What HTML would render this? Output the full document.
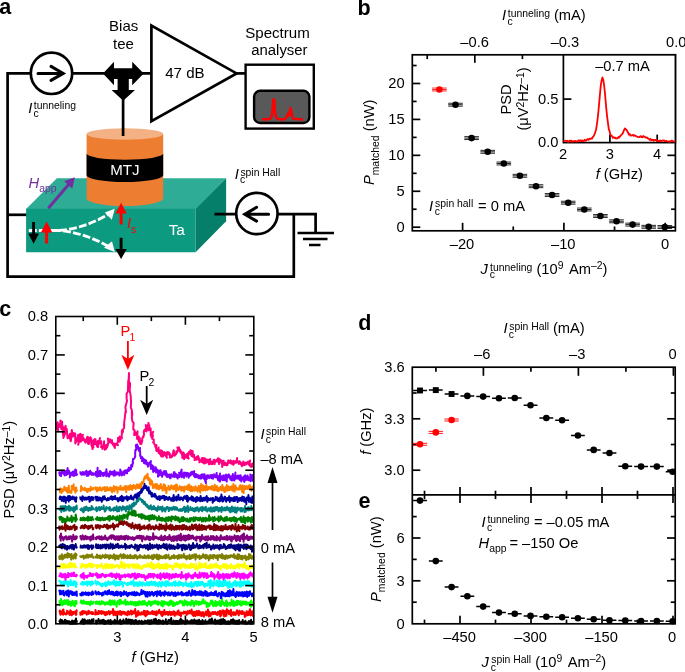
<!DOCTYPE html>
<html lang="en"><head><meta charset="utf-8"><title>Figure</title>
<style>html,body{margin:0;padding:0;background:#fff;width:685px;height:672px;overflow:hidden}svg{display:block}</style></head>
<body>
<svg width="685" height="672" viewBox="0 0 685 672" font-family='"Liberation Sans", sans-serif' font-size="14.7">
<rect width="685" height="672" fill="#fff"/>
<g id="panel-a">
<text x="-0.7" y="14" font-size="21.5" text-anchor="start" fill="#000" font-weight="bold" font-style="normal" >a</text>
<path d="M30 73.4 H7.6 V276.7 H293.8 V214.2" fill="none" stroke="#000" stroke-width="2.7" stroke-linejoin="miter"/>
<path d="M7.6 214.8 H27" fill="none" stroke="#000" stroke-width="2.7"/>
<path d="M73 73.4 H152" fill="none" stroke="#000" stroke-width="2.7"/>
<circle cx="51.5" cy="73.3" r="20.7" fill="#fff" stroke="#000" stroke-width="2.7"/>
<path d="M38 73.4 H62 M51 66.4 L63.2 73.4 L51 80.4" fill="none" stroke="#000" stroke-width="3" stroke-linejoin="miter" stroke-linecap="round"/>
<path d="M103 73.5 L114 61.8 V68.2 H132.2 V61.8 L143.7 73.5 L132.2 85.2 V78.9 H128.8 V90 H135 L123.2 100.7 L111.6 90 H117.6 V78.9 H114 V85.2 Z" fill="#000"/>
<path d="M123.1 98 V136" stroke="#000" stroke-width="2.7"/>
<text x="123.7" y="30.9" font-size="15.0" text-anchor="middle" fill="#000" font-weight="normal" font-style="normal" >Bias</text>
<text x="123.4" y="48.5" font-size="15.0" text-anchor="middle" fill="#000" font-weight="normal" font-style="normal" >tee</text>
<path d="M151.4 25.6 V121.2 L236.6 73.4 Z" fill="#fff" stroke="#000" stroke-width="2.7" stroke-linejoin="miter"/>
<text x="184.9" y="78" font-size="15.1" text-anchor="middle" fill="#000" font-weight="normal" font-style="normal" >47 dB</text>
<path d="M237 73.4 H246" stroke="#000" stroke-width="2.7"/>
<rect x="245.6" y="64.7" width="68.2" height="63.9" fill="#fff" stroke="#000" stroke-width="2.4"/>
<rect x="254.1" y="90.8" width="55.3" height="32.2" rx="6" fill="#595959" stroke="#000" stroke-width="2.4"/>
<path d="M262 119.2 H268.5 C271.8 119.2 272.6 116 273.2 99.6 H274.2 C274.8 116 275.8 119.2 279 119.2 H284.5 C286.5 119.2 287 114.5 288.2 113.5 L289.4 115.5 C289.8 111 290 108.2 290.5 108 C291.2 108.2 291.6 118 293.5 118.8 L303 119.6" fill="none" stroke="#f00" stroke-width="2.5" stroke-linejoin="round"/>
<text x="277.5" y="37.7" font-size="15.1" text-anchor="middle" fill="#000" font-weight="normal" font-style="normal" >Spectrum</text>
<text x="279.4" y="55.3" font-size="14.9" text-anchor="middle" fill="#000" font-weight="normal" font-style="normal" >analyser</text>
<polygon points="26.1,208.9 56.9,178.3 226.1,178.3 195.6,208.9" fill="#2eac95"/>
<polygon points="26.1,208.8 195.6,208.8 195.6,252.2 26.1,252.2" fill="#0c9a80"/>
<polygon points="195.6,208.8 226.1,178.3 226.1,221.2 195.6,252.2" fill="#067f6a"/>
<text x="176.8" y="234.9" font-size="15.4" text-anchor="middle" fill="#fff" font-weight="normal" font-style="normal" >Ta</text>
<path d="M214.5 214.2 H236 M278 214.2 H315.6 V233" fill="none" stroke="#000" stroke-width="2.7"/>
<circle cx="256.9" cy="213.5" r="20.7" fill="#fff" stroke="#000" stroke-width="2.7"/>
<path d="M268.6 214.2 H246 M256.6 207.3 L244.8 214.2 L256.6 221.1" fill="none" stroke="#000" stroke-width="3" stroke-linejoin="miter" stroke-linecap="round"/>
<path d="M297.5 233 H334 M303 239 H327.5 M309 245 H320.5" stroke="#000" stroke-width="2.7"/>
<path d="M86.60000000000001 134 V198.5 A38.3 7.5 0 0 0 163.2 198.5 V134 Z" fill="#ed7d31"/>
<path d="M86.60000000000001 153.5 A38.3 6.2 0 0 0 163.2 153.5 V175.2 A38.3 6.9 0 0 1 86.60000000000001 175.2 Z" fill="#000"/>
<ellipse cx="124.9" cy="134" rx="38.3" ry="5.7" fill="#f4b183"/>
<path d="M123.1 128 V136" stroke="#000" stroke-width="2.7"/>
<text x="124.9" y="174.6" font-size="15.1" text-anchor="middle" fill="#fff" font-weight="normal" font-style="normal" >MTJ</text>
<path d="M48.3 208.3 L68.4 184.8" stroke="#7030a0" stroke-width="3"/>
<polygon points="74.8,177.3 64.2,181.2 72.3,188.8" fill="#7030a0"/>
<text x="28.6" y="187.9" font-size="14.7" fill="#7030a0"><tspan font-style="italic">H</tspan><tspan font-size="10.4" dy="4.4">app</tspan></text>
<path d="M28.8 230.5 H56 C72 230.5 92 224 108 214.6" fill="none" stroke="#fff" stroke-width="2.8" stroke-dasharray="7.9 2.2"/>
<path d="M56 230.5 C72 230.5 92 237 108 246.2" fill="none" stroke="#fff" stroke-width="2.8" stroke-dasharray="7.9 2.2" stroke-dashoffset="3"/>
<polygon points="114.8,208.8 104.8,212.6 111.8,219.8" fill="#fff"/>
<polygon points="114.8,252 104,247.8 112,241.2" fill="#fff"/>
<path d="M33.6 222 V235.64" stroke="#000" stroke-width="2.9"/>
<polygon points="33.6,243.8 28.2,233.6 39,233.6" fill="#000"/>
<path d="M46.6 243.5 V230.24" stroke="#f00" stroke-width="3.0"/>
<polygon points="46.6,221.6 40.9,232.4 52.3,232.4" fill="#f00"/>
<path d="M121.1 224.5 V211.28" stroke="#f00" stroke-width="3.0"/>
<polygon points="121.1,202.8 115.4,213.4 126.8,213.4" fill="#f00"/>
<path d="M121.1 237.8 V251" stroke="#000" stroke-width="2.9"/>
<polygon points="121.1,259 115.4,249 126.8,249" fill="#000"/>
<text x="126.9" y="228.4" font-size="14.7" fill="#f00"><tspan font-style="italic">I</tspan><tspan font-size="10.4" dy="4.4">s</tspan></text>
<text x="28.2" y="112.8" font-size="14.7" font-style="italic" fill="#000">I</text>
<text x="33.8" y="109.1" font-size="10.4" fill="#000">tunneling</text>
<text x="33.4" y="116.9" font-size="10.4" fill="#000">c</text>
<text x="234.8" y="179.3" font-size="14.7" font-style="italic" fill="#000">I</text>
<text x="240.4" y="175.6" font-size="10.4" fill="#000">spin Hall</text>
<text x="240" y="183.4" font-size="10.4" fill="#000">c</text>
</g>
<g id="panel-b">
<text x="357.6" y="15.2" font-size="21.5" text-anchor="start" fill="#000" font-weight="bold" font-style="normal" >b</text>
<rect x="412.3" y="54.8" width="263.09999999999997" height="176.0" fill="none" stroke="#000" stroke-width="1.7"/>
<line x1="412.3" y1="227.2" x2="420.3" y2="227.2" stroke="#000" stroke-width="1.7" />
<line x1="675.4" y1="227.2" x2="667.4" y2="227.2" stroke="#000" stroke-width="1.7" />
<text x="404.7" y="232.15" font-size="14.7" text-anchor="end" fill="#000" font-weight="normal" font-style="normal" >0</text>
<line x1="412.3" y1="191.27" x2="420.3" y2="191.27" stroke="#000" stroke-width="1.7" />
<line x1="675.4" y1="191.27" x2="667.4" y2="191.27" stroke="#000" stroke-width="1.7" />
<text x="404.7" y="196.22" font-size="14.7" text-anchor="end" fill="#000" font-weight="normal" font-style="normal" >5</text>
<line x1="412.3" y1="155.34" x2="420.3" y2="155.34" stroke="#000" stroke-width="1.7" />
<line x1="675.4" y1="155.34" x2="667.4" y2="155.34" stroke="#000" stroke-width="1.7" />
<text x="404.7" y="160.29" font-size="14.7" text-anchor="end" fill="#000" font-weight="normal" font-style="normal" >10</text>
<line x1="412.3" y1="119.41" x2="420.3" y2="119.41" stroke="#000" stroke-width="1.7" />
<line x1="675.4" y1="119.41" x2="667.4" y2="119.41" stroke="#000" stroke-width="1.7" />
<text x="404.7" y="124.36" font-size="14.7" text-anchor="end" fill="#000" font-weight="normal" font-style="normal" >15</text>
<line x1="412.3" y1="83.48" x2="420.3" y2="83.48" stroke="#000" stroke-width="1.7" />
<line x1="675.4" y1="83.48" x2="667.4" y2="83.48" stroke="#000" stroke-width="1.7" />
<text x="404.7" y="88.43" font-size="14.7" text-anchor="end" fill="#000" font-weight="normal" font-style="normal" >20</text>
<line x1="412.3" y1="209.23" x2="416.6" y2="209.23" stroke="#000" stroke-width="1.7" />
<line x1="675.4" y1="209.23" x2="671.1" y2="209.23" stroke="#000" stroke-width="1.7" />
<line x1="412.3" y1="173.31" x2="416.6" y2="173.31" stroke="#000" stroke-width="1.7" />
<line x1="675.4" y1="173.31" x2="671.1" y2="173.31" stroke="#000" stroke-width="1.7" />
<line x1="412.3" y1="137.38" x2="416.6" y2="137.38" stroke="#000" stroke-width="1.7" />
<line x1="675.4" y1="137.38" x2="671.1" y2="137.38" stroke="#000" stroke-width="1.7" />
<line x1="412.3" y1="101.44" x2="416.6" y2="101.44" stroke="#000" stroke-width="1.7" />
<line x1="675.4" y1="101.44" x2="671.1" y2="101.44" stroke="#000" stroke-width="1.7" />
<line x1="412.3" y1="65.51" x2="416.6" y2="65.51" stroke="#000" stroke-width="1.7" />
<line x1="675.4" y1="65.51" x2="671.1" y2="65.51" stroke="#000" stroke-width="1.7" />
<line x1="462.6" y1="230.8" x2="462.6" y2="222.8" stroke="#000" stroke-width="1.7" />
<text x="462" y="249.4" font-size="14.7" text-anchor="middle" fill="#000" font-weight="normal" font-style="normal" >–20</text>
<line x1="563.9" y1="230.8" x2="563.9" y2="222.8" stroke="#000" stroke-width="1.7" />
<text x="563.3" y="249.4" font-size="14.7" text-anchor="middle" fill="#000" font-weight="normal" font-style="normal" >–10</text>
<line x1="665.2" y1="230.8" x2="665.2" y2="222.8" stroke="#000" stroke-width="1.7" />
<text x="665.2" y="249.4" font-size="14.7" text-anchor="middle" fill="#000" font-weight="normal" font-style="normal" >0</text>
<line x1="513.25" y1="230.8" x2="513.25" y2="226.5" stroke="#000" stroke-width="1.7" />
<line x1="614.55" y1="230.8" x2="614.55" y2="226.5" stroke="#000" stroke-width="1.7" />
<line x1="427.23" y1="54.8" x2="427.23" y2="59.1" stroke="#000" stroke-width="1.7" />
<line x1="474.82" y1="54.8" x2="474.82" y2="62.8" stroke="#000" stroke-width="1.7" />
<line x1="522.42" y1="54.8" x2="522.42" y2="59.1" stroke="#000" stroke-width="1.7" />
<line x1="570.01" y1="54.8" x2="570.01" y2="62.8" stroke="#000" stroke-width="1.7" />
<line x1="617.61" y1="54.8" x2="617.61" y2="59.1" stroke="#000" stroke-width="1.7" />
<line x1="665.2" y1="54.8" x2="665.2" y2="62.8" stroke="#000" stroke-width="1.7" />
<text x="474.6" y="47.2" font-size="14.7" text-anchor="middle" fill="#000" font-weight="normal" font-style="normal" >–0.6</text>
<text x="565" y="47.2" font-size="14.7" text-anchor="middle" fill="#000" font-weight="normal" font-style="normal" >–0.3</text>
<text x="666" y="47.2" font-size="14.7" text-anchor="start" fill="#000" font-weight="normal" font-style="normal" >0.0</text>
<line x1="657.5" y1="225.55" x2="672.1" y2="225.55" stroke="#000" stroke-width="0.85"/>
<line x1="657.5" y1="227" x2="672.1" y2="227" stroke="#000" stroke-width="0.85"/>
<line x1="657.5" y1="228.45" x2="672.1" y2="228.45" stroke="#000" stroke-width="0.85"/>
<circle cx="664.8" cy="227" r="3.3" fill="#000"/>
<line x1="641.4" y1="225.35" x2="656" y2="225.35" stroke="#000" stroke-width="0.85"/>
<line x1="641.4" y1="226.8" x2="656" y2="226.8" stroke="#000" stroke-width="0.85"/>
<line x1="641.4" y1="228.25" x2="656" y2="228.25" stroke="#000" stroke-width="0.85"/>
<circle cx="648.7" cy="226.8" r="3.3" fill="#000"/>
<line x1="625.3" y1="223.15" x2="639.9" y2="223.15" stroke="#000" stroke-width="0.85"/>
<line x1="625.3" y1="224.6" x2="639.9" y2="224.6" stroke="#000" stroke-width="0.85"/>
<line x1="625.3" y1="226.05" x2="639.9" y2="226.05" stroke="#000" stroke-width="0.85"/>
<circle cx="632.6" cy="224.6" r="3.3" fill="#000"/>
<line x1="609.2" y1="219.85" x2="623.8" y2="219.85" stroke="#000" stroke-width="0.85"/>
<line x1="609.2" y1="221.3" x2="623.8" y2="221.3" stroke="#000" stroke-width="0.85"/>
<line x1="609.2" y1="222.75" x2="623.8" y2="222.75" stroke="#000" stroke-width="0.85"/>
<circle cx="616.5" cy="221.3" r="3.3" fill="#000"/>
<line x1="593.1" y1="214.55" x2="607.7" y2="214.55" stroke="#000" stroke-width="0.85"/>
<line x1="593.1" y1="216" x2="607.7" y2="216" stroke="#000" stroke-width="0.85"/>
<line x1="593.1" y1="217.45" x2="607.7" y2="217.45" stroke="#000" stroke-width="0.85"/>
<circle cx="600.4" cy="216" r="3.3" fill="#000"/>
<line x1="577" y1="208.05" x2="591.6" y2="208.05" stroke="#000" stroke-width="0.85"/>
<line x1="577" y1="209.5" x2="591.6" y2="209.5" stroke="#000" stroke-width="0.85"/>
<line x1="577" y1="210.95" x2="591.6" y2="210.95" stroke="#000" stroke-width="0.85"/>
<circle cx="584.3" cy="209.5" r="3.3" fill="#000"/>
<line x1="560.9" y1="201.25" x2="575.5" y2="201.25" stroke="#000" stroke-width="0.85"/>
<line x1="560.9" y1="202.7" x2="575.5" y2="202.7" stroke="#000" stroke-width="0.85"/>
<line x1="560.9" y1="204.15" x2="575.5" y2="204.15" stroke="#000" stroke-width="0.85"/>
<circle cx="568.2" cy="202.7" r="3.3" fill="#000"/>
<line x1="544.8" y1="193.55" x2="559.4" y2="193.55" stroke="#000" stroke-width="0.85"/>
<line x1="544.8" y1="195" x2="559.4" y2="195" stroke="#000" stroke-width="0.85"/>
<line x1="544.8" y1="196.45" x2="559.4" y2="196.45" stroke="#000" stroke-width="0.85"/>
<circle cx="552.1" cy="195" r="3.3" fill="#000"/>
<line x1="528.7" y1="184.75" x2="543.3" y2="184.75" stroke="#000" stroke-width="0.85"/>
<line x1="528.7" y1="186.2" x2="543.3" y2="186.2" stroke="#000" stroke-width="0.85"/>
<line x1="528.7" y1="187.65" x2="543.3" y2="187.65" stroke="#000" stroke-width="0.85"/>
<circle cx="536" cy="186.2" r="3.3" fill="#000"/>
<line x1="512.6" y1="174.35" x2="527.2" y2="174.35" stroke="#000" stroke-width="0.85"/>
<line x1="512.6" y1="175.8" x2="527.2" y2="175.8" stroke="#000" stroke-width="0.85"/>
<line x1="512.6" y1="177.25" x2="527.2" y2="177.25" stroke="#000" stroke-width="0.85"/>
<circle cx="519.9" cy="175.8" r="3.3" fill="#000"/>
<line x1="496.5" y1="162.05" x2="511.1" y2="162.05" stroke="#000" stroke-width="0.85"/>
<line x1="496.5" y1="163.5" x2="511.1" y2="163.5" stroke="#000" stroke-width="0.85"/>
<line x1="496.5" y1="164.95" x2="511.1" y2="164.95" stroke="#000" stroke-width="0.85"/>
<circle cx="503.8" cy="163.5" r="3.3" fill="#000"/>
<line x1="480.4" y1="150.35" x2="495" y2="150.35" stroke="#000" stroke-width="0.85"/>
<line x1="480.4" y1="151.8" x2="495" y2="151.8" stroke="#000" stroke-width="0.85"/>
<line x1="480.4" y1="153.25" x2="495" y2="153.25" stroke="#000" stroke-width="0.85"/>
<circle cx="487.7" cy="151.8" r="3.3" fill="#000"/>
<line x1="464.3" y1="136.65" x2="478.9" y2="136.65" stroke="#000" stroke-width="0.85"/>
<line x1="464.3" y1="138.1" x2="478.9" y2="138.1" stroke="#000" stroke-width="0.85"/>
<line x1="464.3" y1="139.55" x2="478.9" y2="139.55" stroke="#000" stroke-width="0.85"/>
<circle cx="471.6" cy="138.1" r="3.3" fill="#000"/>
<line x1="448.2" y1="103.25" x2="462.8" y2="103.25" stroke="#000" stroke-width="0.85"/>
<line x1="448.2" y1="104.7" x2="462.8" y2="104.7" stroke="#000" stroke-width="0.85"/>
<line x1="448.2" y1="106.15" x2="462.8" y2="106.15" stroke="#000" stroke-width="0.85"/>
<circle cx="455.5" cy="104.7" r="3.3" fill="#000"/>
<line x1="432.1" y1="88.05" x2="446.7" y2="88.05" stroke="#f00" stroke-width="0.85"/>
<line x1="432.1" y1="89.5" x2="446.7" y2="89.5" stroke="#f00" stroke-width="0.85"/>
<line x1="432.1" y1="90.95" x2="446.7" y2="90.95" stroke="#f00" stroke-width="0.85"/>
<circle cx="439.4" cy="89.5" r="3.3" fill="#f00"/>
<text x="502" y="20.4" font-size="14.7" font-style="italic" fill="#000">I</text>
<text x="507.8" y="16.7" font-size="10.4" fill="#000">tunneling</text>
<text x="507.4" y="24.5" font-size="10.4" fill="#000">c</text>
<text x="553.9" y="20.4" font-size="14.7" fill="#000">(mA)</text>
<text x="480.5" y="274.2" font-size="14.7" font-style="italic" fill="#000">J</text>
<text x="490.1" y="270.5" font-size="10.4" fill="#000">tunneling</text>
<text x="489.7" y="278.3" font-size="10.4" fill="#000">c</text>
<text x="536.4" y="274.2" font-size="14.7" fill="#000">(10<tspan font-size="10.4" dy="-5.5">9</tspan><tspan dy="5.5" dx="2.2"> Am</tspan><tspan font-size="10.4" dy="-5.5">–2</tspan><tspan dy="5.5">)</tspan></text>
<text x="429.1" y="210.7" font-size="14.7" font-style="italic" fill="#000">I</text>
<text x="435.1" y="207" font-size="10.4" fill="#000">spin hall</text>
<text x="434.7" y="214.8" font-size="10.4" fill="#000">c</text>
<text x="478" y="210.7" font-size="14.7" fill="#000">= 0 mA</text>
<text transform="translate(374.3 142.3) rotate(-90)" font-size="14.7" text-anchor="middle" ><tspan font-style="italic">P</tspan><tspan font-size="10.4" dy="4.4">matched</tspan><tspan dy="-4.4"> (nW)</tspan></text>
<rect x="563.4" y="54.8" width="112.0" height="87.8" fill="#fff" stroke="#000" stroke-width="1.7"/>
<line x1="563.4" y1="99.1" x2="571.4" y2="99.1" stroke="#000" stroke-width="1.7" />
<text x="558.5" y="103.8" font-size="14.7" text-anchor="end" fill="#000" font-weight="normal" font-style="normal" >0.5</text>
<text x="558.5" y="147.4" font-size="14.7" text-anchor="end" fill="#000" font-weight="normal" font-style="normal" >0.0</text>
<line x1="609.9" y1="142.6" x2="609.9" y2="134.6" stroke="#000" stroke-width="1.7" />
<line x1="657.2" y1="142.6" x2="657.2" y2="134.6" stroke="#000" stroke-width="1.7" />
<text x="563.2" y="158.8" font-size="14.7" text-anchor="middle" fill="#000" font-weight="normal" font-style="normal" >2</text>
<text x="609.9" y="158.8" font-size="14.7" text-anchor="middle" fill="#000" font-weight="normal" font-style="normal" >3</text>
<text x="657.2" y="158.8" font-size="14.7" text-anchor="middle" fill="#000" font-weight="normal" font-style="normal" >4</text>
<text x="619.3" y="178.6" font-size="14.7" text-anchor="middle" fill="#000" font-weight="normal" font-style="normal" ><tspan font-style="italic">f</tspan> (GHz)</text>
<text x="622.5" y="70.8" font-size="14.7" text-anchor="middle" fill="#000" font-weight="normal" font-style="normal" >–0.7 mA</text>
<text transform="translate(510.8 99.5) rotate(-90)" font-size="14.7" text-anchor="middle" >PSD</text>
<text transform="translate(528.3 98.9) rotate(-90)" font-size="14.7" text-anchor="middle" >(μV<tspan font-size="10.4" dy="-4.4">2</tspan><tspan dy="4.4">Hz</tspan><tspan font-size="10.4" dy="-4.4">–1</tspan><tspan dy="4.4">)</tspan></text>
<polyline points="563.2,141.22 564,141.04 564.8,140.95 565.6,140.73 566.4,141 567.2,140.73 568,141.95 568.81,141.32 569.61,140.64 570.41,141.03 571.21,140.65 572.01,141.72 572.81,141.2 573.61,141.48 574.41,141.04 575.21,140.96 576.01,141.7 576.81,141.38 577.61,141.25 578.41,140.32 579.21,140.47 580.02,141.26 580.82,140.31 581.62,141.16 582.42,140.42 583.22,141.01 584.02,141.09 584.82,139.78 585.62,140.58 586.42,140.44 587.22,139.22 588.02,139.2 588.82,139.81 589.62,138.64 590.42,138.94 591.23,138.39 592.03,138.58 592.83,136.89 593.63,136.27 594.43,134.4 595.23,132.25 596.03,129.74 596.83,124.94 597.63,118.94 598.43,111.23 599.23,102.57 600.03,93.34 600.83,85.08 601.63,80.46 602.44,77.47 603.24,79.72 604.04,84.98 604.84,91.94 605.64,101.23 606.44,110.2 607.24,117.73 608.04,123.71 608.84,129.35 609.64,131.4 610.44,134.95 611.24,135.36 612.04,136.13 612.84,137.84 613.65,137.12 614.45,137.92 615.25,137.74 616.05,138.57 616.85,138.48 617.65,138.18 618.45,136.89 619.25,137.62 620.05,136.37 620.85,135.44 621.65,134.45 622.45,133.94 623.25,132.19 624.05,130.05 624.86,128.36 625.66,129.31 626.46,129.68 627.26,131.22 628.06,132.5 628.86,134.62 629.66,133.99 630.46,135.59 631.26,135.49 632.06,135.27 632.86,134.96 633.66,135.88 634.46,135.18 635.26,135.84 636.07,136.32 636.87,136.48 637.67,136.85 638.47,137.14 639.27,137.17 640.07,136.5 640.87,136.09 641.67,137.22 642.47,137.31 643.27,135.95 644.07,136.61 644.87,136.96 645.67,137.53 646.48,137.46 647.28,137.6 648.08,138.55 648.88,138.98 649.68,139.82 650.48,138.9 651.28,140.36 652.08,139.91 652.88,139.6 653.68,140.73 654.48,140.01 655.28,139.82 656.08,140.36 656.88,140.22 657.69,141.25 658.49,140.86 659.29,141.31 660.09,140.4 660.89,141.21 661.69,141.04 662.49,140.32 663.29,140.56 664.09,140.43 664.89,141.18 665.69,141.17 666.49,140.86 667.29,141.23 668.09,141.52 668.9,141.38 669.7,141.76 670.5,141.46 671.3,140.63 672.1,140.69 672.9,141.17 673.7,141.36 674.5,141.6 675.3,141.96" fill="none" stroke="#f00" stroke-width="1.8" stroke-linejoin="round"/>
</g>
<g id="panel-c">
<text x="-0.8" y="316" font-size="21.5" text-anchor="start" fill="#000" font-weight="bold" font-style="normal" >c</text>
<clipPath id="cc"><rect x="55.8" y="316.5" width="198.0" height="308.29999999999995"/></clipPath>
<g clip-path="url(#cc)" fill="none" stroke-width="2" stroke-linejoin="round" stroke-linecap="butt">
<polyline points="59.2,622.1 59.5,620.9 59.8,621.4 60.1,623.2 60.4,619.6 60.7,622.2 61.0,623.1 61.3,621.3 61.6,621.5 61.9,620.1 62.2,622.0 62.5,621.7 62.8,622.8 63.1,622.2 63.4,622.7 63.7,621.3 64.0,621.5 64.3,621.7 64.6,621.6 64.9,619.8 65.2,622.7 65.5,622.3 65.8,620.3 66.1,620.6 66.4,621.2 66.7,622.0 67.0,621.1 67.3,621.9 67.6,623.1 67.9,621.0 68.2,622.8 68.5,621.7 68.8,623.0 69.1,622.5 69.4,621.3 69.7,621.5 70.0,624.3 70.3,623.7 70.6,623.2 70.9,623.3 71.2,621.7 71.5,625.0 71.8,623.5 72.1,620.5 72.4,624.9 72.7,623.4 73.0,620.9 73.3,622.7 73.6,623.3 73.9,624.2 74.2,623.3 74.5,621.7 74.8,620.6 75.1,622.7 75.4,620.6 75.7,623.0 76.0,618.5 76.3,625.5 76.6,620.7 76.9,622.4" stroke="#000000"/>
<polyline points="80.2,622.0 80.5,622.9 80.8,621.6 81.1,623.6 81.4,621.7 81.7,620.5 82.0,622.1 82.3,622.3 82.6,619.2 82.9,622.2 83.2,622.1 83.5,625.6 83.8,622.5 84.1,619.4 84.4,620.1 84.7,619.5 85.0,623.2 85.3,620.6 85.6,622.8 85.9,620.8 86.2,621.0 86.5,621.0 86.8,622.6 87.1,621.9 87.4,620.8 87.7,620.4 88.0,622.6 88.3,622.8 88.6,622.3 88.9,622.0 89.2,620.6 89.5,620.1 89.8,621.9 90.1,623.4 90.4,622.4 90.7,620.9 91.0,622.6 91.3,623.2 91.6,622.9 91.9,619.4 92.2,621.1 92.5,621.3 92.8,622.9 93.1,620.0 93.4,619.2 93.7,622.6" stroke="#000000"/>
<polyline points="95.2,621.7 95.5,622.0 95.8,621.6 96.1,620.4 96.4,623.7 96.7,621.9 97.0,621.9 97.3,621.1 97.6,622.2 97.9,620.9 98.2,620.6 98.5,619.1 98.8,621.1 99.1,621.9 99.4,622.0 99.7,621.2 100.0,622.9 100.3,620.5 100.6,620.5 100.9,623.0 101.2,621.5 101.5,621.1 101.8,622.8 102.1,620.0 102.4,622.8 102.7,620.4 103.0,621.5 103.3,621.3 103.6,619.8 103.9,620.4 104.2,624.3 104.5,621.7 104.8,621.4 105.1,624.2 105.4,621.0 105.7,622.6 106.0,621.2 106.3,621.9 106.6,621.5 106.9,621.2 107.2,623.6 107.5,622.4 107.9,621.6 108.2,620.3 108.5,621.5 108.8,621.8 109.1,623.4 109.4,623.8 109.7,620.8 110.0,620.7 110.3,623.0 110.6,619.9 110.9,624.2 111.2,621.8 111.5,621.7 111.8,621.6 112.1,621.8 112.4,621.7 112.7,623.2 113.0,621.3 113.3,621.4 113.6,621.5 113.9,621.2 114.2,623.3 114.5,622.9 114.8,619.7 115.1,622.1 115.4,623.6 115.7,621.8 116.0,621.8 116.3,622.9 116.6,621.0 116.9,623.3 117.2,623.2 117.5,623.1 117.8,622.9 118.1,621.8 118.4,622.8 118.7,621.8 119.0,623.6 119.3,620.8 119.6,620.6 119.9,621.3 120.2,619.8 120.5,621.4 120.8,624.5 121.1,626.3 121.4,621.6 121.7,624.0 122.0,622.6 122.3,621.0 122.6,621.5 122.9,623.0 123.2,622.1 123.5,619.5 123.8,621.9 124.1,621.8 124.4,621.7 124.7,622.2 125.0,622.1 125.3,621.3 125.6,621.5 125.9,622.6 126.2,618.8 126.5,621.7 126.8,623.3 127.1,622.5 127.4,623.2 127.7,621.8 128.0,621.8 128.3,619.6 128.6,623.1 128.9,620.7 129.2,622.6 129.5,621.9 129.8,620.7 130.1,619.6 130.4,621.0 130.7,621.0 131.0,621.8 131.3,624.7 131.6,619.9 131.9,620.9 132.2,620.6 132.5,620.1 132.8,620.8 133.1,621.6 133.4,623.2 133.7,622.2 134.0,620.7 134.3,625.0 134.6,621.0 134.9,620.6 135.2,621.6 135.5,622.0 135.8,620.0 136.1,622.0 136.4,620.6 136.7,623.2 137.0,622.2 137.3,622.4 137.6,624.7 137.9,621.4 138.2,621.7 138.5,622.0 138.8,621.6 139.1,620.8 139.4,623.0 139.7,623.4 140.0,623.5 140.3,621.9 140.6,621.8 140.9,621.8 141.2,622.8 141.5,620.7 141.8,624.0 142.1,622.2 142.4,622.4 142.7,623.8 143.0,623.7 143.3,621.6 143.6,621.9 143.9,623.5 144.2,622.8 144.5,622.1 144.8,621.6 145.1,620.6 145.4,621.8 145.7,621.7 146.0,621.1 146.3,622.5 146.6,621.9 146.9,622.6 147.2,622.2 147.5,621.2 147.8,620.3 148.1,622.0 148.4,621.1 148.7,623.9 149.0,620.4 149.3,622.9 149.6,620.6 149.9,621.0 150.2,621.2 150.5,625.6 150.8,620.8 151.1,622.3 151.4,623.5 151.7,621.7 152.0,621.9 152.3,623.2 152.6,621.5 152.9,623.1 153.2,623.2 153.5,619.6 153.8,622.4 154.1,620.4 154.4,621.2 154.7,622.5 155.0,620.9 155.3,618.7 155.6,623.4 155.9,619.0 156.2,622.4 156.5,623.5 156.8,622.3 157.1,621.4 157.4,621.0 157.7,621.5 158.0,623.9 158.3,622.6 158.6,620.1 158.9,622.8 159.2,623.6 159.5,622.4 159.8,620.3 160.1,620.6 160.4,621.4 160.7,621.1 161.0,623.4 161.3,621.2 161.6,623.5 161.9,623.1 162.2,622.9 162.5,623.8 162.8,620.6 163.1,620.8 163.4,624.2 163.7,621.6 164.0,622.6 164.3,621.8 164.6,621.9 164.9,621.9 165.2,621.5 165.5,622.5 165.8,619.3 166.1,623.2 166.4,624.0 166.7,621.4 167.0,624.5 167.3,621.8 167.6,622.8 167.9,621.8 168.2,622.1 168.5,620.0 168.8,621.4 169.1,620.4 169.4,620.3 169.7,619.9 170.0,621.9 170.3,621.9 170.6,620.9 170.9,622.6 171.2,618.1 171.5,622.7 171.8,623.5 172.1,625.5 172.4,622.6 172.7,623.5 173.0,621.4 173.3,622.9 173.6,620.6 173.9,622.3 174.2,623.0 174.5,624.3 174.8,621.6 175.1,623.2 175.4,624.2 175.7,623.7 176.0,620.8 176.3,625.0 176.6,621.6 176.9,621.0 177.2,622.1 177.5,623.2 177.8,620.9 178.1,621.8 178.4,626.1 178.7,621.2 179.0,622.2 179.3,623.8 179.6,620.2 179.9,622.7 180.2,623.0 180.5,620.9 180.8,618.7 181.1,623.6 181.4,623.9 181.7,622.2 182.0,620.2 182.3,622.8 182.6,621.7 182.9,622.4 183.2,621.8 183.5,621.4 183.8,620.9 184.1,622.0 184.4,621.5 184.7,621.7 185.0,624.4 185.3,623.3 185.6,622.8 185.9,622.6 186.2,623.7 186.5,623.0 186.8,622.8 187.1,620.2 187.4,622.2 187.7,621.1 188.0,621.4 188.3,622.5 188.6,621.4 188.9,621.4 189.2,623.3 189.5,623.3 189.8,623.3 190.1,622.9 190.4,620.8 190.7,621.5 191.0,620.9 191.3,621.6 191.6,622.6 191.9,620.1 192.2,623.4 192.5,620.6 192.8,622.8 193.1,622.8 193.4,622.5 193.7,621.6 194.0,622.0 194.3,619.6 194.6,622.9 194.9,622.2 195.2,623.3 195.5,621.9 195.8,620.5 196.1,622.3 196.4,623.8 196.7,623.0 197.0,621.9 197.3,620.4 197.6,624.2 197.9,621.2 198.2,623.5 198.5,624.0 198.8,622.2 199.1,619.7 199.4,625.5 199.7,621.6 200.0,622.8 200.3,621.2 200.6,624.9 200.9,623.2 201.2,624.9 201.5,624.6 201.8,621.7 202.1,621.7 202.4,620.0 202.7,620.6 203.0,624.3 203.3,625.3 203.6,624.2 203.9,621.6 204.2,622.1 204.5,622.5 204.8,622.2 205.2,621.4 205.5,620.3 205.8,623.5 206.1,622.0 206.4,623.8 206.7,623.4 207.0,621.9 207.3,622.0 207.6,621.6 207.9,621.8 208.2,621.4 208.5,621.7 208.8,622.4 209.1,620.5 209.4,619.6 209.7,622.2 210.0,619.5 210.3,622.7 210.6,620.5 210.9,621.4 211.2,622.8 211.5,622.0 211.8,618.6 212.1,619.7 212.4,620.5 212.7,621.4 213.0,622.9 213.3,621.8 213.6,622.7 213.9,621.7 214.2,623.3 214.5,622.5 214.8,620.1 215.1,619.5 215.4,623.2 215.7,624.3 216.0,620.5 216.3,623.5 216.6,623.3 216.9,622.1 217.2,623.3 217.5,622.5 217.8,620.6 218.1,623.0 218.4,621.9 218.7,622.9 219.0,623.8 219.3,620.8 219.6,622.5 219.9,625.5 220.2,621.7 220.5,621.2 220.8,622.4 221.1,619.2 221.4,624.4 221.7,625.3 222.0,622.7 222.3,621.2 222.6,620.8 222.9,621.7 223.2,619.1 223.5,622.5 223.8,623.6 224.1,621.4 224.4,623.3 224.7,620.0 225.0,623.7 225.3,620.9 225.6,623.5 225.9,621.4 226.2,624.4 226.5,624.7 226.8,623.0 227.1,622.2 227.4,621.5 227.7,624.9 228.0,622.9 228.3,621.2 228.6,624.1 228.9,625.2 229.2,622.3 229.5,622.7 229.8,624.3 230.1,622.0 230.4,621.1 230.7,623.5 231.0,620.1 231.3,621.6 231.6,620.1 231.9,621.6 232.2,621.0 232.5,621.2 232.8,622.7 233.1,619.2 233.4,623.6 233.7,623.9 234.0,621.9 234.3,620.5 234.6,620.4 234.9,622.6 235.2,622.1 235.5,622.5 235.8,624.6 236.1,623.5 236.4,621.2 236.7,620.9 237.0,623.1 237.3,622.5 237.6,620.8 237.9,624.1 238.2,623.7 238.5,623.3 238.8,624.3 239.1,620.0 239.4,623.0 239.7,623.2 240.0,622.3 240.3,622.4 240.6,622.2 240.9,622.8 241.2,622.4 241.5,621.7 241.8,622.9 242.1,622.4 242.4,623.5 242.7,619.9 243.0,623.5 243.3,621.9 243.6,622.9 243.9,623.1 244.2,621.9 244.5,622.6 244.8,621.8 245.1,624.1 245.4,620.7 245.7,621.2 246.0,624.0 246.3,623.9 246.6,623.5 246.9,623.9 247.2,623.0 247.5,623.9 247.8,623.7 248.1,622.2 248.4,621.5 248.7,622.7 249.0,620.9 249.3,622.5 249.6,623.3 249.9,624.3 250.2,620.9 250.5,622.7 250.8,621.6 251.1,619.7 251.4,622.0 251.7,623.5 252.0,623.9 252.3,624.6 252.6,622.1 252.9,622.8 253.2,622.4 253.5,621.9 253.8,623.6" stroke="#000000"/>
<polyline points="59.2,612.4 59.5,611.5 59.8,610.4 60.1,613.4 60.4,614.8 60.7,613.3 61.0,611.8 61.3,613.9 61.6,613.0 61.9,613.0 62.2,611.5 62.5,612.5 62.8,609.7 63.1,614.8 63.4,609.4 63.7,611.8 64.0,612.1 64.3,613.1 64.6,613.1 64.9,614.1 65.2,613.4 65.5,613.5 65.8,614.5 66.1,613.2 66.4,613.8 66.7,614.2 67.0,610.8 67.3,612.3 67.6,613.4 67.9,613.2 68.2,613.3 68.5,611.8 68.8,613.7 69.1,612.9 69.4,611.6 69.7,615.0 70.0,614.4 70.3,610.2 70.6,614.1 70.9,611.8 71.2,611.2 71.5,613.4 71.8,615.3 72.1,611.7 72.4,612.5 72.7,614.1 73.0,614.0 73.3,612.7 73.6,613.8 73.9,611.8 74.2,612.9 74.5,613.5 74.8,612.8 75.1,612.0 75.4,611.4 75.7,612.3 76.0,615.0 76.3,614.6 76.6,610.3 76.9,612.0" stroke="#ff0000"/>
<polyline points="80.2,611.6 80.5,614.8 80.8,612.6 81.1,614.2 81.4,611.8 81.7,612.0 82.0,611.9 82.3,614.4 82.6,611.1 82.9,612.3 83.2,611.3 83.5,611.1 83.8,613.6 84.1,612.1 84.4,613.0 84.7,611.4 85.0,612.6 85.3,611.7 85.6,611.9 85.9,611.5 86.2,613.5 86.5,613.2 86.8,614.7 87.1,612.9 87.4,613.2 87.7,612.5 88.0,613.5 88.3,610.8 88.6,613.9 88.9,611.5 89.2,612.7 89.5,611.5 89.8,612.2 90.1,613.3 90.4,612.5 90.7,612.9 91.0,613.0 91.3,612.6 91.6,612.1 91.9,614.1 92.2,613.4 92.5,612.9 92.8,612.2 93.1,613.2 93.4,613.1 93.7,614.9" stroke="#ff0000"/>
<polyline points="95.2,615.4 95.5,610.1 95.8,613.5 96.1,612.1 96.4,613.0 96.7,613.2 97.0,614.3 97.3,614.1 97.6,612.9 97.9,612.8 98.2,612.4 98.5,611.0 98.8,613.9 99.1,611.0 99.4,612.8 99.7,612.5 100.0,612.0 100.3,612.7 100.6,612.5 100.9,613.5 101.2,611.0 101.5,613.9 101.8,613.4 102.1,612.2 102.4,613.4 102.7,612.0 103.0,611.4 103.3,612.2 103.6,613.3 103.9,613.8 104.2,613.0 104.5,613.5 104.8,612.0 105.1,615.1 105.4,614.5 105.7,615.1 106.0,614.0 106.3,614.0 106.6,612.1 106.9,614.5 107.2,612.5 107.5,613.9 107.9,612.9 108.2,612.0 108.5,612.2 108.8,611.1 109.1,611.5 109.4,612.7 109.7,614.4 110.0,611.7 110.3,611.8 110.6,613.4 110.9,611.8 111.2,612.7 111.5,611.8 111.8,611.8 112.1,612.4 112.4,613.3 112.7,611.6 113.0,609.0 113.3,613.9 113.6,615.3 113.9,612.7 114.2,611.3 114.5,612.0 114.8,611.6 115.1,612.9 115.4,611.7 115.7,615.2 116.0,613.4 116.3,612.4 116.6,614.6 116.9,613.7 117.2,611.7 117.5,615.2 117.8,611.5 118.1,612.2 118.4,612.3 118.7,613.4 119.0,613.3 119.3,611.4 119.6,613.6 119.9,614.5 120.2,611.1 120.5,614.6 120.8,614.7 121.1,611.8 121.4,614.9 121.7,613.2 122.0,614.0 122.3,612.3 122.6,611.8 122.9,613.5 123.2,611.7 123.5,613.4 123.8,612.5 124.1,613.7 124.4,613.1 124.7,612.0 125.0,614.2 125.3,614.5 125.6,614.0 125.9,613.7 126.2,612.7 126.5,614.3 126.8,614.4 127.1,615.2 127.4,615.1 127.7,611.5 128.0,612.3 128.3,611.2 128.6,613.0 128.9,613.3 129.2,613.8 129.5,614.5 129.8,611.9 130.1,613.0 130.4,612.2 130.7,613.3 131.0,610.6 131.3,611.9 131.6,614.4 131.9,613.6 132.2,614.3 132.5,611.9 132.8,611.2 133.1,613.4 133.4,613.3 133.7,613.2 134.0,611.5 134.3,612.5 134.6,613.1 134.9,611.6 135.2,609.0 135.5,613.8 135.8,614.2 136.1,616.8 136.4,614.3 136.7,614.1 137.0,612.6 137.3,614.8 137.6,611.7 137.9,615.4 138.2,610.9 138.5,614.1 138.8,613.5 139.1,612.5 139.4,613.6 139.7,612.9 140.0,614.8 140.3,614.7 140.6,614.5 140.9,613.7 141.2,613.2 141.5,612.3 141.8,613.4 142.1,614.5 142.4,612.6 142.7,612.6 143.0,612.5 143.3,612.9 143.6,614.1 143.9,610.8 144.2,613.3 144.5,615.2 144.8,611.2 145.1,614.6 145.4,613.4 145.7,616.3 146.0,611.2 146.3,613.5 146.6,613.7 146.9,615.1 147.2,614.5 147.5,610.9 147.8,612.7 148.1,613.0 148.4,613.7 148.7,612.0 149.0,613.9 149.3,613.1 149.6,613.4 149.9,613.7 150.2,613.7 150.5,612.6 150.8,613.6 151.1,613.8 151.4,613.0 151.7,611.5 152.0,613.1 152.3,613.0 152.6,611.1 152.9,614.1 153.2,613.6 153.5,611.7 153.8,614.2 154.1,612.5 154.4,612.9 154.7,613.8 155.0,611.5 155.3,611.9 155.6,614.8 155.9,615.0 156.2,612.1 156.5,615.3 156.8,611.3 157.1,614.0 157.4,613.8 157.7,612.1 158.0,612.9 158.3,612.3 158.6,613.1 158.9,611.8 159.2,609.7 159.5,612.8 159.8,611.7 160.1,611.8 160.4,613.5 160.7,613.9 161.0,612.6 161.3,614.8 161.6,611.7 161.9,613.6 162.2,616.1 162.5,611.8 162.8,614.3 163.1,612.3 163.4,614.8 163.7,613.0 164.0,613.4 164.3,610.1 164.6,612.8 164.9,614.2 165.2,614.2 165.5,614.4 165.8,614.1 166.1,614.0 166.4,612.0 166.7,614.0 167.0,611.9 167.3,612.1 167.6,612.8 167.9,612.0 168.2,615.1 168.5,612.5 168.8,614.0 169.1,614.5 169.4,613.7 169.7,611.4 170.0,612.0 170.3,612.9 170.6,612.2 170.9,615.2 171.2,613.4 171.5,612.2 171.8,613.5 172.1,612.3 172.4,612.5 172.7,612.1 173.0,614.7 173.3,612.6 173.6,611.3 173.9,611.4 174.2,612.0 174.5,612.6 174.8,615.8 175.1,612.2 175.4,613.5 175.7,612.9 176.0,614.1 176.3,614.3 176.6,614.3 176.9,614.7 177.2,612.6 177.5,611.2 177.8,612.1 178.1,611.5 178.4,610.5 178.7,612.0 179.0,614.3 179.3,615.0 179.6,614.6 179.9,614.7 180.2,612.6 180.5,612.6 180.8,616.4 181.1,615.3 181.4,612.8 181.7,612.9 182.0,612.9 182.3,613.2 182.6,612.9 182.9,612.8 183.2,613.6 183.5,613.2 183.8,611.6 184.1,613.3 184.4,613.2 184.7,613.0 185.0,613.2 185.3,611.8 185.6,613.2 185.9,613.1 186.2,612.8 186.5,614.0 186.8,614.9 187.1,611.9 187.4,612.5 187.7,611.0 188.0,613.8 188.3,612.3 188.6,612.1 188.9,613.1 189.2,612.7 189.5,613.3 189.8,610.7 190.1,613.3 190.4,611.5 190.7,613.0 191.0,610.7 191.3,613.2 191.6,609.6 191.9,612.1 192.2,614.3 192.5,613.6 192.8,615.2 193.1,613.0 193.4,611.8 193.7,616.1 194.0,613.9 194.3,614.8 194.6,612.0 194.9,615.2 195.2,614.9 195.5,616.0 195.8,614.1 196.1,614.4 196.4,611.1 196.7,611.5 197.0,614.4 197.3,614.3 197.6,615.2 197.9,614.0 198.2,610.9 198.5,613.7 198.8,610.8 199.1,615.2 199.4,613.9 199.7,611.7 200.0,613.2 200.3,613.1 200.6,613.3 200.9,612.6 201.2,615.9 201.5,612.5 201.8,615.9 202.1,615.0 202.4,613.0 202.7,614.9 203.0,611.9 203.3,613.0 203.6,613.9 203.9,616.7 204.2,613.8 204.5,613.7 204.8,614.1 205.2,614.6 205.5,612.8 205.8,611.5 206.1,613.1 206.4,613.8 206.7,615.4 207.0,612.5 207.3,614.4 207.6,612.7 207.9,609.6 208.2,613.6 208.5,611.9 208.8,616.5 209.1,613.2 209.4,611.8 209.7,613.6 210.0,615.4 210.3,613.6 210.6,615.9 210.9,613.2 211.2,613.3 211.5,613.3 211.8,613.6 212.1,612.3 212.4,613.4 212.7,614.3 213.0,611.9 213.3,614.0 213.6,613.3 213.9,612.5 214.2,612.1 214.5,612.7 214.8,612.8 215.1,613.9 215.4,612.0 215.7,612.5 216.0,612.7 216.3,614.4 216.6,614.6 216.9,613.0 217.2,612.7 217.5,613.0 217.8,614.9 218.1,611.7 218.4,614.0 218.7,613.2 219.0,612.8 219.3,613.2 219.6,612.0 219.9,610.8 220.2,616.3 220.5,613.0 220.8,611.7 221.1,612.9 221.4,615.5 221.7,612.7 222.0,613.8 222.3,610.6 222.6,612.7 222.9,610.7 223.2,610.4 223.5,612.2 223.8,612.0 224.1,616.4 224.4,613.5 224.7,615.3 225.0,610.9 225.3,612.2 225.6,614.1 225.9,616.1 226.2,612.5 226.5,615.6 226.8,609.2 227.1,612.8 227.4,612.8 227.7,611.6 228.0,610.5 228.3,611.7 228.6,611.8 228.9,614.0 229.2,613.3 229.5,612.1 229.8,611.0 230.1,611.4 230.4,614.1 230.7,615.1 231.0,609.7 231.3,615.9 231.6,612.4 231.9,612.5 232.2,612.7 232.5,614.3 232.8,612.9 233.1,614.0 233.4,612.8 233.7,612.1 234.0,615.1 234.3,614.6 234.6,613.4 234.9,614.6 235.2,612.6 235.5,614.0 235.8,614.9 236.1,613.0 236.4,614.0 236.7,611.2 237.0,610.2 237.3,612.4 237.6,611.5 237.9,612.6 238.2,612.3 238.5,614.5 238.8,615.3 239.1,611.6 239.4,610.8 239.7,611.4 240.0,613.2 240.3,613.3 240.6,612.5 240.9,613.4 241.2,611.4 241.5,614.1 241.8,611.8 242.1,614.1 242.4,610.9 242.7,613.7 243.0,613.4 243.3,613.0 243.6,613.8 243.9,613.2 244.2,612.4 244.5,613.3 244.8,617.0 245.1,614.0 245.4,616.1 245.7,613.0 246.0,614.8 246.3,615.6 246.6,611.3 246.9,614.1 247.2,613.2 247.5,611.7 247.8,615.3 248.1,613.2 248.4,611.7 248.7,615.1 249.0,612.5 249.3,614.2 249.6,611.6 249.9,609.2 250.2,610.9 250.5,613.6 250.8,615.4 251.1,611.6 251.4,614.6 251.7,612.9 252.0,611.6 252.3,612.1 252.6,615.5 252.9,615.9 253.2,613.6 253.5,610.3 253.8,614.2" stroke="#ff0000"/>
<polyline points="59.2,600.3 59.5,600.8 59.8,605.0 60.1,601.9 60.4,602.6 60.7,601.4 61.0,599.1 61.3,604.5 61.6,602.3 61.9,604.4 62.2,601.4 62.5,605.3 62.8,603.1 63.1,601.6 63.4,601.6 63.7,600.7 64.0,604.2 64.3,602.9 64.6,600.2 64.9,601.2 65.2,603.8 65.5,602.4 65.8,603.9 66.1,603.5 66.4,600.2 66.7,603.6 67.0,603.1 67.3,600.4 67.6,604.5 67.9,602.4 68.2,600.2 68.5,605.1 68.8,601.6 69.1,602.2 69.4,603.0 69.7,603.6 70.0,601.7 70.3,602.6 70.6,604.7 70.9,605.9 71.2,604.1 71.5,603.8 71.8,601.6 72.1,604.0 72.4,601.8 72.7,600.9 73.0,604.3 73.3,605.3 73.6,603.7 73.9,604.3 74.2,602.5 74.5,603.3 74.8,606.3 75.1,601.0 75.4,603.1 75.7,603.2 76.0,604.0 76.3,600.9 76.6,604.3 76.9,604.7" stroke="#00ff00"/>
<polyline points="80.2,603.3 80.5,602.7 80.8,602.4 81.1,600.4 81.4,603.0 81.7,603.0 82.0,601.3 82.3,603.5 82.6,601.3 82.9,601.3 83.2,601.6 83.5,603.6 83.8,600.6 84.1,602.0 84.4,603.5 84.7,602.9 85.0,603.0 85.3,602.1 85.6,603.1 85.9,603.1 86.2,604.0 86.5,602.7 86.8,601.9 87.1,603.6 87.4,602.0 87.7,603.9 88.0,601.9 88.3,604.1 88.6,602.6 88.9,602.1 89.2,602.9 89.5,602.2 89.8,603.8 90.1,605.3 90.4,602.7 90.7,602.2 91.0,601.2 91.3,602.5 91.6,603.4 91.9,603.6 92.2,603.2 92.5,603.4 92.8,603.7 93.1,602.3 93.4,601.7 93.7,602.7" stroke="#00ff00"/>
<polyline points="95.2,603.7 95.5,602.0 95.8,603.2 96.1,603.9 96.4,601.5 96.7,602.9 97.0,602.2 97.3,601.7 97.6,603.6 97.9,603.9 98.2,603.1 98.5,603.0 98.8,603.6 99.1,601.5 99.4,604.2 99.7,602.9 100.0,602.5 100.3,604.6 100.6,604.1 100.9,603.2 101.2,603.4 101.5,601.5 101.8,601.0 102.1,603.7 102.4,603.6 102.7,603.1 103.0,602.3 103.3,603.3 103.6,601.8 103.9,603.0 104.2,603.8 104.5,603.7 104.8,604.8 105.1,603.8 105.4,602.9 105.7,604.4 106.0,603.0 106.3,603.1 106.6,602.5 106.9,603.1 107.2,602.1 107.5,603.9 107.9,602.8 108.2,604.2 108.5,604.2 108.8,602.7 109.1,603.9 109.4,600.9 109.7,600.4 110.0,604.0 110.3,601.4 110.6,605.3 110.9,600.8 111.2,604.3 111.5,602.6 111.8,601.9 112.1,603.2 112.4,600.6 112.7,604.1 113.0,602.8 113.3,602.7 113.6,602.3 113.9,604.5 114.2,604.2 114.5,600.4 114.8,604.3 115.1,602.4 115.4,602.5 115.7,602.7 116.0,603.1 116.3,603.1 116.6,606.7 116.9,602.7 117.2,602.2 117.5,603.2 117.8,600.9 118.1,603.5 118.4,603.6 118.7,601.6 119.0,602.3 119.3,599.9 119.6,604.6 119.9,603.3 120.2,603.4 120.5,601.5 120.8,600.1 121.1,603.2 121.4,603.4 121.7,601.5 122.0,602.3 122.3,603.4 122.6,602.8 122.9,603.3 123.2,603.4 123.5,602.9 123.8,601.5 124.1,603.4 124.4,601.1 124.7,601.9 125.0,601.6 125.3,599.8 125.6,604.8 125.9,601.7 126.2,603.0 126.5,604.5 126.8,602.7 127.1,603.1 127.4,601.7 127.7,602.8 128.0,604.3 128.3,602.8 128.6,604.5 128.9,602.8 129.2,602.8 129.5,602.8 129.8,603.1 130.1,602.2 130.4,603.9 130.7,601.5 131.0,603.1 131.3,604.6 131.6,602.9 131.9,601.9 132.2,603.4 132.5,601.7 132.8,603.8 133.1,604.4 133.4,602.9 133.7,602.7 134.0,604.9 134.3,603.5 134.6,602.0 134.9,602.0 135.2,603.6 135.5,602.3 135.8,605.8 136.1,604.9 136.4,604.6 136.7,602.8 137.0,605.1 137.3,602.1 137.6,603.8 137.9,604.7 138.2,602.8 138.5,605.1 138.8,604.2 139.1,601.3 139.4,604.5 139.7,601.4 140.0,603.4 140.3,603.7 140.6,602.0 140.9,602.3 141.2,603.8 141.5,603.0 141.8,604.8 142.1,602.2 142.4,601.5 142.7,601.0 143.0,604.3 143.3,604.1 143.6,604.5 143.9,604.0 144.2,601.3 144.5,600.9 144.8,604.2 145.1,604.1 145.4,604.5 145.7,602.7 146.0,603.6 146.3,604.7 146.6,602.9 146.9,605.4 147.2,605.8 147.5,604.3 147.8,604.2 148.1,603.6 148.4,602.8 148.7,601.3 149.0,603.8 149.3,603.4 149.6,601.4 149.9,603.3 150.2,602.5 150.5,603.5 150.8,605.8 151.1,605.2 151.4,601.8 151.7,604.8 152.0,604.1 152.3,603.6 152.6,603.6 152.9,603.2 153.2,601.5 153.5,601.6 153.8,603.6 154.1,602.6 154.4,602.9 154.7,602.8 155.0,601.5 155.3,600.7 155.6,603.5 155.9,603.4 156.2,602.9 156.5,603.7 156.8,602.7 157.1,602.0 157.4,601.3 157.7,603.3 158.0,604.9 158.3,603.9 158.6,601.7 158.9,602.2 159.2,603.2 159.5,603.5 159.8,602.6 160.1,603.9 160.4,602.8 160.7,603.4 161.0,602.3 161.3,605.5 161.6,603.3 161.9,601.0 162.2,603.1 162.5,604.0 162.8,606.3 163.1,602.7 163.4,604.4 163.7,605.4 164.0,601.2 164.3,603.9 164.6,603.5 164.9,603.7 165.2,602.0 165.5,602.8 165.8,603.5 166.1,603.4 166.4,603.9 166.7,602.5 167.0,603.6 167.3,604.2 167.6,604.7 167.9,602.3 168.2,604.0 168.5,603.7 168.8,605.6 169.1,602.9 169.4,604.5 169.7,601.3 170.0,604.8 170.3,604.5 170.6,602.3 170.9,600.6 171.2,601.2 171.5,602.9 171.8,603.2 172.1,602.7 172.4,604.6 172.7,601.6 173.0,606.1 173.3,602.2 173.6,603.8 173.9,604.7 174.2,602.8 174.5,603.0 174.8,605.6 175.1,604.2 175.4,603.6 175.7,604.2 176.0,604.2 176.3,603.4 176.6,602.1 176.9,603.2 177.2,603.5 177.5,604.2 177.8,603.3 178.1,603.1 178.4,602.3 178.7,603.7 179.0,603.2 179.3,601.5 179.6,603.1 179.9,601.5 180.2,600.7 180.5,601.9 180.8,601.9 181.1,602.7 181.4,602.6 181.7,602.7 182.0,601.2 182.3,601.2 182.6,603.5 182.9,605.3 183.2,604.5 183.5,604.9 183.8,603.1 184.1,605.6 184.4,603.1 184.7,600.2 185.0,602.0 185.3,604.2 185.6,602.7 185.9,602.6 186.2,603.7 186.5,603.9 186.8,601.3 187.1,604.5 187.4,605.5 187.7,604.3 188.0,604.2 188.3,604.0 188.6,602.3 188.9,602.1 189.2,604.5 189.5,603.9 189.8,602.5 190.1,603.3 190.4,603.4 190.7,605.6 191.0,603.0 191.3,604.4 191.6,600.5 191.9,604.0 192.2,602.8 192.5,602.0 192.8,601.1 193.1,603.3 193.4,602.9 193.7,605.0 194.0,606.3 194.3,604.3 194.6,602.7 194.9,602.4 195.2,601.6 195.5,603.4 195.8,600.9 196.1,603.2 196.4,604.5 196.7,603.6 197.0,603.4 197.3,601.5 197.6,602.1 197.9,602.9 198.2,602.1 198.5,601.9 198.8,604.9 199.1,601.8 199.4,603.4 199.7,603.9 200.0,604.3 200.3,604.3 200.6,602.2 200.9,603.8 201.2,601.9 201.5,602.4 201.8,603.7 202.1,602.8 202.4,600.3 202.7,601.4 203.0,599.8 203.3,599.3 203.6,603.3 203.9,601.8 204.2,601.8 204.5,603.4 204.8,601.6 205.2,603.2 205.5,601.5 205.8,603.4 206.1,602.7 206.4,603.7 206.7,607.0 207.0,604.1 207.3,602.7 207.6,604.6 207.9,604.7 208.2,604.4 208.5,606.4 208.8,604.8 209.1,603.4 209.4,606.0 209.7,604.7 210.0,602.9 210.3,602.9 210.6,604.0 210.9,600.8 211.2,601.2 211.5,601.4 211.8,603.5 212.1,600.5 212.4,603.2 212.7,605.0 213.0,601.9 213.3,606.3 213.6,603.3 213.9,603.3 214.2,604.4 214.5,604.5 214.8,605.3 215.1,605.3 215.4,601.1 215.7,601.6 216.0,606.3 216.3,604.7 216.6,604.0 216.9,603.4 217.2,601.9 217.5,603.7 217.8,605.0 218.1,602.3 218.4,603.9 218.7,603.3 219.0,602.9 219.3,602.8 219.6,601.1 219.9,605.5 220.2,602.5 220.5,603.0 220.8,606.1 221.1,605.1 221.4,603.7 221.7,603.3 222.0,599.1 222.3,603.0 222.6,603.7 222.9,601.8 223.2,602.9 223.5,604.3 223.8,603.5 224.1,603.2 224.4,605.7 224.7,605.5 225.0,602.9 225.3,603.5 225.6,602.8 225.9,602.1 226.2,600.5 226.5,602.0 226.8,606.5 227.1,601.7 227.4,603.2 227.7,605.6 228.0,603.8 228.3,604.3 228.6,603.9 228.9,604.2 229.2,604.1 229.5,602.7 229.8,603.1 230.1,604.0 230.4,605.8 230.7,604.6 231.0,603.0 231.3,602.4 231.6,599.5 231.9,602.0 232.2,604.7 232.5,604.9 232.8,604.4 233.1,603.4 233.4,605.7 233.7,600.9 234.0,606.0 234.3,605.4 234.6,603.0 234.9,603.4 235.2,604.9 235.5,602.3 235.8,604.9 236.1,604.1 236.4,602.2 236.7,600.7 237.0,604.4 237.3,604.9 237.6,604.2 237.9,601.0 238.2,603.6 238.5,600.9 238.8,602.4 239.1,603.8 239.4,601.7 239.7,603.3 240.0,604.5 240.3,602.9 240.6,601.2 240.9,605.6 241.2,604.5 241.5,603.1 241.8,605.2 242.1,604.4 242.4,604.5 242.7,601.5 243.0,602.4 243.3,603.9 243.6,601.8 243.9,604.1 244.2,603.7 244.5,604.0 244.8,603.8 245.1,601.6 245.4,602.1 245.7,604.6 246.0,601.9 246.3,601.8 246.6,603.8 246.9,604.6 247.2,602.7 247.5,603.9 247.8,602.8 248.1,602.9 248.4,603.6 248.7,604.0 249.0,602.9 249.3,603.8 249.6,605.7 249.9,602.3 250.2,605.7 250.5,606.1 250.8,606.6 251.1,600.5 251.4,606.4 251.7,602.6 252.0,602.1 252.3,603.5 252.6,602.4 252.9,604.9 253.2,605.4 253.5,604.8 253.8,602.3" stroke="#00ff00"/>
<polyline points="59.2,589.8 59.5,591.1 59.8,591.8 60.1,594.4 60.4,592.6 60.7,590.7 61.0,592.0 61.3,593.3 61.6,594.1 61.9,592.4 62.2,591.7 62.5,591.2 62.8,592.5 63.1,594.0 63.4,590.8 63.7,595.0 64.0,592.9 64.3,595.5 64.6,593.7 64.9,594.2 65.2,593.8 65.5,593.0 65.8,591.6 66.1,591.9 66.4,592.2 66.7,593.4 67.0,595.3 67.3,590.8 67.6,591.6 67.9,591.7 68.2,594.0 68.5,590.5 68.8,596.4 69.1,592.9 69.4,593.2 69.7,593.7 70.0,593.6 70.3,591.3 70.6,591.8 70.9,591.3 71.2,591.9 71.5,591.6 71.8,594.6 72.1,591.8 72.4,593.1 72.7,595.0 73.0,594.1 73.3,592.9 73.6,592.6 73.9,592.6 74.2,594.9 74.5,593.7 74.8,592.7 75.1,592.3 75.4,594.7 75.7,594.5 76.0,594.7 76.3,593.7 76.6,591.4 76.9,596.6" stroke="#0000ff"/>
<polyline points="80.2,592.9 80.5,595.0 80.8,593.8 81.1,595.4 81.4,595.4 81.7,593.6 82.0,592.5 82.3,592.6 82.6,592.6 82.9,595.2 83.2,593.4 83.5,592.6 83.8,593.6 84.1,593.4 84.4,593.5 84.7,593.4 85.0,594.6 85.3,593.2 85.6,592.3 85.9,592.7 86.2,594.7 86.5,593.6 86.8,593.0 87.1,594.8 87.4,592.8 87.7,593.3 88.0,594.3 88.3,593.4 88.6,595.2 88.9,592.4 89.2,593.4 89.5,593.5 89.8,593.4 90.1,594.4 90.4,593.7 90.7,594.3 91.0,594.4 91.3,592.4 91.6,595.0 91.9,593.7 92.2,594.1 92.5,591.5 92.8,592.7 93.1,593.0 93.4,594.6 93.7,595.0" stroke="#0000ff"/>
<polyline points="95.2,593.8 95.5,591.2 95.8,592.5 96.1,593.2 96.4,594.5 96.7,593.4 97.0,593.3 97.3,592.5 97.6,593.8 97.9,592.6 98.2,592.2 98.5,591.9 98.8,594.2 99.1,594.4 99.4,593.1 99.7,592.8 100.0,593.0 100.3,594.1 100.6,594.0 100.9,593.4 101.2,593.9 101.5,593.4 101.8,593.3 102.1,595.7 102.4,592.8 102.7,593.4 103.0,592.6 103.3,593.9 103.6,594.8 103.9,592.7 104.2,592.3 104.5,592.4 104.8,592.2 105.1,591.3 105.4,591.9 105.7,592.2 106.0,594.1 106.3,592.8 106.6,592.5 106.9,592.7 107.2,594.4 107.5,591.1 107.9,594.3 108.2,593.7 108.5,591.8 108.8,591.2 109.1,590.2 109.4,593.7 109.7,592.4 110.0,592.2 110.3,592.8 110.6,593.4 110.9,594.6 111.2,593.2 111.5,591.7 111.8,592.6 112.1,594.0 112.4,594.1 112.7,593.1 113.0,591.8 113.3,595.1 113.6,594.5 113.9,593.8 114.2,595.4 114.5,594.4 114.8,594.3 115.1,592.7 115.4,594.9 115.7,592.0 116.0,593.0 116.3,595.0 116.6,591.6 116.9,593.1 117.2,593.0 117.5,595.5 117.8,591.7 118.1,593.1 118.4,593.6 118.7,594.6 119.0,594.1 119.3,593.6 119.6,593.0 119.9,594.7 120.2,592.1 120.5,595.7 120.8,595.0 121.1,596.2 121.4,592.5 121.7,592.5 122.0,594.0 122.3,594.2 122.6,594.3 122.9,594.6 123.2,594.9 123.5,594.7 123.8,592.0 124.1,591.2 124.4,593.0 124.7,593.3 125.0,594.3 125.3,593.4 125.6,593.0 125.9,594.1 126.2,592.1 126.5,595.0 126.8,595.3 127.1,595.0 127.4,593.7 127.7,596.2 128.0,594.1 128.3,592.9 128.6,593.2 128.9,595.0 129.2,593.3 129.5,592.8 129.8,593.6 130.1,594.1 130.4,594.0 130.7,593.7 131.0,592.8 131.3,594.7 131.6,594.0 131.9,593.6 132.2,592.2 132.5,593.4 132.8,594.1 133.1,595.0 133.4,594.4 133.7,593.4 134.0,595.0 134.3,591.8 134.6,593.3 134.9,592.9 135.2,595.4 135.5,594.4 135.8,594.0 136.1,595.2 136.4,593.9 136.7,592.3 137.0,594.9 137.3,593.7 137.6,594.6 137.9,592.9 138.2,593.4 138.5,593.4 138.8,594.5 139.1,594.7 139.4,595.2 139.7,595.1 140.0,594.3 140.3,594.0 140.6,592.9 140.9,594.0 141.2,592.0 141.5,590.1 141.8,594.2 142.1,593.1 142.4,593.6 142.7,592.6 143.0,592.2 143.3,592.9 143.6,590.9 143.9,592.3 144.2,593.2 144.5,594.1 144.8,591.9 145.1,593.9 145.4,591.9 145.7,596.5 146.0,595.1 146.3,593.8 146.6,594.4 146.9,594.0 147.2,592.1 147.5,596.7 147.8,594.2 148.1,592.8 148.4,594.0 148.7,592.4 149.0,594.5 149.3,591.9 149.6,595.2 149.9,595.8 150.2,592.4 150.5,594.3 150.8,593.1 151.1,594.1 151.4,592.4 151.7,594.4 152.0,591.8 152.3,593.0 152.6,593.7 152.9,594.8 153.2,593.8 153.5,595.7 153.8,592.9 154.1,595.2 154.4,593.6 154.7,593.8 155.0,592.1 155.3,592.1 155.6,593.7 155.9,594.0 156.2,591.9 156.5,591.8 156.8,596.2 157.1,592.7 157.4,594.0 157.7,591.3 158.0,592.7 158.3,592.7 158.6,592.2 158.9,594.5 159.2,595.0 159.5,593.0 159.8,594.3 160.1,591.1 160.4,593.1 160.7,595.0 161.0,595.9 161.3,593.8 161.6,593.7 161.9,594.0 162.2,592.6 162.5,594.4 162.8,593.5 163.1,594.4 163.4,593.7 163.7,592.5 164.0,595.3 164.3,595.7 164.6,595.2 164.9,591.2 165.2,592.8 165.5,593.4 165.8,594.3 166.1,593.0 166.4,594.1 166.7,592.5 167.0,592.5 167.3,593.4 167.6,594.0 167.9,595.4 168.2,593.9 168.5,593.6 168.8,592.3 169.1,593.7 169.4,594.0 169.7,594.3 170.0,595.5 170.3,594.1 170.6,595.1 170.9,593.0 171.2,593.9 171.5,592.4 171.8,592.1 172.1,593.6 172.4,594.3 172.7,594.3 173.0,593.7 173.3,593.1 173.6,595.8 173.9,595.7 174.2,593.2 174.5,594.4 174.8,592.5 175.1,592.2 175.4,594.4 175.7,596.1 176.0,593.0 176.3,593.6 176.6,593.5 176.9,594.9 177.2,593.4 177.5,593.0 177.8,593.1 178.1,592.4 178.4,594.7 178.7,593.2 179.0,593.2 179.3,593.9 179.6,594.4 179.9,594.3 180.2,592.9 180.5,594.2 180.8,592.9 181.1,594.0 181.4,591.9 181.7,593.0 182.0,595.4 182.3,592.4 182.6,593.3 182.9,594.2 183.2,594.3 183.5,595.3 183.8,593.7 184.1,593.6 184.4,594.1 184.7,594.8 185.0,594.4 185.3,594.2 185.6,594.1 185.9,592.7 186.2,593.9 186.5,595.6 186.8,592.5 187.1,592.5 187.4,595.1 187.7,595.3 188.0,595.5 188.3,592.2 188.6,592.8 188.9,591.8 189.2,590.9 189.5,592.6 189.8,593.1 190.1,593.3 190.4,595.3 190.7,595.7 191.0,593.6 191.3,595.6 191.6,594.9 191.9,593.7 192.2,590.0 192.5,594.7 192.8,592.3 193.1,593.4 193.4,593.5 193.7,594.6 194.0,591.3 194.3,593.5 194.6,594.6 194.9,590.8 195.2,595.3 195.5,592.4 195.8,592.1 196.1,593.4 196.4,593.5 196.7,592.1 197.0,594.8 197.3,592.4 197.6,593.7 197.9,592.0 198.2,593.2 198.5,594.4 198.8,594.8 199.1,593.2 199.4,594.3 199.7,591.3 200.0,595.0 200.3,593.7 200.6,593.1 200.9,594.3 201.2,591.6 201.5,595.2 201.8,593.6 202.1,594.9 202.4,593.7 202.7,595.4 203.0,592.2 203.3,593.5 203.6,595.7 203.9,593.3 204.2,594.6 204.5,594.5 204.8,594.4 205.2,590.9 205.5,591.2 205.8,595.1 206.1,595.7 206.4,592.4 206.7,591.9 207.0,594.9 207.3,594.8 207.6,596.1 207.9,594.0 208.2,593.4 208.5,595.6 208.8,594.8 209.1,593.2 209.4,593.4 209.7,593.7 210.0,595.3 210.3,593.1 210.6,593.2 210.9,594.5 211.2,592.3 211.5,594.6 211.8,594.9 212.1,594.5 212.4,593.7 212.7,594.9 213.0,592.9 213.3,593.7 213.6,594.7 213.9,595.3 214.2,593.9 214.5,594.5 214.8,591.8 215.1,593.2 215.4,594.9 215.7,593.4 216.0,591.2 216.3,593.7 216.6,595.0 216.9,593.8 217.2,596.0 217.5,595.1 217.8,596.5 218.1,595.0 218.4,595.0 218.7,594.0 219.0,592.7 219.3,593.7 219.6,593.3 219.9,594.7 220.2,594.2 220.5,594.1 220.8,598.3 221.1,593.8 221.4,597.6 221.7,591.8 222.0,593.8 222.3,593.6 222.6,592.2 222.9,594.1 223.2,592.7 223.5,595.7 223.8,595.1 224.1,594.3 224.4,593.9 224.7,593.5 225.0,594.0 225.3,596.4 225.6,594.5 225.9,594.6 226.2,594.9 226.5,592.8 226.8,596.0 227.1,596.0 227.4,595.3 227.7,593.4 228.0,590.9 228.3,596.1 228.6,593.6 228.9,591.6 229.2,593.2 229.5,596.3 229.8,590.3 230.1,594.7 230.4,592.9 230.7,594.5 231.0,591.7 231.3,595.4 231.6,593.3 231.9,591.6 232.2,594.5 232.5,591.3 232.8,595.1 233.1,595.3 233.4,589.0 233.7,592.2 234.0,593.6 234.3,593.3 234.6,594.8 234.9,595.9 235.2,594.7 235.5,594.9 235.8,597.0 236.1,592.6 236.4,594.2 236.7,591.8 237.0,593.7 237.3,595.2 237.6,593.9 237.9,592.4 238.2,595.0 238.5,596.0 238.8,594.8 239.1,592.3 239.4,592.3 239.7,593.2 240.0,595.4 240.3,592.5 240.6,594.1 240.9,592.8 241.2,595.8 241.5,594.5 241.8,594.8 242.1,592.2 242.4,592.1 242.7,592.9 243.0,596.5 243.3,593.0 243.6,592.7 243.9,594.5 244.2,595.9 244.5,592.0 244.8,593.7 245.1,594.4 245.4,596.1 245.7,594.0 246.0,594.9 246.3,592.4 246.6,591.5 246.9,593.3 247.2,596.9 247.5,594.3 247.8,593.6 248.1,591.9 248.4,592.5 248.7,594.8 249.0,595.9 249.3,594.0 249.6,593.2 249.9,591.2 250.2,592.4 250.5,593.5 250.8,593.4 251.1,594.1 251.4,595.0 251.7,594.2 252.0,596.3 252.3,593.6 252.6,594.7 252.9,593.8 253.2,595.8 253.5,593.4 253.8,593.1" stroke="#0000ff"/>
<polyline points="59.2,579.9 59.5,581.2 59.8,580.9 60.1,582.0 60.4,581.8 60.7,583.1 61.0,584.1 61.3,581.5 61.6,582.3 61.9,585.5 62.2,583.2 62.5,582.8 62.8,583.2 63.1,584.5 63.4,585.5 63.7,581.4 64.0,583.1 64.3,584.9 64.6,581.2 64.9,583.5 65.2,583.0 65.5,581.9 65.8,580.8 66.1,582.7 66.4,584.0 66.7,582.7 67.0,581.6 67.3,584.4 67.6,581.8 67.9,586.4 68.2,586.4 68.5,583.4 68.8,581.8 69.1,582.9 69.4,584.2 69.7,582.6 70.0,583.4 70.3,583.4 70.6,580.0 70.9,585.3 71.2,583.7 71.5,582.1 71.8,583.1 72.1,584.5 72.4,583.2 72.7,583.8 73.0,585.4 73.3,582.7 73.6,582.1 73.9,581.3 74.2,584.3 74.5,584.3 74.8,582.6 75.1,584.3 75.4,581.4 75.7,584.2 76.0,587.0 76.3,585.3 76.6,582.9 76.9,585.1" stroke="#00ffff"/>
<polyline points="80.2,583.2 80.5,583.5 80.8,583.9 81.1,583.4 81.4,582.9 81.7,584.6 82.0,583.0 82.3,583.1 82.6,581.8 82.9,583.6 83.2,584.7 83.5,583.6 83.8,582.9 84.1,582.4 84.4,584.5 84.7,584.4 85.0,582.9 85.3,582.4 85.6,583.4 85.9,583.6 86.2,582.6 86.5,581.8 86.8,583.6 87.1,581.8 87.4,585.8 87.7,583.7 88.0,582.6 88.3,581.6 88.6,582.4 88.9,583.9 89.2,583.9 89.5,582.0 89.8,581.8 90.1,582.5 90.4,582.1 90.7,585.5 91.0,582.4 91.3,582.2 91.6,582.1 91.9,581.4 92.2,582.5 92.5,584.5 92.8,582.9 93.1,583.2 93.4,582.7 93.7,584.1" stroke="#00ffff"/>
<polyline points="95.2,582.7 95.5,580.8 95.8,583.1 96.1,583.0 96.4,584.7 96.7,584.1 97.0,582.6 97.3,583.1 97.6,582.0 97.9,581.6 98.2,582.2 98.5,583.0 98.8,584.1 99.1,582.7 99.4,583.3 99.7,583.5 100.0,583.4 100.3,585.2 100.6,584.3 100.9,585.5 101.2,584.1 101.5,586.2 101.8,584.7 102.1,584.3 102.4,586.2 102.7,584.3 103.0,583.7 103.3,583.5 103.6,583.9 103.9,584.7 104.2,584.2 104.5,583.7 104.8,584.8 105.1,582.8 105.4,582.2 105.7,586.3 106.0,584.3 106.3,584.1 106.6,585.8 106.9,584.9 107.2,583.1 107.5,583.8 107.9,582.9 108.2,581.3 108.5,584.5 108.8,582.6 109.1,583.2 109.4,583.3 109.7,584.8 110.0,582.5 110.3,582.2 110.6,584.6 110.9,583.5 111.2,582.3 111.5,583.2 111.8,583.4 112.1,583.7 112.4,583.5 112.7,583.1 113.0,581.8 113.3,584.3 113.6,584.6 113.9,584.1 114.2,580.2 114.5,584.5 114.8,583.5 115.1,583.3 115.4,582.6 115.7,585.8 116.0,583.6 116.3,584.0 116.6,581.5 116.9,585.4 117.2,584.2 117.5,582.7 117.8,582.4 118.1,582.6 118.4,582.1 118.7,585.1 119.0,583.5 119.3,584.5 119.6,585.6 119.9,583.0 120.2,581.1 120.5,583.6 120.8,582.0 121.1,583.0 121.4,584.2 121.7,582.6 122.0,582.1 122.3,582.2 122.6,583.5 122.9,586.7 123.2,583.1 123.5,583.3 123.8,582.8 124.1,582.7 124.4,582.7 124.7,582.6 125.0,583.2 125.3,583.1 125.6,583.4 125.9,583.8 126.2,583.8 126.5,584.1 126.8,584.0 127.1,585.3 127.4,584.7 127.7,583.4 128.0,582.7 128.3,583.6 128.6,584.8 128.9,582.9 129.2,582.9 129.5,583.7 129.8,583.2 130.1,582.9 130.4,582.9 130.7,582.6 131.0,581.6 131.3,584.4 131.6,583.5 131.9,583.2 132.2,582.7 132.5,582.8 132.8,583.7 133.1,581.3 133.4,580.3 133.7,583.0 134.0,586.1 134.3,585.3 134.6,583.0 134.9,585.7 135.2,583.5 135.5,583.5 135.8,582.5 136.1,583.9 136.4,584.1 136.7,582.7 137.0,584.2 137.3,585.9 137.6,582.5 137.9,584.7 138.2,583.4 138.5,585.9 138.8,584.2 139.1,582.8 139.4,582.6 139.7,581.8 140.0,585.3 140.3,584.0 140.6,583.3 140.9,583.6 141.2,582.9 141.5,583.4 141.8,582.7 142.1,584.0 142.4,585.9 142.7,582.5 143.0,582.5 143.3,583.4 143.6,582.6 143.9,582.7 144.2,584.0 144.5,584.0 144.8,584.0 145.1,585.5 145.4,584.9 145.7,585.3 146.0,584.7 146.3,583.1 146.6,584.0 146.9,582.0 147.2,583.8 147.5,582.7 147.8,583.7 148.1,585.2 148.4,585.0 148.7,583.0 149.0,582.3 149.3,585.4 149.6,582.6 149.9,583.7 150.2,582.1 150.5,582.4 150.8,583.4 151.1,581.4 151.4,584.8 151.7,582.2 152.0,582.1 152.3,584.8 152.6,582.9 152.9,584.2 153.2,584.0 153.5,584.7 153.8,582.1 154.1,584.4 154.4,584.8 154.7,583.6 155.0,581.8 155.3,583.3 155.6,585.8 155.9,584.1 156.2,585.4 156.5,583.0 156.8,584.4 157.1,583.2 157.4,583.5 157.7,585.5 158.0,584.4 158.3,586.5 158.6,582.8 158.9,584.8 159.2,581.9 159.5,583.2 159.8,583.4 160.1,583.7 160.4,582.7 160.7,584.5 161.0,586.7 161.3,585.8 161.6,584.1 161.9,585.1 162.2,581.7 162.5,583.7 162.8,585.2 163.1,584.7 163.4,583.8 163.7,583.7 164.0,584.8 164.3,584.4 164.6,582.3 164.9,583.7 165.2,585.5 165.5,581.7 165.8,583.6 166.1,586.4 166.4,581.2 166.7,582.7 167.0,583.9 167.3,584.3 167.6,584.7 167.9,582.6 168.2,581.2 168.5,585.3 168.8,583.2 169.1,585.5 169.4,583.5 169.7,583.4 170.0,584.7 170.3,584.4 170.6,584.7 170.9,584.0 171.2,583.3 171.5,585.3 171.8,584.9 172.1,585.8 172.4,583.2 172.7,583.4 173.0,583.6 173.3,582.7 173.6,584.6 173.9,582.1 174.2,584.7 174.5,584.6 174.8,585.2 175.1,586.0 175.4,581.3 175.7,584.0 176.0,584.2 176.3,584.6 176.6,584.7 176.9,583.0 177.2,584.2 177.5,585.3 177.8,584.4 178.1,583.3 178.4,585.8 178.7,583.9 179.0,582.2 179.3,581.6 179.6,583.5 179.9,581.8 180.2,584.8 180.5,582.8 180.8,584.4 181.1,584.9 181.4,583.7 181.7,583.2 182.0,582.8 182.3,583.2 182.6,583.0 182.9,583.2 183.2,586.3 183.5,585.1 183.8,585.2 184.1,585.2 184.4,583.9 184.7,584.0 185.0,584.7 185.3,583.4 185.6,584.7 185.9,581.9 186.2,585.1 186.5,585.6 186.8,583.5 187.1,585.5 187.4,585.9 187.7,584.4 188.0,585.2 188.3,583.9 188.6,585.4 188.9,586.5 189.2,584.1 189.5,583.5 189.8,583.9 190.1,585.8 190.4,584.6 190.7,582.5 191.0,584.3 191.3,581.9 191.6,587.3 191.9,583.5 192.2,584.0 192.5,584.9 192.8,585.7 193.1,585.3 193.4,586.3 193.7,586.6 194.0,583.4 194.3,582.2 194.6,584.2 194.9,582.1 195.2,584.6 195.5,584.1 195.8,584.8 196.1,582.8 196.4,583.8 196.7,582.0 197.0,586.2 197.3,582.6 197.6,582.9 197.9,584.2 198.2,585.4 198.5,581.6 198.8,584.6 199.1,584.1 199.4,585.3 199.7,583.1 200.0,585.2 200.3,583.6 200.6,582.1 200.9,583.1 201.2,583.4 201.5,583.6 201.8,584.3 202.1,581.8 202.4,584.8 202.7,583.8 203.0,582.8 203.3,583.1 203.6,583.9 203.9,584.0 204.2,586.3 204.5,584.6 204.8,586.9 205.2,585.1 205.5,583.7 205.8,583.6 206.1,584.9 206.4,583.8 206.7,585.1 207.0,584.6 207.3,585.8 207.6,584.6 207.9,584.5 208.2,585.0 208.5,580.9 208.8,583.8 209.1,581.9 209.4,584.2 209.7,582.7 210.0,587.9 210.3,585.0 210.6,580.1 210.9,583.7 211.2,584.2 211.5,580.8 211.8,585.4 212.1,583.7 212.4,583.3 212.7,585.7 213.0,583.2 213.3,584.6 213.6,586.2 213.9,581.9 214.2,580.7 214.5,581.9 214.8,584.1 215.1,583.9 215.4,584.5 215.7,584.0 216.0,584.3 216.3,585.3 216.6,585.0 216.9,580.4 217.2,584.1 217.5,583.4 217.8,584.5 218.1,586.3 218.4,586.6 218.7,581.9 219.0,584.4 219.3,580.6 219.6,586.2 219.9,581.1 220.2,584.8 220.5,585.0 220.8,585.8 221.1,585.9 221.4,585.6 221.7,581.9 222.0,586.3 222.3,584.2 222.6,583.4 222.9,581.4 223.2,586.3 223.5,580.6 223.8,583.8 224.1,583.0 224.4,583.2 224.7,585.3 225.0,582.8 225.3,579.9 225.6,584.7 225.9,581.6 226.2,584.4 226.5,585.5 226.8,585.8 227.1,584.4 227.4,586.3 227.7,582.6 228.0,584.5 228.3,587.9 228.6,583.7 228.9,584.2 229.2,584.5 229.5,581.6 229.8,587.1 230.1,584.4 230.4,584.9 230.7,585.2 231.0,583.7 231.3,584.7 231.6,585.5 231.9,584.6 232.2,587.3 232.5,584.5 232.8,584.6 233.1,584.3 233.4,582.2 233.7,583.5 234.0,585.2 234.3,584.1 234.6,584.4 234.9,584.2 235.2,580.7 235.5,583.2 235.8,582.6 236.1,586.4 236.4,585.0 236.7,584.1 237.0,583.1 237.3,582.1 237.6,585.3 237.9,583.7 238.2,583.7 238.5,584.2 238.8,583.9 239.1,582.2 239.4,582.9 239.7,586.7 240.0,584.9 240.3,585.1 240.6,580.6 240.9,586.7 241.2,582.2 241.5,584.8 241.8,584.3 242.1,583.1 242.4,583.3 242.7,582.1 243.0,584.6 243.3,585.8 243.6,581.8 243.9,583.3 244.2,583.8 244.5,581.3 244.8,582.7 245.1,582.1 245.4,581.9 245.7,584.8 246.0,585.7 246.3,583.0 246.6,582.9 246.9,584.2 247.2,584.1 247.5,581.1 247.8,584.4 248.1,581.6 248.4,585.4 248.7,584.5 249.0,581.3 249.3,582.7 249.6,585.7 249.9,582.7 250.2,583.7 250.5,584.9 250.8,585.6 251.1,583.6 251.4,586.5 251.7,583.6 252.0,585.6 252.3,584.3 252.6,583.6 252.9,586.8 253.2,584.1 253.5,581.7 253.8,582.0" stroke="#00ffff"/>
<polyline points="59.2,577.0 59.5,575.6 59.8,576.2 60.1,576.3 60.4,573.2 60.7,575.4 61.0,573.4 61.3,576.2 61.6,577.1 61.9,575.4 62.2,577.2 62.5,574.4 62.8,576.4 63.1,575.2 63.4,574.3 63.7,574.8 64.0,575.2 64.3,577.6 64.6,577.0 64.9,575.3 65.2,573.8 65.5,579.7 65.8,575.7 66.1,576.1 66.4,576.9 66.7,577.1 67.0,575.3 67.3,574.8 67.6,577.0 67.9,576.0 68.2,572.9 68.5,577.2 68.8,575.1 69.1,575.8 69.4,575.6 69.7,574.2 70.0,574.0 70.3,573.7 70.6,574.7 70.9,575.8 71.2,576.3 71.5,575.2 71.8,573.2 72.1,573.2 72.4,574.1 72.7,575.7 73.0,574.6 73.3,573.7 73.6,576.1 73.9,572.6 74.2,573.3 74.5,575.4 74.8,575.9 75.1,575.4 75.4,575.7 75.7,576.2 76.0,576.4 76.3,575.9 76.6,574.8 76.9,576.2" stroke="#ff00ff"/>
<polyline points="80.2,576.9 80.5,576.3 80.8,575.1 81.1,574.8 81.4,577.6 81.7,575.3 82.0,574.8 82.3,574.0 82.6,576.6 82.9,577.6 83.2,575.3 83.5,573.1 83.8,575.5 84.1,578.8 84.4,576.1 84.7,575.4 85.0,576.9 85.3,576.7 85.6,576.0 85.9,576.1 86.2,576.8 86.5,577.2 86.8,576.1 87.1,577.8 87.4,576.6 87.7,575.4 88.0,575.7 88.3,576.3 88.6,575.6 88.9,575.7 89.2,576.2 89.5,574.4 89.8,574.6 90.1,572.9 90.4,574.7 90.7,575.2 91.0,574.2 91.3,576.0 91.6,575.4 91.9,576.0 92.2,573.9 92.5,574.3 92.8,576.2 93.1,574.7 93.4,574.1 93.7,575.2" stroke="#ff00ff"/>
<polyline points="95.2,576.0 95.5,573.8 95.8,574.0 96.1,575.3 96.4,573.3 96.7,576.5 97.0,575.4 97.3,573.7 97.6,577.8 97.9,575.1 98.2,574.8 98.5,574.7 98.8,576.4 99.1,575.3 99.4,577.5 99.7,574.8 100.0,576.7 100.3,575.8 100.6,576.5 100.9,577.3 101.2,575.0 101.5,574.2 101.8,575.0 102.1,575.7 102.4,575.1 102.7,573.7 103.0,575.1 103.3,574.8 103.6,575.2 103.9,576.0 104.2,576.4 104.5,575.9 104.8,577.1 105.1,576.2 105.4,574.9 105.7,576.9 106.0,575.6 106.3,574.7 106.6,576.0 106.9,575.2 107.2,575.6 107.5,575.5 107.9,575.3 108.2,575.8 108.5,575.6 108.8,574.8 109.1,574.6 109.4,575.7 109.7,575.9 110.0,573.9 110.3,575.3 110.6,575.2 110.9,575.6 111.2,573.2 111.5,575.8 111.8,573.4 112.1,577.1 112.4,576.5 112.7,574.2 113.0,575.0 113.3,575.6 113.6,575.6 113.9,574.3 114.2,576.3 114.5,576.9 114.8,575.6 115.1,574.9 115.4,576.9 115.7,576.1 116.0,578.5 116.3,574.5 116.6,573.5 116.9,574.5 117.2,575.4 117.5,576.8 117.8,576.4 118.1,575.0 118.4,575.7 118.7,576.9 119.0,574.1 119.3,574.5 119.6,579.3 119.9,576.4 120.2,576.1 120.5,579.6 120.8,575.8 121.1,576.1 121.4,576.5 121.7,577.0 122.0,575.2 122.3,576.1 122.6,576.9 122.9,576.3 123.2,576.2 123.5,575.6 123.8,576.2 124.1,575.2 124.4,576.5 124.7,574.6 125.0,576.2 125.3,577.2 125.6,575.1 125.9,575.4 126.2,576.0 126.5,575.4 126.8,575.5 127.1,575.8 127.4,574.5 127.7,575.5 128.0,576.5 128.3,576.7 128.6,574.2 128.9,575.0 129.2,575.1 129.5,574.6 129.8,574.7 130.1,575.1 130.4,577.6 130.7,576.8 131.0,576.5 131.3,575.4 131.6,577.1 131.9,574.0 132.2,573.7 132.5,575.1 132.8,575.2 133.1,575.7 133.4,575.5 133.7,574.0 134.0,576.2 134.3,575.8 134.6,578.4 134.9,573.2 135.2,574.4 135.5,576.0 135.8,577.9 136.1,578.5 136.4,576.9 136.7,575.0 137.0,575.4 137.3,575.3 137.6,574.0 137.9,573.8 138.2,577.3 138.5,576.7 138.8,575.1 139.1,576.1 139.4,574.1 139.7,576.5 140.0,575.4 140.3,575.4 140.6,576.0 140.9,575.1 141.2,574.9 141.5,577.2 141.8,576.6 142.1,576.1 142.4,576.3 142.7,575.6 143.0,576.1 143.3,576.8 143.6,574.9 143.9,575.0 144.2,577.4 144.5,575.8 144.8,577.9 145.1,577.2 145.4,580.0 145.7,576.8 146.0,577.3 146.3,577.3 146.6,577.0 146.9,576.4 147.2,575.8 147.5,577.9 147.8,578.1 148.1,575.6 148.4,576.8 148.7,574.0 149.0,575.8 149.3,574.5 149.6,576.1 149.9,577.0 150.2,573.8 150.5,575.8 150.8,577.2 151.1,575.6 151.4,576.5 151.7,575.4 152.0,574.1 152.3,575.6 152.6,575.8 152.9,573.9 153.2,576.8 153.5,577.9 153.8,575.0 154.1,574.0 154.4,575.3 154.7,575.8 155.0,575.2 155.3,575.6 155.6,575.3 155.9,575.7 156.2,576.1 156.5,576.9 156.8,576.3 157.1,575.0 157.4,574.6 157.7,577.9 158.0,576.6 158.3,575.7 158.6,575.2 158.9,576.4 159.2,576.2 159.5,574.4 159.8,578.1 160.1,577.1 160.4,573.3 160.7,579.4 161.0,576.8 161.3,575.5 161.6,575.2 161.9,574.6 162.2,576.3 162.5,575.0 162.8,576.7 163.1,577.2 163.4,575.3 163.7,573.3 164.0,575.8 164.3,576.9 164.6,574.7 164.9,578.3 165.2,577.3 165.5,574.3 165.8,577.5 166.1,577.4 166.4,573.5 166.7,575.1 167.0,577.7 167.3,573.6 167.6,575.8 167.9,575.9 168.2,575.4 168.5,576.5 168.8,576.4 169.1,573.9 169.4,579.3 169.7,576.6 170.0,576.6 170.3,575.6 170.6,574.9 170.9,575.4 171.2,576.5 171.5,575.4 171.8,578.3 172.1,576.5 172.4,574.2 172.7,575.0 173.0,574.3 173.3,575.8 173.6,577.1 173.9,576.1 174.2,574.6 174.5,577.4 174.8,574.6 175.1,576.8 175.4,575.4 175.7,576.9 176.0,573.7 176.3,575.5 176.6,576.1 176.9,575.8 177.2,575.0 177.5,576.6 177.8,577.1 178.1,575.3 178.4,576.5 178.7,574.9 179.0,575.8 179.3,576.0 179.6,575.5 179.9,574.4 180.2,576.7 180.5,576.1 180.8,575.6 181.1,578.4 181.4,576.6 181.7,572.0 182.0,575.9 182.3,576.1 182.6,576.8 182.9,575.5 183.2,577.4 183.5,575.8 183.8,576.4 184.1,576.4 184.4,575.6 184.7,576.3 185.0,575.1 185.3,577.4 185.6,575.5 185.9,574.0 186.2,579.6 186.5,575.5 186.8,576.4 187.1,574.8 187.4,575.4 187.7,574.6 188.0,577.5 188.3,573.2 188.6,576.7 188.9,574.8 189.2,575.8 189.5,574.7 189.8,576.2 190.1,575.4 190.4,575.2 190.7,576.2 191.0,576.1 191.3,577.7 191.6,578.2 191.9,576.5 192.2,575.5 192.5,576.1 192.8,575.3 193.1,578.2 193.4,574.4 193.7,576.2 194.0,576.3 194.3,574.8 194.6,575.6 194.9,574.8 195.2,572.7 195.5,576.4 195.8,574.4 196.1,575.6 196.4,574.8 196.7,576.5 197.0,574.4 197.3,576.9 197.6,576.8 197.9,578.0 198.2,575.8 198.5,575.0 198.8,577.5 199.1,575.9 199.4,575.1 199.7,572.5 200.0,577.7 200.3,574.4 200.6,575.4 200.9,575.1 201.2,574.9 201.5,576.5 201.8,575.5 202.1,573.1 202.4,574.4 202.7,573.3 203.0,574.5 203.3,575.3 203.6,575.2 203.9,577.5 204.2,577.3 204.5,572.9 204.8,575.6 205.2,575.3 205.5,576.0 205.8,573.4 206.1,575.1 206.4,575.2 206.7,578.1 207.0,575.7 207.3,573.6 207.6,575.1 207.9,577.7 208.2,576.6 208.5,575.8 208.8,576.6 209.1,576.4 209.4,576.4 209.7,576.4 210.0,576.0 210.3,576.2 210.6,575.0 210.9,575.9 211.2,572.1 211.5,575.1 211.8,576.5 212.1,575.3 212.4,573.3 212.7,574.5 213.0,576.4 213.3,574.3 213.6,574.2 213.9,574.1 214.2,577.3 214.5,579.0 214.8,576.3 215.1,576.6 215.4,577.2 215.7,576.8 216.0,576.4 216.3,575.9 216.6,574.7 216.9,575.3 217.2,575.5 217.5,575.5 217.8,577.7 218.1,572.1 218.4,575.0 218.7,577.9 219.0,578.6 219.3,574.7 219.6,578.8 219.9,576.2 220.2,574.6 220.5,578.0 220.8,576.9 221.1,575.7 221.4,577.3 221.7,575.2 222.0,577.0 222.3,574.5 222.6,576.6 222.9,573.8 223.2,573.9 223.5,579.4 223.8,575.0 224.1,575.8 224.4,578.1 224.7,576.2 225.0,574.5 225.3,575.7 225.6,576.6 225.9,574.6 226.2,577.4 226.5,574.1 226.8,576.1 227.1,576.4 227.4,577.4 227.7,578.4 228.0,576.2 228.3,574.2 228.6,574.3 228.9,574.9 229.2,575.1 229.5,577.7 229.8,578.1 230.1,577.1 230.4,576.6 230.7,574.5 231.0,576.4 231.3,574.3 231.6,574.7 231.9,574.8 232.2,573.5 232.5,574.8 232.8,576.8 233.1,576.5 233.4,576.5 233.7,576.9 234.0,576.6 234.3,572.2 234.6,575.2 234.9,572.7 235.2,576.0 235.5,575.8 235.8,574.9 236.1,576.0 236.4,577.9 236.7,577.7 237.0,577.1 237.3,573.1 237.6,576.5 237.9,573.2 238.2,574.9 238.5,576.0 238.8,574.5 239.1,574.5 239.4,577.2 239.7,575.3 240.0,574.1 240.3,578.9 240.6,576.4 240.9,574.9 241.2,576.5 241.5,577.5 241.8,573.7 242.1,575.3 242.4,577.8 242.7,574.9 243.0,573.8 243.3,576.4 243.6,578.4 243.9,573.4 244.2,577.5 244.5,578.6 244.8,574.2 245.1,575.2 245.4,576.2 245.7,575.3 246.0,576.0 246.3,577.0 246.6,576.8 246.9,574.9 247.2,577.6 247.5,578.5 247.8,577.2 248.1,577.5 248.4,575.1 248.7,576.2 249.0,573.8 249.3,576.9 249.6,575.5 249.9,573.0 250.2,574.7 250.5,572.3 250.8,574.9 251.1,573.4 251.4,575.3 251.7,575.7 252.0,575.7 252.3,574.0 252.6,576.6 252.9,573.6 253.2,574.7 253.5,575.9 253.8,577.0" stroke="#ff00ff"/>
<polyline points="59.2,569.1 59.5,566.8 59.8,567.5 60.1,567.7 60.4,567.1 60.7,567.1 61.0,567.0 61.3,565.7 61.6,564.0 61.9,567.3 62.2,564.2 62.5,565.5 62.8,567.2 63.1,565.1 63.4,567.8 63.7,564.7 64.0,563.7 64.3,567.1 64.6,564.6 64.9,565.1 65.2,567.6 65.5,566.8 65.8,565.8 66.1,565.9 66.4,567.3 66.7,565.7 67.0,567.5 67.3,567.5 67.6,566.2 67.9,564.6 68.2,564.3 68.5,566.6 68.8,566.5 69.1,566.0 69.4,567.5 69.7,567.3 70.0,562.5 70.3,567.0 70.6,564.4 70.9,566.6 71.2,565.9 71.5,567.2 71.8,563.6 72.1,567.3 72.4,565.8 72.7,566.5 73.0,563.6 73.3,565.9 73.6,563.8 73.9,565.3 74.2,565.7 74.5,564.5 74.8,567.3 75.1,563.9 75.4,567.5 75.7,567.0 76.0,567.0 76.3,566.8 76.6,567.1 76.9,567.0" stroke="#ffff00"/>
<polyline points="80.2,567.3 80.5,567.5 80.8,565.8 81.1,567.4 81.4,567.4 81.7,563.9 82.0,564.7 82.3,565.9 82.6,566.6 82.9,564.0 83.2,564.4 83.5,566.4 83.8,565.8 84.1,565.2 84.4,565.5 84.7,566.0 85.0,566.5 85.3,566.1 85.6,568.1 85.9,564.4 86.2,566.9 86.5,566.9 86.8,567.1 87.1,564.7 87.4,567.1 87.7,564.5 88.0,564.5 88.3,565.6 88.6,565.3 88.9,565.9 89.2,563.8 89.5,565.2 89.8,565.7 90.1,563.8 90.4,567.3 90.7,565.9 91.0,565.4 91.3,563.5 91.6,564.4 91.9,566.1 92.2,567.4 92.5,565.4 92.8,565.7 93.1,566.2 93.4,564.3 93.7,567.6" stroke="#ffff00"/>
<polyline points="95.2,564.7 95.5,564.7 95.8,565.2 96.1,565.3 96.4,566.5 96.7,565.3 97.0,568.0 97.3,566.6 97.6,566.4 97.9,565.2 98.2,566.6 98.5,565.8 98.8,565.7 99.1,566.3 99.4,566.0 99.7,567.2 100.0,565.7 100.3,564.8 100.6,566.3 100.9,565.0 101.2,566.1 101.5,566.3 101.8,563.8 102.1,565.7 102.4,566.3 102.7,567.3 103.0,566.8 103.3,567.6 103.6,568.7 103.9,566.5 104.2,566.7 104.5,566.0 104.8,565.3 105.1,565.3 105.4,564.0 105.7,566.6 106.0,567.3 106.3,568.4 106.6,567.0 106.9,566.5 107.2,564.5 107.5,564.8 107.9,564.0 108.2,567.4 108.5,565.5 108.8,565.0 109.1,568.1 109.4,567.8 109.7,567.6 110.0,564.9 110.3,566.0 110.6,565.4 110.9,565.3 111.2,565.7 111.5,564.4 111.8,568.2 112.1,566.6 112.4,564.7 112.7,564.8 113.0,565.2 113.3,565.4 113.6,566.8 113.9,567.8 114.2,566.9 114.5,566.5 114.8,566.7 115.1,566.9 115.4,565.4 115.7,565.8 116.0,566.3 116.3,565.1 116.6,566.2 116.9,565.8 117.2,565.0 117.5,564.8 117.8,566.3 118.1,565.3 118.4,567.3 118.7,566.6 119.0,567.6 119.3,568.4 119.6,566.1 119.9,566.5 120.2,567.0 120.5,566.9 120.8,564.6 121.1,561.4 121.4,565.0 121.7,567.2 122.0,562.5 122.3,564.2 122.6,564.7 122.9,564.4 123.2,566.8 123.5,567.6 123.8,567.9 124.1,567.6 124.4,563.3 124.7,565.2 125.0,568.0 125.3,566.6 125.6,564.9 125.9,566.2 126.2,565.2 126.5,565.2 126.8,566.2 127.1,566.2 127.4,565.3 127.7,564.3 128.0,564.6 128.3,567.6 128.6,565.2 128.9,566.0 129.2,564.8 129.5,567.8 129.8,565.1 130.1,566.1 130.4,565.9 130.7,564.5 131.0,565.9 131.3,566.3 131.6,565.1 131.9,564.6 132.2,565.6 132.5,566.1 132.8,566.3 133.1,567.7 133.4,567.7 133.7,564.3 134.0,566.8 134.3,565.4 134.6,567.2 134.9,564.5 135.2,566.3 135.5,567.9 135.8,565.3 136.1,565.5 136.4,565.6 136.7,565.2 137.0,567.8 137.3,568.4 137.6,563.7 137.9,565.3 138.2,566.3 138.5,566.5 138.8,566.0 139.1,566.1 139.4,568.2 139.7,566.1 140.0,565.6 140.3,567.2 140.6,566.6 140.9,567.0 141.2,567.8 141.5,569.1 141.8,567.7 142.1,567.5 142.4,567.4 142.7,568.2 143.0,566.3 143.3,565.9 143.6,565.2 143.9,566.6 144.2,565.1 144.5,565.6 144.8,564.8 145.1,566.0 145.4,566.9 145.7,565.5 146.0,566.6 146.3,565.4 146.6,566.4 146.9,566.6 147.2,565.8 147.5,563.6 147.8,566.3 148.1,566.1 148.4,563.5 148.7,565.1 149.0,565.3 149.3,565.4 149.6,565.0 149.9,567.1 150.2,566.4 150.5,565.7 150.8,563.7 151.1,562.2 151.4,565.1 151.7,567.7 152.0,564.6 152.3,564.3 152.6,565.9 152.9,563.9 153.2,568.6 153.5,568.6 153.8,564.0 154.1,566.7 154.4,565.8 154.7,568.2 155.0,565.6 155.3,568.1 155.6,566.0 155.9,565.9 156.2,567.6 156.5,565.7 156.8,564.6 157.1,566.2 157.4,563.7 157.7,567.4 158.0,564.4 158.3,564.7 158.6,563.2 158.9,564.8 159.2,567.4 159.5,566.2 159.8,568.8 160.1,566.0 160.4,566.1 160.7,565.3 161.0,567.8 161.3,564.7 161.6,566.8 161.9,567.0 162.2,566.5 162.5,568.5 162.8,564.7 163.1,567.1 163.4,567.9 163.7,565.1 164.0,568.2 164.3,564.5 164.6,568.6 164.9,567.8 165.2,565.8 165.5,568.3 165.8,566.0 166.1,564.4 166.4,563.4 166.7,565.5 167.0,567.7 167.3,568.9 167.6,565.9 167.9,565.4 168.2,566.2 168.5,565.6 168.8,566.3 169.1,566.0 169.4,567.0 169.7,564.7 170.0,566.0 170.3,567.2 170.6,565.4 170.9,566.7 171.2,566.6 171.5,567.2 171.8,566.7 172.1,565.8 172.4,567.7 172.7,569.6 173.0,567.4 173.3,565.7 173.6,567.7 173.9,566.2 174.2,566.8 174.5,565.8 174.8,567.1 175.1,565.1 175.4,563.4 175.7,563.8 176.0,565.9 176.3,565.3 176.6,563.6 176.9,566.6 177.2,566.7 177.5,563.5 177.8,566.5 178.1,564.3 178.4,567.1 178.7,567.3 179.0,566.8 179.3,565.8 179.6,565.0 179.9,564.4 180.2,568.6 180.5,565.1 180.8,567.1 181.1,567.0 181.4,568.0 181.7,564.7 182.0,565.9 182.3,566.4 182.6,563.4 182.9,566.5 183.2,566.6 183.5,565.1 183.8,565.8 184.1,566.7 184.4,565.2 184.7,568.0 185.0,564.5 185.3,565.7 185.6,564.4 185.9,564.7 186.2,566.5 186.5,565.7 186.8,567.4 187.1,567.0 187.4,567.0 187.7,565.4 188.0,567.5 188.3,566.1 188.6,565.0 188.9,566.2 189.2,567.9 189.5,566.5 189.8,565.7 190.1,565.3 190.4,567.2 190.7,568.0 191.0,565.1 191.3,563.5 191.6,567.1 191.9,566.6 192.2,565.8 192.5,567.0 192.8,566.0 193.1,566.7 193.4,564.1 193.7,566.9 194.0,566.3 194.3,567.4 194.6,567.5 194.9,568.8 195.2,567.0 195.5,568.2 195.8,563.8 196.1,565.9 196.4,567.4 196.7,568.0 197.0,566.8 197.3,567.2 197.6,570.0 197.9,566.9 198.2,566.8 198.5,566.3 198.8,564.8 199.1,564.9 199.4,565.2 199.7,562.2 200.0,568.0 200.3,565.1 200.6,566.7 200.9,566.0 201.2,564.8 201.5,564.1 201.8,567.2 202.1,566.8 202.4,564.8 202.7,565.7 203.0,565.7 203.3,564.3 203.6,564.8 203.9,567.0 204.2,565.7 204.5,565.2 204.8,564.0 205.2,566.7 205.5,567.3 205.8,562.8 206.1,565.9 206.4,566.8 206.7,566.7 207.0,568.0 207.3,566.4 207.6,567.7 207.9,567.2 208.2,568.0 208.5,565.9 208.8,566.0 209.1,566.7 209.4,564.9 209.7,565.9 210.0,568.0 210.3,566.7 210.6,567.8 210.9,564.3 211.2,567.9 211.5,566.0 211.8,566.4 212.1,567.0 212.4,565.3 212.7,567.5 213.0,567.6 213.3,565.8 213.6,566.0 213.9,564.2 214.2,564.7 214.5,565.9 214.8,566.8 215.1,564.5 215.4,565.7 215.7,567.6 216.0,563.4 216.3,566.7 216.6,567.1 216.9,567.4 217.2,564.5 217.5,566.1 217.8,565.6 218.1,566.1 218.4,566.6 218.7,567.2 219.0,567.6 219.3,568.2 219.6,566.0 219.9,566.7 220.2,567.0 220.5,566.1 220.8,569.6 221.1,568.4 221.4,566.0 221.7,566.2 222.0,565.5 222.3,565.8 222.6,565.0 222.9,564.3 223.2,564.2 223.5,567.6 223.8,567.2 224.1,565.9 224.4,567.7 224.7,565.4 225.0,567.4 225.3,564.1 225.6,566.0 225.9,566.6 226.2,566.6 226.5,564.4 226.8,569.0 227.1,565.3 227.4,564.9 227.7,567.0 228.0,565.4 228.3,566.1 228.6,567.3 228.9,568.1 229.2,568.1 229.5,566.3 229.8,567.5 230.1,566.0 230.4,568.2 230.7,564.6 231.0,566.0 231.3,564.0 231.6,567.3 231.9,566.1 232.2,567.6 232.5,566.1 232.8,567.6 233.1,566.3 233.4,566.1 233.7,568.3 234.0,568.0 234.3,568.4 234.6,566.3 234.9,567.2 235.2,567.4 235.5,566.0 235.8,568.1 236.1,566.5 236.4,566.2 236.7,564.7 237.0,567.0 237.3,566.6 237.6,563.8 237.9,565.8 238.2,565.2 238.5,566.1 238.8,565.1 239.1,565.6 239.4,568.5 239.7,564.6 240.0,566.9 240.3,565.7 240.6,564.9 240.9,565.1 241.2,565.7 241.5,566.3 241.8,565.0 242.1,565.6 242.4,564.5 242.7,565.1 243.0,567.8 243.3,566.8 243.6,567.2 243.9,566.6 244.2,565.6 244.5,562.3 244.8,564.8 245.1,563.9 245.4,567.2 245.7,566.8 246.0,568.5 246.3,567.4 246.6,566.1 246.9,566.0 247.2,568.6 247.5,565.9 247.8,567.8 248.1,566.4 248.4,569.7 248.7,567.0 249.0,568.4 249.3,566.6 249.6,566.2 249.9,566.0 250.2,568.1 250.5,566.5 250.8,567.0 251.1,567.1 251.4,566.9 251.7,566.8 252.0,565.2 252.3,568.3 252.6,567.6 252.9,567.5 253.2,567.2 253.5,566.2 253.8,564.9" stroke="#ffff00"/>
<polyline points="59.2,555.7 59.5,559.0 59.8,556.1 60.1,559.1 60.4,556.8 60.7,556.0 61.0,555.5 61.3,557.4 61.6,555.5 61.9,554.2 62.2,559.4 62.5,555.9 62.8,557.1 63.1,558.9 63.4,556.5 63.7,558.2 64.0,556.6 64.3,555.5 64.6,554.7 64.9,555.8 65.2,557.6 65.5,556.3 65.8,554.7 66.1,555.5 66.4,554.6 66.7,557.2 67.0,557.3 67.3,557.7 67.6,553.1 67.9,554.3 68.2,555.7 68.5,557.1 68.8,557.0 69.1,554.1 69.4,556.7 69.7,554.3 70.0,556.6 70.3,555.7 70.6,557.3 70.9,555.9 71.2,559.6 71.5,553.9 71.8,555.9 72.1,557.0 72.4,556.0 72.7,556.9 73.0,556.4 73.3,558.7 73.6,557.2 73.9,556.2 74.2,554.6 74.5,557.8 74.8,556.0 75.1,553.5 75.4,553.6 75.7,558.5 76.0,553.7 76.3,554.5 76.6,555.1 76.9,555.9" stroke="#808000"/>
<polyline points="80.2,555.4 80.5,556.8 80.8,556.7 81.1,556.9 81.4,556.5 81.7,556.9 82.0,557.0 82.3,556.9 82.6,555.9 82.9,555.7 83.2,555.6 83.5,556.7 83.8,558.7 84.1,556.6 84.4,556.2 84.7,557.0 85.0,557.6 85.3,557.3 85.6,555.4 85.9,555.5 86.2,555.8 86.5,557.8 86.8,556.6 87.1,554.6 87.4,556.3 87.7,556.5 88.0,556.0 88.3,557.6 88.6,557.5 88.9,555.1 89.2,555.8 89.5,555.5 89.8,555.0 90.1,556.5 90.4,556.4 90.7,556.7 91.0,557.0 91.3,555.7 91.6,555.7 91.9,554.2 92.2,556.6 92.5,556.7 92.8,556.4 93.1,557.2 93.4,557.9 93.7,556.3" stroke="#808000"/>
<polyline points="95.2,556.5 95.5,557.6 95.8,556.4 96.1,557.4 96.4,556.4 96.7,557.4 97.0,554.4 97.3,555.5 97.6,557.8 97.9,555.6 98.2,556.2 98.5,557.6 98.8,557.1 99.1,556.7 99.4,555.6 99.7,558.0 100.0,557.2 100.3,555.6 100.6,557.2 100.9,558.6 101.2,557.1 101.5,556.9 101.8,556.3 102.1,557.5 102.4,557.5 102.7,555.1 103.0,556.6 103.3,556.1 103.6,556.2 103.9,556.1 104.2,557.1 104.5,555.5 104.8,557.9 105.1,555.1 105.4,556.8 105.7,554.6 106.0,555.0 106.3,557.6 106.6,556.1 106.9,556.1 107.2,557.2 107.5,555.3 107.9,556.5 108.2,557.6 108.5,556.5 108.8,555.6 109.1,558.9 109.4,556.0 109.7,558.0 110.0,556.1 110.3,555.1 110.6,558.1 110.9,557.5 111.2,556.8 111.5,556.5 111.8,556.6 112.1,555.9 112.4,556.9 112.7,557.8 113.0,558.4 113.3,555.7 113.6,557.3 113.9,554.2 114.2,557.1 114.5,555.6 114.8,557.4 115.1,559.6 115.4,555.5 115.7,557.1 116.0,556.5 116.3,557.1 116.6,558.6 116.9,555.6 117.2,555.9 117.5,557.2 117.8,555.7 118.1,558.1 118.4,559.1 118.7,558.2 119.0,556.6 119.3,555.9 119.6,556.3 119.9,556.0 120.2,555.3 120.5,554.2 120.8,556.3 121.1,556.6 121.4,555.8 121.7,558.3 122.0,557.3 122.3,554.9 122.6,555.8 122.9,557.1 123.2,557.4 123.5,554.2 123.8,558.3 124.1,557.8 124.4,557.2 124.7,554.8 125.0,556.6 125.3,557.2 125.6,555.9 125.9,556.9 126.2,557.4 126.5,558.0 126.8,557.8 127.1,558.1 127.4,555.3 127.7,555.4 128.0,558.0 128.3,557.1 128.6,556.1 128.9,556.5 129.2,557.1 129.5,558.0 129.8,555.7 130.1,556.2 130.4,554.7 130.7,558.2 131.0,556.9 131.3,557.2 131.6,557.8 131.9,557.5 132.2,556.2 132.5,556.4 132.8,557.7 133.1,558.4 133.4,556.1 133.7,556.0 134.0,555.7 134.3,555.8 134.6,557.9 134.9,555.1 135.2,557.4 135.5,555.4 135.8,556.2 136.1,556.0 136.4,555.5 136.7,557.8 137.0,556.4 137.3,558.8 137.6,557.4 137.9,557.9 138.2,557.7 138.5,557.4 138.8,557.1 139.1,556.1 139.4,557.3 139.7,557.7 140.0,555.0 140.3,557.0 140.6,557.2 140.9,557.4 141.2,556.3 141.5,557.0 141.8,557.0 142.1,556.6 142.4,557.8 142.7,556.8 143.0,558.0 143.3,557.3 143.6,557.8 143.9,556.7 144.2,558.0 144.5,555.3 144.8,556.5 145.1,556.5 145.4,556.1 145.7,557.9 146.0,558.1 146.3,556.9 146.6,557.4 146.9,557.4 147.2,557.3 147.5,555.4 147.8,557.4 148.1,555.4 148.4,556.0 148.7,558.2 149.0,556.9 149.3,555.6 149.6,557.6 149.9,557.8 150.2,557.0 150.5,556.9 150.8,557.4 151.1,557.1 151.4,558.1 151.7,556.3 152.0,555.2 152.3,559.2 152.6,556.4 152.9,556.7 153.2,559.1 153.5,557.5 153.8,556.9 154.1,554.7 154.4,557.5 154.7,556.5 155.0,555.7 155.3,555.7 155.6,557.4 155.9,556.5 156.2,557.9 156.5,555.4 156.8,554.4 157.1,559.0 157.4,557.3 157.7,555.2 158.0,558.2 158.3,558.6 158.6,559.6 158.9,556.3 159.2,556.2 159.5,555.1 159.8,556.9 160.1,558.3 160.4,555.9 160.7,556.8 161.0,556.8 161.3,556.4 161.6,557.7 161.9,557.1 162.2,558.2 162.5,558.3 162.8,556.8 163.1,557.5 163.4,556.3 163.7,556.4 164.0,557.9 164.3,556.1 164.6,555.9 164.9,558.1 165.2,558.5 165.5,555.1 165.8,556.0 166.1,554.8 166.4,555.6 166.7,558.0 167.0,555.7 167.3,556.5 167.6,556.9 167.9,556.6 168.2,556.7 168.5,554.8 168.8,557.8 169.1,558.1 169.4,557.4 169.7,559.3 170.0,557.7 170.3,558.1 170.6,557.5 170.9,557.3 171.2,557.1 171.5,558.5 171.8,556.1 172.1,556.0 172.4,556.2 172.7,557.6 173.0,558.0 173.3,556.7 173.6,557.5 173.9,555.0 174.2,556.5 174.5,558.4 174.8,557.8 175.1,558.0 175.4,557.6 175.7,557.1 176.0,556.0 176.3,556.9 176.6,557.5 176.9,556.3 177.2,557.4 177.5,556.7 177.8,558.9 178.1,555.6 178.4,555.9 178.7,555.3 179.0,554.9 179.3,557.4 179.6,558.2 179.9,556.5 180.2,556.4 180.5,556.8 180.8,556.2 181.1,555.2 181.4,555.0 181.7,557.8 182.0,557.4 182.3,555.9 182.6,556.5 182.9,557.0 183.2,556.4 183.5,555.5 183.8,553.7 184.1,557.8 184.4,555.9 184.7,555.6 185.0,556.5 185.3,557.9 185.6,557.0 185.9,556.7 186.2,559.0 186.5,559.4 186.8,557.7 187.1,556.0 187.4,556.8 187.7,557.2 188.0,556.6 188.3,558.3 188.6,557.4 188.9,558.2 189.2,555.6 189.5,554.7 189.8,559.1 190.1,556.5 190.4,558.8 190.7,556.7 191.0,558.7 191.3,556.1 191.6,558.0 191.9,556.0 192.2,554.9 192.5,555.9 192.8,556.5 193.1,557.9 193.4,556.3 193.7,555.5 194.0,556.8 194.3,554.2 194.6,556.4 194.9,557.0 195.2,557.1 195.5,559.7 195.8,557.9 196.1,554.3 196.4,555.4 196.7,555.4 197.0,556.4 197.3,557.0 197.6,556.8 197.9,557.5 198.2,556.7 198.5,556.8 198.8,555.8 199.1,556.1 199.4,555.4 199.7,559.1 200.0,556.7 200.3,556.3 200.6,557.6 200.9,556.9 201.2,558.3 201.5,556.3 201.8,556.0 202.1,557.5 202.4,556.8 202.7,557.1 203.0,554.3 203.3,554.3 203.6,557.1 203.9,555.9 204.2,557.7 204.5,556.9 204.8,556.5 205.2,555.3 205.5,554.9 205.8,558.8 206.1,557.5 206.4,555.6 206.7,555.1 207.0,555.6 207.3,558.0 207.6,557.2 207.9,556.7 208.2,557.0 208.5,556.9 208.8,560.3 209.1,557.2 209.4,555.4 209.7,557.6 210.0,558.3 210.3,558.5 210.6,555.0 210.9,555.7 211.2,557.5 211.5,558.0 211.8,557.1 212.1,556.9 212.4,556.5 212.7,558.1 213.0,555.0 213.3,558.7 213.6,554.9 213.9,555.7 214.2,556.2 214.5,555.1 214.8,555.8 215.1,556.9 215.4,555.7 215.7,557.4 216.0,558.1 216.3,557.0 216.6,557.5 216.9,557.1 217.2,555.2 217.5,555.5 217.8,559.9 218.1,555.2 218.4,557.1 218.7,556.9 219.0,556.2 219.3,555.2 219.6,556.7 219.9,555.8 220.2,557.3 220.5,556.6 220.8,555.1 221.1,556.9 221.4,558.0 221.7,557.0 222.0,554.1 222.3,557.0 222.6,558.6 222.9,558.4 223.2,557.2 223.5,555.6 223.8,558.2 224.1,557.2 224.4,556.9 224.7,556.5 225.0,559.1 225.3,555.8 225.6,556.2 225.9,557.8 226.2,555.2 226.5,557.0 226.8,557.0 227.1,558.5 227.4,558.3 227.7,556.7 228.0,555.7 228.3,557.4 228.6,557.5 228.9,557.6 229.2,555.7 229.5,555.9 229.8,557.4 230.1,555.5 230.4,557.3 230.7,556.1 231.0,555.2 231.3,555.4 231.6,556.0 231.9,555.8 232.2,555.8 232.5,556.8 232.8,557.0 233.1,555.9 233.4,557.0 233.7,554.3 234.0,554.8 234.3,554.5 234.6,558.2 234.9,557.8 235.2,556.0 235.5,557.1 235.8,556.2 236.1,558.2 236.4,556.8 236.7,558.8 237.0,557.2 237.3,558.2 237.6,554.2 237.9,555.7 238.2,559.1 238.5,556.2 238.8,557.5 239.1,554.6 239.4,557.6 239.7,555.5 240.0,558.4 240.3,557.7 240.6,558.1 240.9,556.1 241.2,559.1 241.5,557.3 241.8,556.8 242.1,555.8 242.4,559.5 242.7,557.7 243.0,556.2 243.3,556.8 243.6,557.0 243.9,556.5 244.2,558.0 244.5,556.5 244.8,555.9 245.1,558.2 245.4,555.6 245.7,558.4 246.0,560.1 246.3,560.1 246.6,556.9 246.9,559.0 247.2,557.2 247.5,557.2 247.8,557.9 248.1,556.4 248.4,556.5 248.7,559.3 249.0,553.9 249.3,558.4 249.6,558.2 249.9,556.3 250.2,554.8 250.5,554.5 250.8,557.9 251.1,556.5 251.4,556.6 251.7,558.8 252.0,556.5 252.3,557.0 252.6,558.5 252.9,557.5 253.2,556.0 253.5,556.3 253.8,554.9" stroke="#808000"/>
<polyline points="59.2,544.9 59.5,546.5 59.8,546.4 60.1,547.5 60.4,544.8 60.7,547.1 61.0,544.5 61.3,546.6 61.6,545.5 61.9,548.3 62.2,545.3 62.5,546.8 62.8,543.9 63.1,547.4 63.4,547.1 63.7,546.6 64.0,547.4 64.3,546.2 64.6,544.8 64.9,548.8 65.2,546.4 65.5,546.6 65.8,545.9 66.1,546.2 66.4,546.5 66.7,546.8 67.0,549.7 67.3,546.1 67.6,547.7 67.9,548.6 68.2,546.5 68.5,546.6 68.8,546.9 69.1,547.2 69.4,546.6 69.7,548.5 70.0,545.8 70.3,547.2 70.6,545.5 70.9,545.1 71.2,547.6 71.5,545.7 71.8,545.4 72.1,548.8 72.4,544.7 72.7,545.3 73.0,545.0 73.3,545.1 73.6,546.1 73.9,549.6 74.2,547.2 74.5,546.2 74.8,545.6 75.1,545.3 75.4,546.4 75.7,544.0 76.0,546.5 76.3,547.7 76.6,547.8 76.9,546.2" stroke="#000080"/>
<polyline points="80.2,547.0 80.5,547.5 80.8,545.6 81.1,547.4 81.4,546.1 81.7,547.5 82.0,547.7 82.3,546.3 82.6,546.7 82.9,547.1 83.2,545.8 83.5,547.6 83.8,546.2 84.1,545.3 84.4,547.0 84.7,546.4 85.0,547.4 85.3,545.9 85.6,547.4 85.9,545.7 86.2,545.4 86.5,545.9 86.8,546.1 87.1,546.2 87.4,547.3 87.7,548.6 88.0,545.1 88.3,548.8 88.6,546.4 88.9,549.0 89.2,546.9 89.5,547.7 89.8,545.8 90.1,547.0 90.4,546.8 90.7,545.8 91.0,546.9 91.3,545.5 91.6,545.3 91.9,549.0 92.2,548.1 92.5,546.3 92.8,547.0 93.1,545.6 93.4,547.2 93.7,548.4" stroke="#000080"/>
<polyline points="95.2,546.2 95.5,546.1 95.8,547.0 96.1,544.3 96.4,547.8 96.7,545.4 97.0,548.1 97.3,546.2 97.6,545.8 97.9,545.7 98.2,544.6 98.5,548.1 98.8,546.7 99.1,547.6 99.4,547.8 99.7,545.8 100.0,547.5 100.3,548.5 100.6,544.9 100.9,546.5 101.2,547.1 101.5,547.0 101.8,548.2 102.1,546.6 102.4,546.0 102.7,544.7 103.0,547.6 103.3,547.4 103.6,545.8 103.9,545.9 104.2,545.4 104.5,545.0 104.8,544.6 105.1,545.1 105.4,548.5 105.7,546.9 106.0,548.4 106.3,548.2 106.6,544.6 106.9,544.6 107.2,546.7 107.5,545.5 107.9,546.1 108.2,546.7 108.5,544.7 108.8,548.5 109.1,547.0 109.4,545.6 109.7,547.4 110.0,547.9 110.3,548.2 110.6,543.6 110.9,545.0 111.2,546.9 111.5,545.3 111.8,546.8 112.1,544.8 112.4,547.1 112.7,548.8 113.0,544.2 113.3,545.1 113.6,545.8 113.9,546.7 114.2,548.0 114.5,546.6 114.8,545.8 115.1,547.3 115.4,546.7 115.7,547.6 116.0,544.5 116.3,545.4 116.6,545.3 116.9,545.1 117.2,547.1 117.5,546.7 117.8,543.7 118.1,547.0 118.4,546.1 118.7,548.1 119.0,547.2 119.3,547.2 119.6,546.9 119.9,545.6 120.2,546.5 120.5,547.5 120.8,546.8 121.1,546.0 121.4,546.2 121.7,545.5 122.0,546.6 122.3,547.3 122.6,547.6 122.9,546.7 123.2,546.4 123.5,546.4 123.8,546.9 124.1,545.7 124.4,546.0 124.7,547.1 125.0,543.8 125.3,546.0 125.6,548.9 125.9,546.5 126.2,545.0 126.5,546.2 126.8,547.3 127.1,547.2 127.4,546.3 127.7,547.3 128.0,547.9 128.3,547.1 128.6,547.4 128.9,546.0 129.2,546.9 129.5,547.0 129.8,548.0 130.1,545.4 130.4,547.4 130.7,545.7 131.0,546.2 131.3,546.0 131.6,545.1 131.9,545.6 132.2,545.9 132.5,547.0 132.8,547.2 133.1,546.9 133.4,546.7 133.7,547.0 134.0,547.1 134.3,547.8 134.6,548.2 134.9,548.8 135.2,544.5 135.5,545.7 135.8,546.4 136.1,546.2 136.4,546.1 136.7,545.3 137.0,545.9 137.3,550.6 137.6,545.7 137.9,545.7 138.2,549.3 138.5,545.9 138.8,549.9 139.1,545.7 139.4,546.0 139.7,545.1 140.0,547.3 140.3,544.9 140.6,544.6 140.9,546.3 141.2,545.7 141.5,547.0 141.8,546.1 142.1,545.8 142.4,547.6 142.7,547.2 143.0,545.9 143.3,547.5 143.6,545.7 143.9,546.4 144.2,544.9 144.5,545.7 144.8,547.1 145.1,545.9 145.4,546.3 145.7,548.4 146.0,545.3 146.3,546.4 146.6,548.3 146.9,547.6 147.2,545.6 147.5,544.9 147.8,545.4 148.1,549.8 148.4,546.7 148.7,548.5 149.0,546.9 149.3,546.0 149.6,545.9 149.9,543.6 150.2,549.1 150.5,547.5 150.8,548.0 151.1,545.9 151.4,546.2 151.7,545.1 152.0,545.0 152.3,544.7 152.6,548.4 152.9,546.5 153.2,547.3 153.5,547.4 153.8,547.2 154.1,547.5 154.4,545.3 154.7,546.4 155.0,547.5 155.3,547.1 155.6,546.2 155.9,546.3 156.2,545.3 156.5,546.0 156.8,544.5 157.1,545.8 157.4,548.3 157.7,545.9 158.0,545.7 158.3,549.2 158.6,545.6 158.9,546.9 159.2,545.0 159.5,546.3 159.8,546.5 160.1,547.8 160.4,545.9 160.7,546.0 161.0,548.2 161.3,545.9 161.6,547.0 161.9,546.2 162.2,545.4 162.5,545.2 162.8,545.9 163.1,547.4 163.4,546.7 163.7,543.8 164.0,544.7 164.3,547.4 164.6,547.2 164.9,548.2 165.2,546.4 165.5,546.6 165.8,544.4 166.1,546.3 166.4,548.7 166.7,544.2 167.0,547.1 167.3,549.7 167.6,548.1 167.9,546.4 168.2,546.8 168.5,546.9 168.8,546.3 169.1,546.0 169.4,544.5 169.7,547.5 170.0,549.0 170.3,545.3 170.6,546.4 170.9,548.3 171.2,546.5 171.5,545.3 171.8,546.2 172.1,548.7 172.4,547.1 172.7,548.6 173.0,547.4 173.3,548.6 173.6,545.4 173.9,547.7 174.2,546.6 174.5,546.7 174.8,549.0 175.1,547.1 175.4,547.3 175.7,547.6 176.0,546.6 176.3,547.7 176.6,546.4 176.9,547.9 177.2,547.4 177.5,544.0 177.8,548.5 178.1,548.5 178.4,547.6 178.7,544.6 179.0,547.9 179.3,546.1 179.6,546.0 179.9,546.3 180.2,546.4 180.5,546.0 180.8,545.5 181.1,545.1 181.4,545.8 181.7,549.0 182.0,549.5 182.3,550.3 182.6,545.0 182.9,546.5 183.2,545.3 183.5,545.1 183.8,544.8 184.1,547.5 184.4,548.4 184.7,545.9 185.0,549.4 185.3,545.9 185.6,545.2 185.9,545.3 186.2,545.3 186.5,548.5 186.8,546.8 187.1,549.0 187.4,547.1 187.7,546.7 188.0,547.4 188.3,546.9 188.6,544.7 188.9,544.3 189.2,546.9 189.5,545.9 189.8,548.8 190.1,547.3 190.4,549.9 190.7,547.7 191.0,545.4 191.3,549.4 191.6,546.8 191.9,546.0 192.2,545.2 192.5,546.3 192.8,545.7 193.1,543.0 193.4,548.1 193.7,547.1 194.0,545.0 194.3,546.0 194.6,545.9 194.9,547.5 195.2,547.1 195.5,547.5 195.8,545.9 196.1,546.7 196.4,544.8 196.7,546.6 197.0,543.6 197.3,546.6 197.6,545.3 197.9,546.6 198.2,548.4 198.5,546.8 198.8,547.8 199.1,548.0 199.4,548.2 199.7,545.1 200.0,547.8 200.3,548.0 200.6,546.4 200.9,546.0 201.2,546.1 201.5,547.7 201.8,546.5 202.1,546.3 202.4,545.8 202.7,546.6 203.0,544.9 203.3,545.0 203.6,548.3 203.9,545.3 204.2,546.8 204.5,544.0 204.8,544.5 205.2,545.5 205.5,543.7 205.8,545.8 206.1,545.3 206.4,548.0 206.7,542.8 207.0,547.1 207.3,546.2 207.6,547.6 207.9,547.5 208.2,545.8 208.5,545.5 208.8,546.0 209.1,544.5 209.4,547.0 209.7,545.5 210.0,546.1 210.3,547.1 210.6,546.4 210.9,549.4 211.2,547.3 211.5,549.4 211.8,546.3 212.1,547.5 212.4,547.7 212.7,547.1 213.0,547.4 213.3,544.5 213.6,546.4 213.9,546.4 214.2,548.8 214.5,546.2 214.8,548.0 215.1,545.9 215.4,547.9 215.7,545.3 216.0,545.8 216.3,545.7 216.6,547.8 216.9,546.2 217.2,545.2 217.5,546.2 217.8,546.5 218.1,548.0 218.4,546.2 218.7,545.7 219.0,546.9 219.3,549.5 219.6,546.2 219.9,545.1 220.2,545.6 220.5,545.4 220.8,544.9 221.1,548.3 221.4,546.8 221.7,546.8 222.0,547.7 222.3,546.7 222.6,546.8 222.9,548.0 223.2,547.6 223.5,545.6 223.8,544.1 224.1,546.4 224.4,547.3 224.7,545.1 225.0,545.9 225.3,547.0 225.6,548.9 225.9,547.4 226.2,548.8 226.5,547.1 226.8,547.4 227.1,548.4 227.4,548.1 227.7,545.8 228.0,547.9 228.3,546.4 228.6,547.0 228.9,544.9 229.2,545.5 229.5,546.9 229.8,547.9 230.1,544.8 230.4,546.6 230.7,547.7 231.0,544.3 231.3,547.5 231.6,545.7 231.9,546.6 232.2,545.6 232.5,546.2 232.8,545.6 233.1,548.2 233.4,546.7 233.7,546.9 234.0,545.3 234.3,548.9 234.6,545.9 234.9,547.4 235.2,545.5 235.5,550.2 235.8,545.6 236.1,546.7 236.4,548.6 236.7,548.0 237.0,545.1 237.3,548.4 237.6,549.1 237.9,548.2 238.2,547.6 238.5,544.3 238.8,547.0 239.1,550.6 239.4,548.9 239.7,547.1 240.0,550.7 240.3,545.0 240.6,546.7 240.9,544.8 241.2,546.5 241.5,547.2 241.8,547.4 242.1,546.3 242.4,547.2 242.7,545.7 243.0,547.8 243.3,546.6 243.6,544.5 243.9,548.9 244.2,547.1 244.5,547.3 244.8,544.4 245.1,547.5 245.4,545.4 245.7,546.6 246.0,544.5 246.3,549.2 246.6,549.2 246.9,547.5 247.2,544.8 247.5,545.6 247.8,548.1 248.1,545.6 248.4,546.5 248.7,547.8 249.0,547.0 249.3,546.6 249.6,547.7 249.9,548.0 250.2,547.7 250.5,549.1 250.8,545.6 251.1,548.2 251.4,548.1 251.7,546.6 252.0,551.7 252.3,550.5 252.6,547.2 252.9,549.3 253.2,547.9 253.5,545.8 253.8,547.8" stroke="#000080"/>
<polyline points="59.2,537.1 59.5,537.0 59.8,537.5 60.1,535.4 60.4,535.8 60.7,540.8 61.0,533.5 61.3,537.5 61.6,537.7 61.9,537.1 62.2,537.7 62.5,536.9 62.8,538.6 63.1,539.3 63.4,540.4 63.7,538.0 64.0,539.2 64.3,537.4 64.6,537.0 64.9,537.2 65.2,537.3 65.5,537.2 65.8,536.2 66.1,536.4 66.4,539.3 66.7,537.4 67.0,539.6 67.3,538.6 67.6,539.1 67.9,538.2 68.2,539.1 68.5,536.5 68.8,537.3 69.1,536.7 69.4,538.9 69.7,536.6 70.0,537.0 70.3,537.1 70.6,536.4 70.9,538.7 71.2,536.5 71.5,537.8 71.8,538.4 72.1,541.6 72.4,537.0 72.7,537.3 73.0,538.6 73.3,534.8 73.6,538.5 73.9,539.2 74.2,537.9 74.5,539.2 74.8,536.7 75.1,537.9 75.4,537.2 75.7,539.3 76.0,536.2 76.3,537.0 76.6,538.3 76.9,535.6" stroke="#800080"/>
<polyline points="80.2,537.4 80.5,535.9 80.8,538.6 81.1,537.0 81.4,538.4 81.7,539.7 82.0,537.0 82.3,536.5 82.6,535.3 82.9,535.7 83.2,536.9 83.5,537.1 83.8,539.5 84.1,538.3 84.4,539.2 84.7,537.7 85.0,536.4 85.3,535.9 85.6,537.8 85.9,537.5 86.2,536.4 86.5,539.3 86.8,537.4 87.1,538.0 87.4,536.7 87.7,538.3 88.0,538.8 88.3,537.5 88.6,537.4 88.9,538.8 89.2,538.3 89.5,537.1 89.8,538.8 90.1,536.7 90.4,540.6 90.7,537.3 91.0,537.8 91.3,537.5 91.6,536.2 91.9,539.4 92.2,539.0 92.5,537.1 92.8,538.1 93.1,534.4 93.4,539.3 93.7,538.4" stroke="#800080"/>
<polyline points="95.2,536.7 95.5,538.8 95.8,538.8 96.1,538.6 96.4,539.3 96.7,537.1 97.0,536.8 97.3,537.1 97.6,537.3 97.9,536.7 98.2,538.2 98.5,536.8 98.8,537.4 99.1,536.2 99.4,538.0 99.7,539.2 100.0,537.0 100.3,538.3 100.6,537.8 100.9,539.4 101.2,537.8 101.5,536.2 101.8,538.8 102.1,539.6 102.4,537.5 102.7,538.3 103.0,537.7 103.3,537.2 103.6,537.8 103.9,539.2 104.2,538.6 104.5,538.9 104.8,537.5 105.1,535.6 105.4,538.8 105.7,537.7 106.0,537.4 106.3,537.7 106.6,539.5 106.9,539.3 107.2,538.6 107.5,540.3 107.9,538.5 108.2,538.5 108.5,537.5 108.8,537.2 109.1,538.8 109.4,538.2 109.7,537.3 110.0,536.4 110.3,535.8 110.6,537.2 110.9,535.9 111.2,535.3 111.5,538.9 111.8,537.4 112.1,535.5 112.4,536.3 112.7,536.4 113.0,535.2 113.3,536.6 113.6,537.1 113.9,538.4 114.2,539.3 114.5,535.9 114.8,538.8 115.1,537.4 115.4,536.6 115.7,539.8 116.0,537.4 116.3,537.3 116.6,537.8 116.9,536.3 117.2,537.0 117.5,537.3 117.8,539.8 118.1,537.1 118.4,536.4 118.7,538.0 119.0,536.6 119.3,539.9 119.6,536.6 119.9,536.7 120.2,536.7 120.5,538.1 120.8,536.7 121.1,535.9 121.4,539.1 121.7,537.0 122.0,538.3 122.3,537.8 122.6,536.6 122.9,537.2 123.2,539.0 123.5,536.5 123.8,538.7 124.1,536.6 124.4,538.8 124.7,539.8 125.0,535.9 125.3,537.6 125.6,539.0 125.9,536.3 126.2,536.7 126.5,535.8 126.8,538.4 127.1,537.6 127.4,536.8 127.7,539.5 128.0,537.5 128.3,536.3 128.6,537.0 128.9,538.9 129.2,537.9 129.5,538.3 129.8,537.3 130.1,537.6 130.4,538.3 130.7,537.6 131.0,537.9 131.3,539.2 131.6,539.3 131.9,538.8 132.2,537.3 132.5,539.0 132.8,537.3 133.1,538.9 133.4,537.7 133.7,540.1 134.0,538.1 134.3,539.6 134.6,539.4 134.9,538.7 135.2,537.4 135.5,537.4 135.8,538.5 136.1,537.9 136.4,536.6 136.7,537.1 137.0,536.0 137.3,537.6 137.6,538.2 137.9,538.3 138.2,535.9 138.5,537.0 138.8,538.1 139.1,537.8 139.4,535.7 139.7,538.6 140.0,537.6 140.3,536.4 140.6,535.9 140.9,538.2 141.2,537.9 141.5,539.0 141.8,536.0 142.1,541.3 142.4,538.3 142.7,537.5 143.0,537.2 143.3,537.9 143.6,536.3 143.9,538.2 144.2,538.9 144.5,538.7 144.8,539.3 145.1,539.7 145.4,538.1 145.7,538.0 146.0,538.6 146.3,539.4 146.6,536.4 146.9,536.3 147.2,537.8 147.5,538.9 147.8,536.4 148.1,536.6 148.4,537.3 148.7,537.5 149.0,540.0 149.3,540.1 149.6,536.8 149.9,538.1 150.2,540.0 150.5,538.3 150.8,537.0 151.1,538.6 151.4,538.5 151.7,538.3 152.0,538.3 152.3,539.2 152.6,538.3 152.9,538.3 153.2,533.3 153.5,538.7 153.8,539.6 154.1,536.2 154.4,538.3 154.7,538.2 155.0,536.7 155.3,536.7 155.6,537.7 155.9,536.7 156.2,538.0 156.5,536.7 156.8,538.2 157.1,538.3 157.4,538.1 157.7,538.7 158.0,537.9 158.3,538.8 158.6,539.2 158.9,538.3 159.2,539.1 159.5,537.3 159.8,537.3 160.1,538.3 160.4,539.0 160.7,537.5 161.0,540.1 161.3,535.6 161.6,539.4 161.9,538.3 162.2,539.5 162.5,539.1 162.8,540.3 163.1,538.1 163.4,537.0 163.7,536.7 164.0,539.1 164.3,540.0 164.6,537.4 164.9,535.8 165.2,538.3 165.5,539.1 165.8,538.7 166.1,538.4 166.4,538.4 166.7,537.3 167.0,538.8 167.3,536.9 167.6,539.8 167.9,539.6 168.2,537.0 168.5,538.1 168.8,539.4 169.1,538.4 169.4,534.9 169.7,537.7 170.0,539.1 170.3,536.9 170.6,536.7 170.9,538.6 171.2,540.3 171.5,539.1 171.8,541.1 172.1,538.6 172.4,537.5 172.7,540.1 173.0,536.4 173.3,536.4 173.6,540.2 173.9,540.9 174.2,536.3 174.5,540.5 174.8,537.7 175.1,539.7 175.4,536.5 175.7,538.2 176.0,537.5 176.3,540.0 176.6,538.0 176.9,540.7 177.2,535.8 177.5,539.0 177.8,536.1 178.1,539.0 178.4,539.5 178.7,537.9 179.0,535.2 179.3,538.5 179.6,540.1 179.9,537.8 180.2,540.0 180.5,540.0 180.8,533.7 181.1,540.6 181.4,539.9 181.7,538.8 182.0,538.3 182.3,536.4 182.6,539.5 182.9,538.5 183.2,536.6 183.5,538.9 183.8,535.6 184.1,539.9 184.4,537.9 184.7,539.9 185.0,536.5 185.3,540.7 185.6,535.8 185.9,536.9 186.2,538.1 186.5,539.9 186.8,535.7 187.1,535.8 187.4,537.2 187.7,538.4 188.0,539.4 188.3,539.5 188.6,534.7 188.9,536.3 189.2,538.6 189.5,539.1 189.8,535.4 190.1,537.9 190.4,535.9 190.7,536.1 191.0,537.9 191.3,538.6 191.6,537.5 191.9,538.1 192.2,535.5 192.5,536.6 192.8,535.8 193.1,536.1 193.4,537.0 193.7,538.9 194.0,537.5 194.3,538.0 194.6,538.2 194.9,538.4 195.2,537.5 195.5,540.0 195.8,538.3 196.1,537.9 196.4,540.7 196.7,536.5 197.0,536.9 197.3,538.3 197.6,537.7 197.9,536.8 198.2,538.0 198.5,537.8 198.8,538.0 199.1,537.6 199.4,536.8 199.7,539.1 200.0,537.8 200.3,541.4 200.6,538.2 200.9,536.8 201.2,540.2 201.5,539.1 201.8,538.0 202.1,535.1 202.4,538.9 202.7,536.9 203.0,538.4 203.3,538.3 203.6,537.4 203.9,538.6 204.2,539.5 204.5,538.1 204.8,539.5 205.2,536.8 205.5,540.2 205.8,539.3 206.1,539.5 206.4,536.4 206.7,537.6 207.0,537.4 207.3,536.9 207.6,540.6 207.9,538.0 208.2,536.3 208.5,537.6 208.8,539.5 209.1,538.7 209.4,538.7 209.7,538.2 210.0,538.9 210.3,538.0 210.6,539.8 210.9,536.0 211.2,537.6 211.5,538.6 211.8,539.2 212.1,539.0 212.4,536.6 212.7,537.0 213.0,536.0 213.3,536.2 213.6,539.2 213.9,536.8 214.2,540.2 214.5,538.5 214.8,537.4 215.1,537.6 215.4,538.6 215.7,539.3 216.0,537.7 216.3,540.3 216.6,536.0 216.9,540.3 217.2,536.8 217.5,538.3 217.8,538.2 218.1,537.9 218.4,539.4 218.7,538.5 219.0,537.4 219.3,538.3 219.6,539.7 219.9,540.7 220.2,538.2 220.5,538.4 220.8,535.3 221.1,536.4 221.4,538.2 221.7,538.9 222.0,538.2 222.3,539.1 222.6,539.0 222.9,537.2 223.2,538.9 223.5,538.6 223.8,539.3 224.1,538.2 224.4,537.0 224.7,538.5 225.0,538.0 225.3,539.5 225.6,539.4 225.9,538.4 226.2,538.7 226.5,535.9 226.8,538.6 227.1,540.1 227.4,536.1 227.7,537.5 228.0,537.2 228.3,539.5 228.6,537.8 228.9,538.8 229.2,537.9 229.5,538.3 229.8,536.3 230.1,539.1 230.4,538.3 230.7,540.5 231.0,537.5 231.3,537.0 231.6,541.6 231.9,536.5 232.2,539.5 232.5,539.6 232.8,537.4 233.1,538.4 233.4,539.0 233.7,536.9 234.0,538.5 234.3,538.5 234.6,535.2 234.9,536.1 235.2,536.5 235.5,536.0 235.8,540.2 236.1,536.6 236.4,541.1 236.7,536.2 237.0,538.2 237.3,537.0 237.6,536.1 237.9,540.0 238.2,536.0 238.5,539.7 238.8,539.6 239.1,538.6 239.4,537.8 239.7,537.8 240.0,541.2 240.3,536.2 240.6,536.2 240.9,536.9 241.2,537.3 241.5,535.5 241.8,538.7 242.1,536.3 242.4,539.0 242.7,534.4 243.0,539.3 243.3,538.8 243.6,541.7 243.9,533.4 244.2,538.2 244.5,537.5 244.8,538.2 245.1,537.0 245.4,538.8 245.7,538.0 246.0,537.7 246.3,537.7 246.6,537.6 246.9,535.2 247.2,538.8 247.5,537.9 247.8,538.0 248.1,540.1 248.4,538.8 248.7,536.7 249.0,540.0 249.3,538.1 249.6,537.8 249.9,539.2 250.2,538.2 250.5,536.5 250.8,538.5 251.1,538.4 251.4,538.2 251.7,536.7 252.0,538.7 252.3,537.7 252.6,538.6 252.9,538.1 253.2,537.1 253.5,536.4 253.8,537.6" stroke="#800080"/>
<polyline points="59.2,525.6 59.5,529.7 59.8,527.5 60.1,528.0 60.4,527.7 60.7,528.8 61.0,527.4 61.3,526.5 61.6,528.1 61.9,526.6 62.2,528.8 62.5,526.3 62.8,529.2 63.1,527.4 63.4,527.8 63.7,528.8 64.0,527.7 64.3,528.8 64.6,527.2 64.9,527.8 65.2,522.5 65.5,530.8 65.8,527.7 66.1,526.2 66.4,528.3 66.7,525.3 67.0,526.7 67.3,528.8 67.6,528.3 67.9,526.0 68.2,529.1 68.5,526.7 68.8,527.1 69.1,528.7 69.4,527.9 69.7,529.5 70.0,528.2 70.3,526.4 70.6,526.9 70.9,528.9 71.2,526.7 71.5,527.1 71.8,529.2 72.1,527.2 72.4,527.0 72.7,526.3 73.0,526.4 73.3,526.4 73.6,525.8 73.9,527.7 74.2,525.3 74.5,524.9 74.8,530.3 75.1,528.2 75.4,526.9 75.7,528.1 76.0,527.3 76.3,526.8 76.6,529.1 76.9,526.1" stroke="#800000"/>
<polyline points="80.2,527.0 80.5,527.4 80.8,528.3 81.1,527.8 81.4,526.0 81.7,527.3 82.0,526.1 82.3,526.4 82.6,525.4 82.9,527.5 83.2,528.2 83.5,527.7 83.8,526.0 84.1,528.2 84.4,528.1 84.7,527.5 85.0,524.7 85.3,526.5 85.6,526.7 85.9,525.7 86.2,527.5 86.5,526.6 86.8,526.1 87.1,527.1 87.4,526.9 87.7,528.4 88.0,527.1 88.3,529.1 88.6,526.0 88.9,527.7 89.2,526.8 89.5,526.3 89.8,528.2 90.1,526.3 90.4,527.4 90.7,526.9 91.0,525.5 91.3,526.6 91.6,526.5 91.9,525.5 92.2,526.9 92.5,527.3 92.8,529.3 93.1,529.2 93.4,527.7 93.7,527.2" stroke="#800000"/>
<polyline points="95.2,527.8 95.5,527.7 95.8,525.3 96.1,527.5 96.4,528.3 96.7,525.6 97.0,527.6 97.3,527.2 97.6,527.4 97.9,525.1 98.2,526.7 98.5,527.5 98.8,525.6 99.1,527.3 99.4,528.2 99.7,528.6 100.0,526.6 100.3,525.5 100.6,526.3 100.9,526.1 101.2,526.1 101.5,526.6 101.8,526.6 102.1,527.2 102.4,526.5 102.7,526.3 103.0,526.5 103.3,527.2 103.6,526.9 103.9,526.7 104.2,524.8 104.5,526.2 104.8,525.8 105.1,526.4 105.4,526.7 105.7,526.9 106.0,526.5 106.3,524.9 106.6,527.5 106.9,524.4 107.2,528.6 107.5,527.1 107.9,528.8 108.2,525.6 108.5,528.0 108.8,527.6 109.1,526.9 109.4,527.5 109.7,527.4 110.0,525.8 110.3,527.8 110.6,526.1 110.9,525.5 111.2,525.9 111.5,526.3 111.8,526.8 112.1,526.2 112.4,526.9 112.7,525.1 113.0,523.6 113.3,525.9 113.6,527.0 113.9,529.4 114.2,524.9 114.5,526.1 114.8,526.2 115.1,526.3 115.4,527.2 115.7,525.5 116.0,525.6 116.3,526.0 116.6,525.3 116.9,524.5 117.2,525.7 117.5,525.3 117.8,525.1 118.1,526.7 118.4,524.5 118.7,524.7 119.0,523.2 119.3,523.4 119.6,520.5 119.9,524.3 120.2,522.2 120.5,521.4 120.8,522.8 121.1,522.1 121.4,523.9 121.7,521.5 122.0,521.0 122.3,522.9 122.6,523.8 122.9,523.0 123.2,524.9 123.5,524.5 123.8,522.1 124.1,523.4 124.4,521.2 124.7,522.7 125.0,523.0 125.3,522.3 125.6,523.4 125.9,523.0 126.2,522.7 126.5,524.7 126.8,522.0 127.1,524.4 127.4,525.3 127.7,525.2 128.0,525.3 128.3,525.4 128.6,523.5 128.9,526.2 129.2,524.5 129.5,526.4 129.8,525.0 130.1,524.4 130.4,524.3 130.7,525.4 131.0,525.6 131.3,528.2 131.6,526.1 131.9,527.5 132.2,525.8 132.5,523.0 132.8,526.6 133.1,526.9 133.4,525.6 133.7,526.0 134.0,527.0 134.3,528.9 134.6,526.9 134.9,527.9 135.2,525.5 135.5,524.6 135.8,527.4 136.1,524.9 136.4,525.8 136.7,527.8 137.0,528.3 137.3,527.3 137.6,528.9 137.9,528.3 138.2,524.8 138.5,526.1 138.8,525.9 139.1,527.4 139.4,528.2 139.7,524.4 140.0,530.2 140.3,528.2 140.6,527.1 140.9,526.6 141.2,526.8 141.5,529.1 141.8,528.4 142.1,527.7 142.4,526.5 142.7,528.3 143.0,528.2 143.3,526.7 143.6,527.6 143.9,528.5 144.2,525.5 144.5,528.8 144.8,527.7 145.1,527.7 145.4,527.6 145.7,528.5 146.0,527.9 146.3,527.2 146.6,526.5 146.9,527.3 147.2,527.7 147.5,525.4 147.8,528.5 148.1,525.8 148.4,529.6 148.7,526.4 149.0,524.8 149.3,526.1 149.6,524.6 149.9,525.6 150.2,527.7 150.5,527.7 150.8,529.3 151.1,527.4 151.4,528.8 151.7,526.5 152.0,526.5 152.3,526.4 152.6,527.4 152.9,527.8 153.2,526.4 153.5,527.3 153.8,529.3 154.1,529.3 154.4,528.7 154.7,529.4 155.0,527.4 155.3,526.9 155.6,526.0 155.9,525.2 156.2,528.2 156.5,526.0 156.8,526.9 157.1,528.0 157.4,527.1 157.7,527.0 158.0,528.8 158.3,529.1 158.6,528.9 158.9,527.1 159.2,529.7 159.5,524.3 159.8,527.8 160.1,527.4 160.4,527.3 160.7,528.8 161.0,528.5 161.3,524.4 161.6,528.7 161.9,528.9 162.2,525.8 162.5,526.1 162.8,527.4 163.1,528.2 163.4,528.3 163.7,528.0 164.0,525.5 164.3,529.1 164.6,528.0 164.9,526.8 165.2,530.2 165.5,527.9 165.8,530.5 166.1,527.6 166.4,523.5 166.7,528.9 167.0,526.0 167.3,526.8 167.6,526.9 167.9,527.8 168.2,528.2 168.5,526.2 168.8,527.5 169.1,525.7 169.4,529.2 169.7,527.9 170.0,528.4 170.3,526.2 170.6,524.5 170.9,526.5 171.2,527.9 171.5,530.0 171.8,528.3 172.1,528.8 172.4,525.2 172.7,528.4 173.0,527.7 173.3,528.4 173.6,528.5 173.9,529.5 174.2,527.1 174.5,529.7 174.8,529.4 175.1,528.9 175.4,529.1 175.7,526.5 176.0,525.6 176.3,527.0 176.6,527.7 176.9,529.5 177.2,526.0 177.5,527.5 177.8,527.4 178.1,525.9 178.4,528.7 178.7,527.1 179.0,527.0 179.3,526.5 179.6,529.6 179.9,525.8 180.2,527.4 180.5,528.0 180.8,527.7 181.1,527.2 181.4,527.4 181.7,526.1 182.0,529.7 182.3,529.2 182.6,525.1 182.9,525.6 183.2,527.3 183.5,527.9 183.8,529.2 184.1,525.0 184.4,528.1 184.7,526.3 185.0,528.6 185.3,527.7 185.6,528.3 185.9,529.4 186.2,526.0 186.5,527.5 186.8,527.7 187.1,528.0 187.4,527.2 187.7,529.7 188.0,528.7 188.3,527.9 188.6,528.1 188.9,528.8 189.2,529.2 189.5,526.4 189.8,529.7 190.1,530.2 190.4,527.9 190.7,527.2 191.0,526.4 191.3,526.4 191.6,528.3 191.9,524.5 192.2,528.9 192.5,529.4 192.8,525.3 193.1,525.7 193.4,525.9 193.7,528.9 194.0,526.6 194.3,527.7 194.6,527.4 194.9,524.8 195.2,527.2 195.5,526.9 195.8,528.2 196.1,524.5 196.4,529.5 196.7,527.2 197.0,528.6 197.3,526.2 197.6,530.3 197.9,528.1 198.2,528.6 198.5,527.0 198.8,525.5 199.1,527.9 199.4,524.5 199.7,529.9 200.0,526.0 200.3,529.4 200.6,527.7 200.9,528.2 201.2,527.5 201.5,529.8 201.8,525.0 202.1,526.1 202.4,529.8 202.7,525.8 203.0,527.4 203.3,527.9 203.6,527.0 203.9,526.0 204.2,529.3 204.5,526.1 204.8,527.2 205.2,529.1 205.5,527.3 205.8,529.2 206.1,529.6 206.4,526.6 206.7,528.0 207.0,527.9 207.3,526.2 207.6,527.1 207.9,527.6 208.2,526.3 208.5,527.6 208.8,526.3 209.1,525.4 209.4,527.0 209.7,527.8 210.0,529.4 210.3,525.7 210.6,525.5 210.9,527.3 211.2,527.1 211.5,529.1 211.8,528.9 212.1,526.9 212.4,526.7 212.7,527.8 213.0,529.4 213.3,526.8 213.6,530.2 213.9,525.7 214.2,524.0 214.5,526.5 214.8,527.6 215.1,530.2 215.4,525.2 215.7,527.5 216.0,525.3 216.3,527.2 216.6,526.2 216.9,529.9 217.2,525.7 217.5,528.1 217.8,528.8 218.1,526.2 218.4,528.5 218.7,527.1 219.0,530.0 219.3,528.6 219.6,528.4 219.9,527.8 220.2,527.1 220.5,526.5 220.8,530.3 221.1,526.8 221.4,526.1 221.7,526.4 222.0,530.6 222.3,526.6 222.6,528.4 222.9,530.4 223.2,528.0 223.5,526.2 223.8,529.0 224.1,528.3 224.4,527.3 224.7,527.9 225.0,529.0 225.3,527.6 225.6,524.7 225.9,528.4 226.2,529.2 226.5,527.0 226.8,528.6 227.1,528.6 227.4,529.5 227.7,526.8 228.0,527.1 228.3,526.5 228.6,529.1 228.9,527.3 229.2,526.2 229.5,527.3 229.8,525.9 230.1,527.0 230.4,528.0 230.7,528.8 231.0,526.3 231.3,529.9 231.6,528.0 231.9,529.0 232.2,524.9 232.5,525.0 232.8,527.5 233.1,526.0 233.4,526.8 233.7,528.3 234.0,528.4 234.3,529.5 234.6,527.2 234.9,527.4 235.2,529.3 235.5,523.8 235.8,528.7 236.1,527.8 236.4,527.9 236.7,531.5 237.0,530.9 237.3,527.3 237.6,530.4 237.9,528.5 238.2,528.8 238.5,525.0 238.8,529.6 239.1,530.4 239.4,531.0 239.7,528.7 240.0,528.7 240.3,527.0 240.6,526.7 240.9,527.3 241.2,527.3 241.5,527.1 241.8,526.9 242.1,528.9 242.4,528.2 242.7,525.1 243.0,526.7 243.3,527.7 243.6,525.4 243.9,528.4 244.2,526.9 244.5,528.1 244.8,526.9 245.1,529.5 245.4,526.1 245.7,528.3 246.0,528.8 246.3,527.8 246.6,528.5 246.9,527.7 247.2,528.2 247.5,529.0 247.8,526.4 248.1,528.6 248.4,528.0 248.7,528.9 249.0,529.7 249.3,529.1 249.6,529.4 249.9,528.1 250.2,526.7 250.5,527.7 250.8,529.2 251.1,525.9 251.4,528.3 251.7,524.9 252.0,526.9 252.3,526.8 252.6,525.5 252.9,528.3 253.2,529.3 253.5,528.8 253.8,528.6" stroke="#800000"/>
<polyline points="59.2,517.9 59.5,516.9 59.8,519.6 60.1,519.9 60.4,517.7 60.7,516.9 61.0,518.9 61.3,518.4 61.6,517.1 61.9,518.2 62.2,522.3 62.5,518.1 62.8,519.2 63.1,518.1 63.4,518.7 63.7,519.1 64.0,520.3 64.3,522.3 64.6,520.1 64.9,518.8 65.2,521.1 65.5,519.5 65.8,520.5 66.1,519.8 66.4,521.6 66.7,519.6 67.0,520.3 67.3,516.6 67.6,518.1 67.9,518.1 68.2,519.0 68.5,520.6 68.8,519.1 69.1,518.7 69.4,520.7 69.7,519.1 70.0,518.3 70.3,519.8 70.6,519.2 70.9,519.3 71.2,520.9 71.5,515.7 71.8,522.1 72.1,519.6 72.4,517.4 72.7,521.0 73.0,519.3 73.3,517.6 73.6,519.4 73.9,518.8 74.2,518.0 74.5,518.9 74.8,518.4 75.1,518.7 75.4,521.4 75.7,514.5 76.0,515.9 76.3,520.5 76.6,518.6 76.9,520.1" stroke="#008000"/>
<polyline points="80.2,519.2 80.5,520.2 80.8,518.0 81.1,519.4 81.4,519.0 81.7,518.8 82.0,519.9 82.3,520.3 82.6,518.0 82.9,519.7 83.2,517.5 83.5,519.7 83.8,518.3 84.1,520.2 84.4,518.1 84.7,519.1 85.0,520.2 85.3,518.5 85.6,518.5 85.9,519.6 86.2,519.9 86.5,518.4 86.8,519.0 87.1,517.4 87.4,517.4 87.7,520.6 88.0,516.4 88.3,518.7 88.6,520.4 88.9,517.6 89.2,517.6 89.5,518.7 89.8,518.1 90.1,519.9 90.4,517.3 90.7,519.4 91.0,519.3 91.3,520.4 91.6,519.1 91.9,519.5 92.2,516.9 92.5,518.9 92.8,519.6 93.1,519.9 93.4,519.1 93.7,518.6" stroke="#008000"/>
<polyline points="95.2,518.1 95.5,518.3 95.8,518.6 96.1,519.3 96.4,518.3 96.7,519.8 97.0,517.6 97.3,517.0 97.6,518.7 97.9,519.6 98.2,518.3 98.5,520.1 98.8,519.0 99.1,518.3 99.4,520.0 99.7,517.8 100.0,517.7 100.3,520.4 100.6,519.4 100.9,520.2 101.2,518.2 101.5,519.6 101.8,519.6 102.1,517.8 102.4,519.2 102.7,517.7 103.0,519.3 103.3,520.3 103.6,518.7 103.9,519.6 104.2,519.6 104.5,518.3 104.8,520.0 105.1,520.0 105.4,518.3 105.7,519.3 106.0,518.0 106.3,518.9 106.6,517.9 106.9,518.1 107.2,519.4 107.5,518.8 107.9,519.1 108.2,516.6 108.5,519.0 108.8,519.6 109.1,516.2 109.4,520.8 109.7,520.4 110.0,517.7 110.3,516.1 110.6,516.9 110.9,517.2 111.2,518.8 111.5,519.1 111.8,519.1 112.1,518.8 112.4,519.3 112.7,518.4 113.0,516.0 113.3,518.4 113.6,517.4 113.9,517.8 114.2,517.1 114.5,517.7 114.8,519.1 115.1,518.0 115.4,518.3 115.7,517.3 116.0,519.1 116.3,520.5 116.6,517.3 116.9,517.6 117.2,516.2 117.5,518.6 117.8,518.0 118.1,520.0 118.4,519.2 118.7,517.4 119.0,520.8 119.3,518.8 119.6,515.5 119.9,517.4 120.2,519.0 120.5,517.7 120.8,517.7 121.1,518.8 121.4,516.1 121.7,517.1 122.0,517.2 122.3,518.7 122.6,520.2 122.9,516.2 123.2,515.8 123.5,514.6 123.8,515.3 124.1,516.0 124.4,515.1 124.7,518.1 125.0,516.0 125.3,515.8 125.6,517.3 125.9,516.8 126.2,516.0 126.5,514.6 126.8,514.7 127.1,516.2 127.4,519.0 127.7,516.5 128.0,515.2 128.3,511.4 128.6,515.4 128.9,513.7 129.2,512.5 129.5,513.7 129.8,514.1 130.1,512.8 130.4,514.3 130.7,514.1 131.0,512.9 131.3,513.0 131.6,511.0 131.9,510.8 132.2,515.4 132.5,513.5 132.8,511.2 133.1,514.9 133.4,514.6 133.7,512.7 134.0,510.4 134.3,515.6 134.6,514.9 134.9,512.1 135.2,511.2 135.5,511.2 135.8,516.0 136.1,514.3 136.4,514.2 136.7,515.0 137.0,514.8 137.3,515.0 137.6,515.1 137.9,515.5 138.2,514.8 138.5,514.5 138.8,516.7 139.1,515.9 139.4,514.8 139.7,515.2 140.0,516.5 140.3,517.1 140.6,516.8 140.9,516.2 141.2,514.0 141.5,517.6 141.8,518.6 142.1,516.3 142.4,518.0 142.7,514.4 143.0,517.6 143.3,516.4 143.6,517.3 143.9,517.2 144.2,518.1 144.5,515.5 144.8,516.8 145.1,518.0 145.4,519.3 145.7,518.3 146.0,516.4 146.3,518.0 146.6,517.3 146.9,517.9 147.2,518.9 147.5,516.3 147.8,516.7 148.1,519.0 148.4,519.0 148.7,517.6 149.0,515.7 149.3,520.8 149.6,517.5 149.9,518.4 150.2,518.4 150.5,515.5 150.8,518.8 151.1,517.2 151.4,519.3 151.7,518.3 152.0,517.7 152.3,515.1 152.6,518.8 152.9,518.3 153.2,517.8 153.5,517.8 153.8,519.3 154.1,519.2 154.4,515.6 154.7,517.8 155.0,518.1 155.3,518.0 155.6,518.3 155.9,518.3 156.2,517.1 156.5,518.9 156.8,518.4 157.1,520.6 157.4,518.6 157.7,519.8 158.0,518.0 158.3,519.7 158.6,518.7 158.9,516.2 159.2,518.5 159.5,520.0 159.8,518.9 160.1,520.0 160.4,519.6 160.7,517.9 161.0,518.7 161.3,520.5 161.6,519.6 161.9,520.9 162.2,517.7 162.5,518.5 162.8,518.0 163.1,519.0 163.4,520.3 163.7,518.8 164.0,520.0 164.3,519.9 164.6,521.1 164.9,520.7 165.2,518.7 165.5,518.3 165.8,521.7 166.1,517.5 166.4,520.3 166.7,519.2 167.0,517.9 167.3,518.9 167.6,517.8 167.9,520.7 168.2,521.0 168.5,517.1 168.8,519.6 169.1,518.1 169.4,520.3 169.7,519.3 170.0,517.3 170.3,519.7 170.6,520.1 170.9,517.9 171.2,521.5 171.5,518.7 171.8,516.3 172.1,519.4 172.4,517.8 172.7,518.4 173.0,518.8 173.3,516.9 173.6,518.0 173.9,517.3 174.2,518.5 174.5,519.6 174.8,519.6 175.1,520.3 175.4,516.3 175.7,519.4 176.0,518.4 176.3,517.5 176.6,518.3 176.9,517.1 177.2,520.2 177.5,520.0 177.8,519.5 178.1,520.7 178.4,517.6 178.7,519.6 179.0,520.0 179.3,518.6 179.6,522.2 179.9,518.9 180.2,520.7 180.5,519.9 180.8,519.3 181.1,521.4 181.4,518.6 181.7,517.3 182.0,517.8 182.3,518.9 182.6,520.9 182.9,520.1 183.2,517.1 183.5,521.0 183.8,519.4 184.1,517.9 184.4,520.0 184.7,520.2 185.0,518.4 185.3,520.3 185.6,519.6 185.9,519.4 186.2,520.5 186.5,521.3 186.8,519.5 187.1,518.5 187.4,520.7 187.7,520.7 188.0,521.4 188.3,520.7 188.6,519.8 188.9,521.8 189.2,521.6 189.5,520.2 189.8,518.2 190.1,519.5 190.4,521.6 190.7,518.6 191.0,518.0 191.3,519.8 191.6,519.0 191.9,519.5 192.2,519.2 192.5,518.2 192.8,518.5 193.1,518.3 193.4,521.3 193.7,517.2 194.0,518.8 194.3,520.0 194.6,519.8 194.9,521.0 195.2,518.5 195.5,519.7 195.8,517.2 196.1,517.7 196.4,519.0 196.7,519.2 197.0,518.2 197.3,518.5 197.6,520.1 197.9,520.4 198.2,518.0 198.5,519.4 198.8,519.3 199.1,518.2 199.4,520.4 199.7,518.3 200.0,518.6 200.3,517.5 200.6,519.8 200.9,518.3 201.2,519.8 201.5,519.1 201.8,521.4 202.1,519.6 202.4,519.3 202.7,519.0 203.0,517.7 203.3,521.3 203.6,520.3 203.9,519.3 204.2,518.7 204.5,519.4 204.8,518.9 205.2,517.8 205.5,521.4 205.8,519.7 206.1,517.9 206.4,519.2 206.7,520.5 207.0,520.4 207.3,519.1 207.6,518.6 207.9,520.6 208.2,519.7 208.5,518.6 208.8,519.9 209.1,515.3 209.4,520.7 209.7,516.8 210.0,519.8 210.3,519.8 210.6,518.4 210.9,520.1 211.2,518.8 211.5,519.2 211.8,518.5 212.1,518.6 212.4,517.2 212.7,519.0 213.0,519.7 213.3,521.6 213.6,518.6 213.9,521.0 214.2,518.8 214.5,517.0 214.8,519.3 215.1,520.5 215.4,519.7 215.7,518.9 216.0,518.6 216.3,519.5 216.6,518.6 216.9,519.6 217.2,519.6 217.5,520.0 217.8,519.8 218.1,518.8 218.4,516.6 218.7,521.5 219.0,520.3 219.3,519.7 219.6,517.4 219.9,520.6 220.2,519.4 220.5,517.2 220.8,516.2 221.1,518.3 221.4,517.6 221.7,519.2 222.0,518.7 222.3,517.9 222.6,519.0 222.9,520.6 223.2,518.6 223.5,518.7 223.8,520.4 224.1,521.0 224.4,519.2 224.7,521.0 225.0,517.6 225.3,520.5 225.6,517.4 225.9,520.5 226.2,519.4 226.5,518.7 226.8,516.8 227.1,520.5 227.4,519.4 227.7,519.8 228.0,519.2 228.3,518.7 228.6,518.9 228.9,519.4 229.2,520.5 229.5,520.0 229.8,518.1 230.1,518.1 230.4,519.0 230.7,520.7 231.0,519.0 231.3,521.3 231.6,518.3 231.9,520.1 232.2,517.8 232.5,519.6 232.8,520.3 233.1,518.8 233.4,519.7 233.7,519.8 234.0,517.1 234.3,521.5 234.6,518.9 234.9,517.9 235.2,521.1 235.5,518.1 235.8,519.1 236.1,518.6 236.4,518.2 236.7,522.0 237.0,520.0 237.3,520.1 237.6,520.1 237.9,519.8 238.2,519.1 238.5,518.7 238.8,519.0 239.1,518.3 239.4,518.4 239.7,519.0 240.0,520.1 240.3,519.4 240.6,519.5 240.9,517.1 241.2,522.0 241.5,520.0 241.8,519.5 242.1,518.9 242.4,520.9 242.7,518.7 243.0,522.3 243.3,518.1 243.6,516.3 243.9,519.5 244.2,517.7 244.5,518.9 244.8,519.0 245.1,523.6 245.4,521.5 245.7,520.7 246.0,517.7 246.3,518.8 246.6,519.9 246.9,519.7 247.2,519.4 247.5,518.3 247.8,521.7 248.1,516.9 248.4,519.4 248.7,518.0 249.0,520.2 249.3,520.6 249.6,517.9 249.9,518.2 250.2,519.9 250.5,518.3 250.8,522.6 251.1,520.2 251.4,520.7 251.7,519.9 252.0,516.9 252.3,521.8 252.6,519.1 252.9,517.6 253.2,521.9 253.5,519.1 253.8,519.1" stroke="#008000"/>
<polyline points="59.2,509.0 59.5,509.7 59.8,509.3 60.1,509.2 60.4,508.3 60.7,506.3 61.0,507.3 61.3,512.0 61.6,507.3 61.9,509.3 62.2,506.3 62.5,509.0 62.8,509.9 63.1,508.0 63.4,506.2 63.7,510.3 64.0,511.1 64.3,507.3 64.6,510.3 64.9,506.4 65.2,505.9 65.5,509.3 65.8,510.6 66.1,509.8 66.4,507.7 66.7,506.9 67.0,509.1 67.3,507.6 67.6,507.1 67.9,508.3 68.2,509.3 68.5,510.2 68.8,505.7 69.1,509.9 69.4,510.7 69.7,508.3 70.0,506.8 70.3,510.6 70.6,508.2 70.9,508.4 71.2,507.7 71.5,509.3 71.8,509.5 72.1,508.4 72.4,509.0 72.7,510.6 73.0,509.7 73.3,507.3 73.6,510.7 73.9,511.9 74.2,507.2 74.5,508.0 74.8,510.6 75.1,509.5 75.4,506.9 75.7,509.7 76.0,507.0 76.3,509.0 76.6,505.5 76.9,509.7" stroke="#008080"/>
<polyline points="80.2,510.3 80.5,509.3 80.8,510.0 81.1,509.4 81.4,510.5 81.7,508.3 82.0,509.2 82.3,508.9 82.6,509.7 82.9,511.5 83.2,509.0 83.5,512.3 83.8,508.8 84.1,507.5 84.4,507.4 84.7,510.7 85.0,508.5 85.3,509.4 85.6,507.5 85.9,509.9 86.2,506.4 86.5,509.6 86.8,508.0 87.1,508.8 87.4,510.0 87.7,507.8 88.0,510.1 88.3,510.9 88.6,508.2 88.9,509.5 89.2,508.4 89.5,507.8 89.8,509.9 90.1,510.1 90.4,508.4 90.7,508.4 91.0,508.6 91.3,509.7 91.6,506.1 91.9,509.6 92.2,508.8 92.5,507.2 92.8,509.2 93.1,508.4 93.4,509.3 93.7,508.4" stroke="#008080"/>
<polyline points="95.2,510.6 95.5,508.0 95.8,508.0 96.1,508.1 96.4,507.3 96.7,511.3 97.0,510.9 97.3,508.8 97.6,508.3 97.9,508.2 98.2,508.7 98.5,508.6 98.8,509.2 99.1,507.0 99.4,510.2 99.7,509.3 100.0,510.1 100.3,509.2 100.6,507.9 100.9,508.6 101.2,507.1 101.5,509.0 101.8,508.2 102.1,508.7 102.4,508.9 102.7,508.8 103.0,507.4 103.3,508.9 103.6,505.5 103.9,508.1 104.2,508.9 104.5,508.5 104.8,511.6 105.1,509.1 105.4,511.0 105.7,509.6 106.0,509.6 106.3,507.0 106.6,509.4 106.9,508.0 107.2,508.0 107.5,507.7 107.9,508.1 108.2,507.7 108.5,508.1 108.8,508.7 109.1,507.8 109.4,510.2 109.7,507.1 110.0,507.7 110.3,509.3 110.6,510.8 110.9,510.8 111.2,509.2 111.5,509.5 111.8,509.7 112.1,509.5 112.4,509.2 112.7,509.1 113.0,509.7 113.3,508.3 113.6,510.7 113.9,509.3 114.2,508.7 114.5,507.5 114.8,510.1 115.1,508.6 115.4,509.2 115.7,508.5 116.0,510.0 116.3,510.2 116.6,506.2 116.9,510.0 117.2,511.6 117.5,509.3 117.8,508.1 118.1,508.7 118.4,508.1 118.7,507.4 119.0,511.2 119.3,509.9 119.6,508.2 119.9,506.8 120.2,506.9 120.5,506.9 120.8,508.0 121.1,508.7 121.4,508.4 121.7,510.6 122.0,508.1 122.3,507.9 122.6,508.2 122.9,506.2 123.2,508.5 123.5,508.7 123.8,509.5 124.1,507.3 124.4,508.9 124.7,508.2 125.0,508.2 125.3,507.1 125.6,508.1 125.9,511.4 126.2,507.9 126.5,509.5 126.8,507.3 127.1,506.2 127.4,507.4 127.7,509.0 128.0,506.9 128.3,508.8 128.6,508.8 128.9,508.2 129.2,509.9 129.5,505.2 129.8,507.9 130.1,508.1 130.4,506.6 130.7,506.6 131.0,505.7 131.3,508.4 131.6,509.6 131.9,504.8 132.2,504.1 132.5,506.1 132.8,505.6 133.1,506.5 133.4,503.2 133.7,504.5 134.0,502.5 134.3,505.8 134.6,505.3 134.9,504.4 135.2,503.5 135.5,503.0 135.8,503.8 136.1,503.9 136.4,502.1 136.7,500.0 137.0,502.3 137.3,500.3 137.6,500.1 137.9,500.7 138.2,501.2 138.5,497.5 138.8,498.1 139.1,499.5 139.4,498.8 139.7,498.5 140.0,498.3 140.3,498.6 140.6,498.8 140.9,499.9 141.2,499.4 141.5,500.1 141.8,499.7 142.1,502.0 142.4,500.6 142.7,500.3 143.0,500.7 143.3,502.7 143.6,503.7 143.9,501.8 144.2,502.8 144.5,504.3 144.8,501.7 145.1,504.1 145.4,503.8 145.7,505.3 146.0,505.0 146.3,504.2 146.6,506.6 146.9,506.7 147.2,504.7 147.5,506.6 147.8,507.2 148.1,506.4 148.4,508.0 148.7,508.6 149.0,506.3 149.3,507.5 149.6,508.7 149.9,508.7 150.2,508.0 150.5,506.4 150.8,505.3 151.1,507.1 151.4,509.1 151.7,509.6 152.0,507.1 152.3,509.1 152.6,507.9 152.9,507.4 153.2,508.9 153.5,508.1 153.8,506.0 154.1,509.2 154.4,508.1 154.7,507.3 155.0,508.1 155.3,507.8 155.6,509.5 155.9,510.0 156.2,509.4 156.5,508.3 156.8,509.4 157.1,511.0 157.4,510.4 157.7,508.5 158.0,506.6 158.3,506.4 158.6,508.5 158.9,507.7 159.2,509.4 159.5,508.9 159.8,507.7 160.1,509.6 160.4,507.0 160.7,507.9 161.0,507.3 161.3,507.4 161.6,507.2 161.9,509.4 162.2,511.4 162.5,506.6 162.8,510.7 163.1,509.1 163.4,509.8 163.7,510.3 164.0,508.8 164.3,508.4 164.6,508.0 164.9,510.9 165.2,511.5 165.5,509.2 165.8,510.1 166.1,508.3 166.4,508.2 166.7,507.0 167.0,508.2 167.3,508.7 167.6,507.1 167.9,508.1 168.2,509.0 168.5,508.0 168.8,511.1 169.1,510.7 169.4,507.7 169.7,509.7 170.0,508.8 170.3,508.4 170.6,507.9 170.9,508.3 171.2,509.7 171.5,508.0 171.8,507.6 172.1,509.7 172.4,509.1 172.7,509.6 173.0,508.5 173.3,507.9 173.6,506.7 173.9,507.4 174.2,508.4 174.5,508.3 174.8,509.8 175.1,506.9 175.4,508.0 175.7,509.1 176.0,508.0 176.3,507.5 176.6,509.7 176.9,507.4 177.2,508.7 177.5,509.0 177.8,509.8 178.1,509.6 178.4,509.7 178.7,510.7 179.0,509.8 179.3,509.7 179.6,510.8 179.9,510.0 180.2,508.9 180.5,509.8 180.8,510.6 181.1,510.5 181.4,510.8 181.7,509.2 182.0,511.1 182.3,509.9 182.6,508.5 182.9,509.1 183.2,510.0 183.5,509.1 183.8,507.7 184.1,506.8 184.4,508.8 184.7,510.5 185.0,512.1 185.3,507.6 185.6,509.1 185.9,511.6 186.2,510.7 186.5,510.3 186.8,507.2 187.1,509.6 187.4,508.9 187.7,505.8 188.0,507.7 188.3,511.9 188.6,510.9 188.9,508.9 189.2,509.0 189.5,509.8 189.8,509.4 190.1,508.9 190.4,507.0 190.7,510.0 191.0,508.9 191.3,508.8 191.6,510.0 191.9,510.1 192.2,509.0 192.5,508.1 192.8,510.4 193.1,509.9 193.4,511.0 193.7,508.7 194.0,510.6 194.3,509.2 194.6,511.4 194.9,510.3 195.2,508.1 195.5,510.0 195.8,508.0 196.1,510.7 196.4,508.6 196.7,508.9 197.0,508.0 197.3,507.2 197.6,508.4 197.9,509.7 198.2,510.7 198.5,508.8 198.8,511.6 199.1,509.7 199.4,508.6 199.7,509.0 200.0,509.5 200.3,510.0 200.6,507.5 200.9,509.2 201.2,510.2 201.5,508.7 201.8,507.6 202.1,511.2 202.4,506.8 202.7,509.3 203.0,510.3 203.3,508.2 203.6,507.7 203.9,508.9 204.2,509.5 204.5,508.8 204.8,509.9 205.2,507.4 205.5,507.3 205.8,506.7 206.1,510.6 206.4,509.6 206.7,509.2 207.0,509.6 207.3,511.5 207.6,510.1 207.9,510.5 208.2,508.2 208.5,508.7 208.8,510.3 209.1,508.3 209.4,509.7 209.7,508.9 210.0,508.6 210.3,511.5 210.6,508.9 210.9,507.3 211.2,510.3 211.5,510.7 211.8,508.6 212.1,511.7 212.4,509.8 212.7,511.2 213.0,509.4 213.3,507.6 213.6,510.9 213.9,509.2 214.2,511.3 214.5,507.4 214.8,509.8 215.1,510.7 215.4,507.5 215.7,507.6 216.0,506.9 216.3,507.4 216.6,509.7 216.9,509.9 217.2,507.0 217.5,510.2 217.8,508.6 218.1,508.1 218.4,508.1 218.7,511.6 219.0,510.1 219.3,510.6 219.6,509.5 219.9,507.8 220.2,510.3 220.5,508.7 220.8,509.5 221.1,508.0 221.4,512.0 221.7,507.7 222.0,506.9 222.3,508.0 222.6,510.3 222.9,509.1 223.2,510.3 223.5,509.3 223.8,510.2 224.1,508.9 224.4,507.6 224.7,509.8 225.0,510.2 225.3,510.1 225.6,510.5 225.9,507.7 226.2,509.5 226.5,507.4 226.8,508.9 227.1,506.7 227.4,509.8 227.7,508.3 228.0,508.9 228.3,508.3 228.6,510.1 228.9,509.6 229.2,508.1 229.5,511.6 229.8,511.2 230.1,510.4 230.4,512.3 230.7,507.9 231.0,507.5 231.3,510.9 231.6,511.4 231.9,506.6 232.2,507.8 232.5,509.9 232.8,508.6 233.1,511.3 233.4,509.0 233.7,509.5 234.0,507.4 234.3,508.5 234.6,511.6 234.9,512.3 235.2,511.6 235.5,507.4 235.8,507.7 236.1,512.2 236.4,512.6 236.7,508.5 237.0,509.1 237.3,511.0 237.6,509.9 237.9,507.5 238.2,510.0 238.5,509.8 238.8,509.2 239.1,509.6 239.4,508.9 239.7,509.4 240.0,509.7 240.3,507.9 240.6,511.4 240.9,509.5 241.2,509.1 241.5,508.1 241.8,509.0 242.1,511.5 242.4,509.4 242.7,508.9 243.0,508.4 243.3,508.8 243.6,509.9 243.9,508.8 244.2,509.7 244.5,512.2 244.8,509.8 245.1,506.0 245.4,510.0 245.7,511.8 246.0,510.5 246.3,508.9 246.6,509.6 246.9,510.2 247.2,508.3 247.5,509.8 247.8,507.5 248.1,508.7 248.4,510.5 248.7,507.2 249.0,507.2 249.3,508.7 249.6,507.9 249.9,510.2 250.2,509.1 250.5,509.9 250.8,508.6 251.1,509.1 251.4,506.1 251.7,509.9 252.0,509.5 252.3,508.6 252.6,509.5 252.9,508.0 253.2,509.4 253.5,509.8 253.8,511.6" stroke="#008080"/>
<polyline points="59.2,497.3 59.5,497.3 59.8,499.0 60.1,496.5 60.4,499.0 60.7,497.5 61.0,496.8 61.3,498.3 61.6,500.3 61.9,500.9 62.2,497.2 62.5,497.3 62.8,497.8 63.1,498.6 63.4,500.3 63.7,501.3 64.0,496.4 64.3,499.2 64.6,498.7 64.9,496.9 65.2,497.6 65.5,500.3 65.8,502.8 66.1,497.7 66.4,499.3 66.7,499.5 67.0,498.5 67.3,500.1 67.6,498.0 67.9,496.3 68.2,499.0 68.5,499.7 68.8,501.5 69.1,496.0 69.4,496.6 69.7,499.2 70.0,496.3 70.3,500.1 70.6,498.6 70.9,497.2 71.2,499.1 71.5,498.8 71.8,497.5 72.1,498.5 72.4,498.4 72.7,496.4 73.0,499.2 73.3,498.5 73.6,497.9 73.9,497.8 74.2,497.8 74.5,497.4 74.8,497.9 75.1,500.8 75.4,498.9 75.7,498.3 76.0,501.8 76.3,497.2 76.6,497.8 76.9,497.1" stroke="#0000a0"/>
<polyline points="80.2,496.5 80.5,499.1 80.8,499.4 81.1,497.9 81.4,499.7 81.7,497.2 82.0,498.2 82.3,501.0 82.6,496.3 82.9,499.0 83.2,498.7 83.5,498.8 83.8,497.4 84.1,497.5 84.4,497.6 84.7,499.8 85.0,498.9 85.3,497.9 85.6,498.2 85.9,497.5 86.2,498.9 86.5,499.6 86.8,498.3 87.1,499.2 87.4,497.9 87.7,498.4 88.0,498.9 88.3,497.1 88.6,497.4 88.9,496.8 89.2,496.8 89.5,501.8 89.8,498.8 90.1,497.6 90.4,497.9 90.7,500.7 91.0,499.2 91.3,497.0 91.6,498.0 91.9,497.8 92.2,497.2 92.5,499.4 92.8,497.9 93.1,500.0 93.4,497.5 93.7,499.8" stroke="#0000a0"/>
<polyline points="95.2,498.3 95.5,496.8 95.8,498.1 96.1,498.5 96.4,500.3 96.7,498.0 97.0,496.7 97.3,500.6 97.6,498.6 97.9,499.3 98.2,497.4 98.5,497.8 98.8,500.5 99.1,497.6 99.4,497.8 99.7,497.9 100.0,497.5 100.3,498.0 100.6,500.3 100.9,497.9 101.2,498.2 101.5,499.5 101.8,501.8 102.1,500.0 102.4,499.4 102.7,499.9 103.0,496.6 103.3,498.9 103.6,499.4 103.9,498.3 104.2,499.4 104.5,496.2 104.8,498.9 105.1,497.7 105.4,499.0 105.7,498.7 106.0,499.0 106.3,499.3 106.6,500.4 106.9,500.3 107.2,499.2 107.5,500.3 107.9,497.9 108.2,498.8 108.5,499.0 108.8,500.0 109.1,498.8 109.4,498.2 109.7,498.5 110.0,498.4 110.3,498.7 110.6,496.8 110.9,497.4 111.2,499.1 111.5,496.3 111.8,497.7 112.1,499.6 112.4,499.9 112.7,499.4 113.0,499.3 113.3,496.8 113.6,498.8 113.9,498.4 114.2,497.1 114.5,497.6 114.8,499.0 115.1,496.1 115.4,499.1 115.7,497.9 116.0,498.5 116.3,499.5 116.6,498.7 116.9,498.8 117.2,498.4 117.5,499.1 117.8,497.9 118.1,501.3 118.4,501.3 118.7,498.9 119.0,498.7 119.3,498.4 119.6,498.8 119.9,497.4 120.2,500.0 120.5,496.9 120.8,500.0 121.1,499.5 121.4,499.3 121.7,495.8 122.0,500.9 122.3,499.0 122.6,501.1 122.9,497.1 123.2,498.8 123.5,500.5 123.8,499.3 124.1,498.5 124.4,497.8 124.7,497.3 125.0,497.8 125.3,497.2 125.6,498.2 125.9,497.5 126.2,499.1 126.5,498.5 126.8,496.3 127.1,496.9 127.4,500.5 127.7,499.2 128.0,497.7 128.3,499.1 128.6,499.4 128.9,496.9 129.2,498.5 129.5,497.8 129.8,498.0 130.1,498.7 130.4,498.5 130.7,498.2 131.0,495.6 131.3,496.4 131.6,496.7 131.9,499.1 132.2,498.1 132.5,498.2 132.8,498.1 133.1,498.3 133.4,499.8 133.7,497.1 134.0,497.3 134.3,496.9 134.6,495.2 134.9,495.8 135.2,497.4 135.5,494.5 135.8,495.9 136.1,495.4 136.4,495.8 136.7,497.4 137.0,498.4 137.3,493.5 137.6,496.8 137.9,494.3 138.2,495.9 138.5,493.0 138.8,493.8 139.1,496.0 139.4,494.5 139.7,492.1 140.0,493.0 140.3,493.1 140.6,493.3 140.9,492.0 141.2,489.6 141.5,488.4 141.8,492.4 142.1,490.3 142.4,489.8 142.7,490.3 143.0,489.1 143.3,487.1 143.6,488.7 143.9,488.2 144.2,487.1 144.5,483.8 144.8,488.2 145.1,486.7 145.4,486.8 145.7,486.8 146.0,488.1 146.3,486.0 146.6,487.6 146.9,488.8 147.2,490.3 147.5,488.5 147.8,490.0 148.1,489.9 148.4,491.4 148.7,487.2 149.0,492.6 149.3,493.6 149.6,492.2 149.9,492.1 150.2,491.3 150.5,492.3 150.8,493.8 151.1,494.5 151.4,493.6 151.7,496.6 152.0,492.9 152.3,493.9 152.6,496.5 152.9,495.0 153.2,496.2 153.5,494.7 153.8,495.5 154.1,496.2 154.4,494.6 154.7,493.9 155.0,496.8 155.3,494.2 155.6,496.0 155.9,495.8 156.2,496.3 156.5,498.3 156.8,497.9 157.1,497.3 157.4,499.2 157.7,498.0 158.0,497.8 158.3,499.2 158.6,496.4 158.9,497.8 159.2,498.5 159.5,496.3 159.8,500.1 160.1,497.8 160.4,498.4 160.7,496.6 161.0,497.4 161.3,498.5 161.6,497.4 161.9,496.6 162.2,498.3 162.5,497.0 162.8,497.2 163.1,495.7 163.4,497.0 163.7,498.0 164.0,498.6 164.3,496.1 164.6,500.1 164.9,500.0 165.2,497.5 165.5,499.3 165.8,498.1 166.1,496.8 166.4,497.1 166.7,498.0 167.0,498.3 167.3,499.4 167.6,497.8 167.9,499.0 168.2,499.8 168.5,497.7 168.8,497.4 169.1,498.7 169.4,497.1 169.7,498.8 170.0,498.4 170.3,499.5 170.6,499.5 170.9,499.0 171.2,500.7 171.5,498.3 171.8,498.4 172.1,500.4 172.4,498.0 172.7,500.7 173.0,499.9 173.3,498.4 173.6,495.0 173.9,500.9 174.2,499.3 174.5,500.4 174.8,497.6 175.1,497.7 175.4,497.8 175.7,497.7 176.0,499.3 176.3,496.6 176.6,500.5 176.9,498.7 177.2,499.8 177.5,498.8 177.8,499.0 178.1,499.2 178.4,494.7 178.7,499.5 179.0,499.7 179.3,499.2 179.6,498.4 179.9,498.8 180.2,499.7 180.5,497.5 180.8,498.0 181.1,497.4 181.4,499.1 181.7,498.6 182.0,498.9 182.3,498.1 182.6,498.3 182.9,500.4 183.2,498.5 183.5,498.7 183.8,497.0 184.1,496.5 184.4,498.6 184.7,496.3 185.0,498.4 185.3,498.4 185.6,498.3 185.9,498.9 186.2,498.7 186.5,495.8 186.8,498.6 187.1,501.1 187.4,496.1 187.7,501.8 188.0,500.5 188.3,497.3 188.6,497.6 188.9,498.3 189.2,499.5 189.5,498.9 189.8,498.3 190.1,498.5 190.4,499.6 190.7,499.2 191.0,497.4 191.3,498.3 191.6,496.3 191.9,499.6 192.2,500.5 192.5,500.3 192.8,497.0 193.1,497.7 193.4,499.4 193.7,501.0 194.0,498.3 194.3,500.6 194.6,499.3 194.9,499.4 195.2,500.2 195.5,498.3 195.8,501.9 196.1,497.5 196.4,498.1 196.7,499.5 197.0,497.1 197.3,500.7 197.6,499.2 197.9,497.7 198.2,498.6 198.5,500.5 198.8,498.4 199.1,498.0 199.4,498.9 199.7,499.7 200.0,498.2 200.3,501.3 200.6,495.9 200.9,498.8 201.2,500.7 201.5,499.9 201.8,498.6 202.1,498.3 202.4,498.2 202.7,501.1 203.0,499.6 203.3,498.1 203.6,497.8 203.9,500.0 204.2,498.3 204.5,499.1 204.8,500.5 205.2,497.4 205.5,498.8 205.8,499.6 206.1,498.5 206.4,499.2 206.7,496.1 207.0,498.2 207.3,501.8 207.6,498.0 207.9,499.7 208.2,497.9 208.5,500.1 208.8,500.3 209.1,499.0 209.4,499.6 209.7,499.0 210.0,499.8 210.3,500.2 210.6,498.2 210.9,498.5 211.2,499.1 211.5,498.9 211.8,499.7 212.1,498.9 212.4,498.0 212.7,502.8 213.0,498.1 213.3,499.4 213.6,500.4 213.9,501.1 214.2,500.0 214.5,500.0 214.8,500.5 215.1,499.9 215.4,498.2 215.7,496.7 216.0,499.8 216.3,499.0 216.6,498.8 216.9,498.2 217.2,497.5 217.5,500.4 217.8,500.2 218.1,498.3 218.4,501.1 218.7,499.5 219.0,498.7 219.3,499.7 219.6,501.4 219.9,499.4 220.2,497.2 220.5,497.9 220.8,500.8 221.1,498.7 221.4,494.5 221.7,499.0 222.0,500.4 222.3,497.0 222.6,501.6 222.9,498.8 223.2,498.3 223.5,500.9 223.8,498.0 224.1,499.2 224.4,498.8 224.7,496.8 225.0,496.7 225.3,499.6 225.6,498.3 225.9,500.2 226.2,501.8 226.5,498.9 226.8,498.0 227.1,498.0 227.4,498.0 227.7,500.0 228.0,498.4 228.3,499.2 228.6,500.2 228.9,498.3 229.2,496.3 229.5,499.7 229.8,501.9 230.1,500.5 230.4,498.1 230.7,498.6 231.0,498.0 231.3,500.2 231.6,498.7 231.9,500.5 232.2,498.8 232.5,498.2 232.8,498.6 233.1,500.8 233.4,501.1 233.7,500.2 234.0,497.5 234.3,497.1 234.6,497.6 234.9,501.1 235.2,499.7 235.5,499.2 235.8,499.6 236.1,497.1 236.4,499.4 236.7,499.4 237.0,497.0 237.3,497.6 237.6,502.1 237.9,498.2 238.2,499.0 238.5,499.4 238.8,499.7 239.1,498.3 239.4,500.7 239.7,500.8 240.0,498.1 240.3,498.8 240.6,499.6 240.9,498.0 241.2,497.7 241.5,498.8 241.8,500.9 242.1,500.8 242.4,496.4 242.7,497.5 243.0,498.8 243.3,500.5 243.6,498.3 243.9,497.0 244.2,501.8 244.5,498.9 244.8,501.1 245.1,500.4 245.4,499.1 245.7,498.7 246.0,498.2 246.3,504.2 246.6,497.6 246.9,498.5 247.2,499.2 247.5,500.0 247.8,499.4 248.1,498.1 248.4,495.1 248.7,499.2 249.0,501.8 249.3,499.5 249.6,501.4 249.9,497.7 250.2,501.0 250.5,499.7 250.8,502.3 251.1,501.0 251.4,500.5 251.7,498.6 252.0,502.9 252.3,496.6 252.6,501.2 252.9,497.2 253.2,497.9 253.5,501.6 253.8,499.4" stroke="#0000a0"/>
<polyline points="59.2,489.0 59.5,490.1 59.8,489.3 60.1,492.3 60.4,491.2 60.7,488.3 61.0,490.4 61.3,490.2 61.6,493.0 61.9,489.1 62.2,489.3 62.5,491.6 62.8,490.5 63.1,490.8 63.4,491.0 63.7,489.5 64.0,489.2 64.3,486.7 64.6,488.7 64.9,490.1 65.2,489.3 65.5,488.6 65.8,487.9 66.1,490.9 66.4,491.2 66.7,490.0 67.0,489.0 67.3,488.1 67.6,492.8 67.9,490.8 68.2,491.2 68.5,490.8 68.8,485.7 69.1,492.3 69.4,491.4 69.7,492.2 70.0,491.8 70.3,492.6 70.6,491.1 70.9,491.9 71.2,492.8 71.5,492.4 71.8,485.9 72.1,489.4 72.4,487.4 72.7,488.2 73.0,486.9 73.3,489.2 73.6,484.3 73.9,489.3 74.2,490.1 74.5,488.0 74.8,490.7 75.1,488.2 75.4,492.8 75.7,488.5 76.0,487.5 76.3,488.2 76.6,491.1 76.9,489.4" stroke="#ff8000"/>
<polyline points="80.2,490.7 80.5,490.4 80.8,491.2 81.1,486.1 81.4,487.0 81.7,488.7 82.0,487.4 82.3,489.2 82.6,488.1 82.9,489.8 83.2,489.7 83.5,489.2 83.8,489.2 84.1,489.7 84.4,490.1 84.7,487.8 85.0,489.0 85.3,488.2 85.6,489.8 85.9,488.8 86.2,490.4 86.5,491.2 86.8,490.2 87.1,489.3 87.4,492.1 87.7,490.8 88.0,488.7 88.3,490.8 88.6,489.4 88.9,489.0 89.2,489.1 89.5,489.1 89.8,489.6 90.1,491.0 90.4,489.8 90.7,486.8 91.0,489.0 91.3,490.0 91.6,488.7 91.9,489.2 92.2,489.4 92.5,488.2 92.8,488.9 93.1,489.6 93.4,489.1 93.7,487.0" stroke="#ff8000"/>
<polyline points="95.2,486.7 95.5,489.4 95.8,487.4 96.1,487.7 96.4,488.5 96.7,490.9 97.0,491.4 97.3,488.4 97.6,487.6 97.9,488.1 98.2,489.1 98.5,489.7 98.8,490.4 99.1,489.6 99.4,488.9 99.7,487.8 100.0,487.2 100.3,487.2 100.6,490.1 100.9,490.1 101.2,490.3 101.5,490.6 101.8,489.3 102.1,489.9 102.4,489.6 102.7,488.4 103.0,487.6 103.3,488.9 103.6,488.3 103.9,488.6 104.2,489.3 104.5,487.1 104.8,490.9 105.1,487.5 105.4,490.5 105.7,488.5 106.0,491.0 106.3,490.5 106.6,488.7 106.9,487.2 107.2,487.0 107.5,489.9 107.9,488.5 108.2,490.4 108.5,489.2 108.8,488.9 109.1,489.2 109.4,488.6 109.7,489.8 110.0,487.4 110.3,490.2 110.6,489.0 110.9,487.4 111.2,488.0 111.5,490.6 111.8,491.8 112.1,492.4 112.4,491.4 112.7,488.8 113.0,488.4 113.3,487.4 113.6,487.8 113.9,486.1 114.2,487.6 114.5,491.4 114.8,490.1 115.1,489.1 115.4,488.6 115.7,487.9 116.0,486.7 116.3,488.9 116.6,488.1 116.9,489.5 117.2,488.2 117.5,492.7 117.8,489.4 118.1,487.2 118.4,487.9 118.7,487.7 119.0,488.0 119.3,489.4 119.6,488.7 119.9,488.9 120.2,487.4 120.5,485.7 120.8,489.1 121.1,489.9 121.4,488.5 121.7,488.7 122.0,489.1 122.3,488.5 122.6,488.0 122.9,487.6 123.2,489.9 123.5,489.2 123.8,488.0 124.1,489.4 124.4,489.5 124.7,486.2 125.0,488.0 125.3,488.7 125.6,488.4 125.9,487.6 126.2,492.3 126.5,486.1 126.8,489.4 127.1,489.3 127.4,488.4 127.7,486.8 128.0,487.1 128.3,489.5 128.6,486.3 128.9,489.0 129.2,489.8 129.5,485.8 129.8,488.1 130.1,485.9 130.4,485.1 130.7,487.2 131.0,489.0 131.3,489.0 131.6,489.2 131.9,486.1 132.2,489.9 132.5,488.8 132.8,487.6 133.1,488.5 133.4,485.1 133.7,487.3 134.0,486.4 134.3,486.8 134.6,485.8 134.9,488.1 135.2,487.5 135.5,487.2 135.8,488.9 136.1,486.0 136.4,488.0 136.7,484.4 137.0,487.1 137.3,487.2 137.6,484.7 137.9,486.6 138.2,488.2 138.5,487.8 138.8,486.6 139.1,484.6 139.4,485.4 139.7,485.9 140.0,488.3 140.3,486.3 140.6,483.8 140.9,484.2 141.2,487.1 141.5,484.6 141.8,482.0 142.1,482.7 142.4,483.1 142.7,483.4 143.0,482.3 143.3,481.9 143.6,481.4 143.9,479.5 144.2,478.2 144.5,478.7 144.8,476.6 145.1,477.1 145.4,476.5 145.7,478.6 146.0,476.1 146.3,475.2 146.6,475.6 146.9,475.3 147.2,477.4 147.5,473.8 147.8,476.8 148.1,479.9 148.4,478.3 148.7,479.5 149.0,477.9 149.3,478.4 149.6,478.5 149.9,484.0 150.2,483.8 150.5,484.7 150.8,480.8 151.1,480.2 151.4,481.5 151.7,482.3 152.0,481.2 152.3,484.7 152.6,484.0 152.9,487.9 153.2,484.3 153.5,485.4 153.8,485.0 154.1,487.8 154.4,485.1 154.7,486.7 155.0,485.7 155.3,486.2 155.6,483.9 155.9,485.1 156.2,488.6 156.5,488.4 156.8,484.1 157.1,487.8 157.4,488.8 157.7,488.7 158.0,487.8 158.3,485.5 158.6,485.7 158.9,489.3 159.2,486.6 159.5,487.3 159.8,488.5 160.1,485.8 160.4,488.2 160.7,484.0 161.0,486.2 161.3,486.1 161.6,488.1 161.9,486.6 162.2,487.3 162.5,490.6 162.8,486.7 163.1,487.0 163.4,488.2 163.7,484.3 164.0,489.4 164.3,486.8 164.6,487.1 164.9,484.9 165.2,490.5 165.5,487.3 165.8,487.3 166.1,487.8 166.4,493.1 166.7,489.5 167.0,488.2 167.3,489.2 167.6,487.8 167.9,488.7 168.2,488.9 168.5,485.8 168.8,487.9 169.1,489.8 169.4,487.2 169.7,488.8 170.0,489.7 170.3,489.5 170.6,488.4 170.9,486.3 171.2,485.5 171.5,485.4 171.8,487.5 172.1,488.2 172.4,487.3 172.7,487.0 173.0,487.2 173.3,489.5 173.6,486.3 173.9,485.8 174.2,489.1 174.5,487.6 174.8,488.4 175.1,488.6 175.4,488.3 175.7,484.8 176.0,491.4 176.3,490.7 176.6,490.0 176.9,484.5 177.2,488.2 177.5,489.8 177.8,488.5 178.1,489.9 178.4,488.2 178.7,489.8 179.0,488.5 179.3,489.2 179.6,486.0 179.9,487.6 180.2,488.6 180.5,487.2 180.8,489.5 181.1,488.0 181.4,490.7 181.7,487.0 182.0,490.2 182.3,490.1 182.6,487.1 182.9,488.9 183.2,487.5 183.5,488.5 183.8,488.2 184.1,491.6 184.4,486.5 184.7,489.1 185.0,487.6 185.3,489.6 185.6,488.1 185.9,486.9 186.2,487.7 186.5,486.6 186.8,488.9 187.1,487.4 187.4,489.0 187.7,485.5 188.0,489.9 188.3,486.0 188.6,488.1 188.9,489.6 189.2,484.5 189.5,485.9 189.8,490.1 190.1,489.7 190.4,491.1 190.7,486.8 191.0,491.3 191.3,486.2 191.6,491.1 191.9,490.8 192.2,488.8 192.5,490.9 192.8,490.7 193.1,490.0 193.4,487.1 193.7,487.4 194.0,489.0 194.3,490.4 194.6,488.5 194.9,490.7 195.2,489.1 195.5,486.3 195.8,487.0 196.1,488.9 196.4,487.8 196.7,488.4 197.0,490.5 197.3,490.5 197.6,491.8 197.9,487.6 198.2,490.0 198.5,488.2 198.8,485.7 199.1,487.8 199.4,487.0 199.7,491.2 200.0,488.2 200.3,492.7 200.6,488.2 200.9,486.4 201.2,484.0 201.5,489.7 201.8,488.5 202.1,487.2 202.4,489.8 202.7,485.3 203.0,490.5 203.3,485.8 203.6,488.5 203.9,486.7 204.2,489.0 204.5,490.0 204.8,487.2 205.2,486.4 205.5,488.3 205.8,490.4 206.1,487.2 206.4,485.0 206.7,487.3 207.0,486.6 207.3,488.9 207.6,490.0 207.9,488.7 208.2,488.4 208.5,487.0 208.8,489.0 209.1,488.9 209.4,487.5 209.7,488.3 210.0,487.1 210.3,488.6 210.6,487.9 210.9,489.4 211.2,486.6 211.5,486.8 211.8,486.1 212.1,489.3 212.4,486.2 212.7,489.8 213.0,487.8 213.3,486.6 213.6,488.2 213.9,488.8 214.2,490.5 214.5,487.4 214.8,484.8 215.1,489.9 215.4,488.3 215.7,487.7 216.0,488.3 216.3,489.1 216.6,490.6 216.9,486.1 217.2,486.5 217.5,488.3 217.8,490.5 218.1,491.1 218.4,488.2 218.7,490.8 219.0,488.7 219.3,490.4 219.6,487.9 219.9,488.7 220.2,487.2 220.5,486.9 220.8,489.5 221.1,487.7 221.4,488.1 221.7,490.3 222.0,489.6 222.3,484.9 222.6,489.2 222.9,490.2 223.2,488.9 223.5,487.3 223.8,489.5 224.1,488.4 224.4,491.9 224.7,489.1 225.0,489.7 225.3,491.6 225.6,487.2 225.9,489.5 226.2,490.3 226.5,488.6 226.8,485.0 227.1,487.7 227.4,490.6 227.7,490.3 228.0,490.5 228.3,487.1 228.6,486.4 228.9,487.0 229.2,487.0 229.5,489.9 229.8,487.2 230.1,490.0 230.4,488.3 230.7,489.6 231.0,486.4 231.3,488.3 231.6,486.3 231.9,487.5 232.2,489.2 232.5,490.7 232.8,487.7 233.1,488.1 233.4,483.9 233.7,485.8 234.0,487.2 234.3,491.5 234.6,491.5 234.9,486.1 235.2,486.5 235.5,485.5 235.8,489.6 236.1,488.7 236.4,487.8 236.7,489.6 237.0,488.8 237.3,488.9 237.6,489.2 237.9,488.2 238.2,489.3 238.5,489.5 238.8,489.8 239.1,488.4 239.4,489.0 239.7,485.8 240.0,488.5 240.3,487.6 240.6,485.3 240.9,488.0 241.2,489.7 241.5,488.0 241.8,486.7 242.1,491.9 242.4,489.5 242.7,485.5 243.0,489.1 243.3,486.5 243.6,493.1 243.9,488.6 244.2,486.1 244.5,489.1 244.8,489.0 245.1,487.9 245.4,489.1 245.7,487.5 246.0,488.9 246.3,486.0 246.6,486.6 246.9,486.6 247.2,488.3 247.5,487.9 247.8,489.0 248.1,486.7 248.4,487.0 248.7,485.5 249.0,487.2 249.3,488.9 249.6,485.8 249.9,485.1 250.2,488.5 250.5,489.6 250.8,487.4 251.1,488.9 251.4,487.5 251.7,490.8 252.0,489.8 252.3,486.4 252.6,486.5 252.9,487.8 253.2,489.1 253.5,486.4 253.8,487.1" stroke="#ff8000"/>
<polyline points="59.2,472.9 59.3,473.4 59.4,472.2 59.8,475.3 60.0,472.9 60.5,475.0 60.9,473.1 61.1,476.1 61.3,471.9 61.4,472.4 62.8,472.3 62.2,471.5 62.6,473.3 62.9,472.6 63.8,473.0 63.0,472.5 64.8,475.4 63.9,473.2 64.6,471.0 64.7,471.8 65.3,472.1 65.0,472.9 65.6,471.8 66.1,471.1 66.5,475.0 67.1,471.8 67.6,468.1 68.1,473.7 67.9,471.2 67.9,471.7 67.8,473.9 68.6,473.2 68.7,473.8 68.4,472.6 69.2,470.9 69.2,473.5 70.3,473.6 69.8,477.4 70.7,472.7 71.6,473.8 71.5,473.2 70.8,475.6 72.3,472.5 72.4,472.1 72.2,473.0 73.1,475.7 72.8,472.9 73.3,471.4 73.0,475.4 73.8,474.3 73.8,475.5 74.3,475.7 75.1,474.1 75.2,469.6 75.4,473.6 76.1,470.1 76.4,475.3 76.7,473.7 76.8,474.1 77.3,475.4" stroke="#8000ff"/>
<polyline points="80.2,471.4 80.6,473.9 81.3,473.7 80.9,472.7 82.2,473.7 81.5,473.3 81.9,473.9 81.5,474.8 82.7,472.1 82.8,474.6 82.6,471.9 83.5,474.2 83.8,472.6 84.0,474.2 85.4,473.2 84.3,474.7 84.5,472.4 85.9,472.7 84.4,472.2 85.0,474.1 86.4,470.7 86.4,474.7 86.9,474.8 87.4,473.4 86.7,475.9 88.1,472.5 88.2,475.7 88.3,471.7 88.6,474.3 88.7,474.1 89.1,474.5 90.1,470.8 89.8,474.3 90.2,472.9 89.9,473.6 90.0,472.9 92.8,474.0 90.8,471.9 92.6,473.7 93.1,474.6 91.7,474.8 91.7,472.7 93.8,474.7 93.8,473.6 94.1,474.3 93.4,472.4" stroke="#8000ff"/>
<polyline points="94.5,473.1 95.9,475.6 96.6,475.0 96.3,473.0 96.0,471.8 95.7,474.7 96.5,472.6 97.4,476.6 97.6,467.8 97.2,476.7 98.9,474.0 98.5,471.7 98.7,476.1 99.4,472.2 99.7,471.4 99.7,472.8 99.8,470.8 100.5,476.1 100.3,471.0 100.9,471.8 101.1,472.9 102.1,473.2 101.2,474.1 101.6,473.1 103.3,475.9 103.6,475.3 102.8,473.0 103.6,472.9 103.3,474.8 103.3,473.7 103.6,474.8 104.3,473.3 104.4,475.2 105.1,472.2 106.0,473.5 106.4,469.3 106.5,475.2 106.8,472.9 106.6,471.5 107.4,474.6 106.3,476.1 108.3,474.5 107.1,473.3 107.6,474.3 108.0,474.3 109.1,476.7 108.5,476.1 110.1,471.3 109.8,475.5 110.0,473.6 110.3,472.1 111.1,472.2 111.5,473.7 110.6,473.2 112.0,474.4 112.4,474.5 111.5,471.9 113.1,473.5 112.5,471.8 112.1,472.3 113.4,474.7 113.9,474.4 114.3,473.6 113.8,472.9 114.1,475.8 114.4,470.5 115.5,473.7 115.7,475.3 115.5,472.9 116.1,474.0 116.6,472.9 116.7,472.4 116.3,474.0 117.1,472.7 116.7,472.3 117.6,474.3 118.0,473.2 118.2,472.5 119.1,474.5 119.3,475.3 119.5,475.5 119.4,472.5 119.2,474.4 120.5,472.9 120.2,469.5 121.1,471.8 121.1,473.6 121.8,475.5 121.6,472.2 122.1,473.1 122.6,473.7 123.0,474.4 122.8,474.4 123.4,472.7 123.4,471.4 124.3,475.0 123.9,471.8 125.3,470.3 124.9,472.4 125.4,471.4 124.6,473.9 124.8,472.5 126.2,472.9 126.0,473.0 126.3,472.0 125.9,472.8 127.1,473.3 127.1,470.1 128.1,470.4 128.2,469.4 128.6,468.1 128.7,470.9 129.4,470.4 129.0,469.4 128.9,467.6 129.6,469.2 130.4,468.0 130.9,469.3 131.1,467.1 131.1,466.6 131.1,465.0 131.5,465.5 132.5,464.6 132.2,466.6 132.3,464.9 132.6,463.6 132.9,461.8 133.1,463.3 132.7,461.8 133.0,459.1 134.1,458.9 134.9,457.3 135.2,456.5 135.2,452.8 135.3,450.6 135.9,450.5 135.5,449.7 136.4,449.0 135.8,445.2 137.2,444.5 136.8,445.0 136.5,446.0 138.0,446.2 138.1,448.2 138.0,446.2 138.6,448.7 138.3,448.9 139.0,450.9 140.1,448.0 139.8,449.5 140.2,452.6 140.1,455.9 141.1,456.5 140.8,458.3 142.1,458.7 141.6,456.6 142.5,457.7 141.9,461.1 143.4,458.7 143.0,461.0 143.2,460.0 144.1,463.2 143.7,460.9 144.0,462.4 144.5,459.7 146.1,460.6 145.0,463.5 145.7,462.9 146.1,460.6 146.3,462.1 146.6,464.4 146.5,464.2 147.0,463.2 147.4,462.7 148.0,466.7 147.6,463.4 149.0,464.2 148.4,463.9 148.9,463.1 149.5,463.3 149.5,463.2 149.1,464.4 149.7,462.5 150.9,461.0 150.5,466.4 151.1,464.9 151.0,469.1 151.0,468.0 151.4,464.8 153.7,466.7 152.8,467.1 152.3,468.7 152.6,466.7 153.2,471.9 153.0,466.1 153.8,470.0 154.0,468.7 154.1,469.9 153.8,469.3 155.1,471.0 155.1,471.2 155.7,467.2 156.2,468.8 156.9,471.9 156.2,470.8 156.1,472.6 157.5,471.3 157.2,471.6 157.4,469.8 158.2,472.1 158.0,476.6 158.8,470.5 158.3,476.6 159.4,471.6 160.3,472.9 159.6,475.1 160.1,473.5 160.6,470.3 160.0,473.8 162.1,472.9 160.8,473.8 161.3,474.0 161.8,472.2 161.6,475.1 162.0,476.8 163.4,473.3 162.7,474.1 163.7,472.1 164.2,473.2 163.8,472.5 164.2,472.4 164.1,471.1 164.3,474.1 165.1,474.9 165.9,471.1 165.9,474.0 165.6,472.3 166.7,473.3 167.0,474.8 166.6,475.4 166.4,476.5 167.8,475.5 168.1,474.7 167.4,477.1 169.2,476.6 169.2,475.2 169.4,474.4 168.9,475.9 169.9,476.4 170.6,476.9 170.5,478.3 170.0,478.3 170.6,475.6 171.8,475.3 171.4,474.2 172.1,476.6 172.0,476.0 173.2,476.8 173.4,476.5 173.6,475.6 173.2,475.6 174.3,473.6 173.7,476.3 173.8,472.3 174.6,472.2 175.1,475.9 174.7,477.1 174.7,474.8 175.8,475.3 176.5,474.3 176.0,474.1 176.1,476.0 176.9,477.3 177.5,476.0 177.5,475.6 178.2,474.9 177.6,478.5 177.6,475.4 179.3,477.0 179.5,474.1 180.0,473.8 179.0,472.7 180.8,473.9 180.5,475.8 180.1,475.1 181.6,469.6 181.6,477.3 182.2,474.9 182.4,474.8 182.6,475.7 183.1,474.9 183.1,475.7 183.3,473.3 182.7,475.3 184.0,477.8 184.1,472.6 184.0,476.5 184.3,474.5 184.4,475.7 184.0,473.6 185.3,472.9 186.2,475.8 186.4,476.4 185.1,473.7 186.5,476.6 186.8,472.7 187.4,475.0 187.9,473.1 187.7,473.0 189.1,475.2 188.6,477.8 188.8,475.5 189.4,476.1 189.4,475.1 189.4,474.5 189.7,473.5 190.3,475.5 191.3,474.7 191.0,472.3 190.8,473.7 191.4,474.2 191.3,474.3 192.1,473.7 192.7,473.7 192.1,472.9 192.2,471.8 192.8,474.2 194.2,471.1 193.9,475.0 193.9,476.1 194.1,473.6 194.4,474.1 195.2,475.2 195.0,477.3 195.5,476.7 195.4,474.6 196.3,475.9 196.2,477.0 195.9,473.9 196.9,475.6 196.5,474.3 196.8,476.6 198.5,478.1 197.7,475.0 198.3,475.4 199.4,478.2 199.2,476.8 198.9,476.8 199.1,476.3 200.5,475.4 200.3,475.5 200.9,478.7 201.2,477.7 201.8,474.9 201.7,474.4 201.9,476.2 202.7,477.8 202.8,474.3 202.3,475.4 202.4,474.5 203.5,476.9 203.5,476.4 204.0,478.9 203.4,476.1 205.3,478.6 204.5,474.3 204.8,479.5 206.0,483.1 205.6,479.0 205.9,476.7 206.1,478.9 206.9,479.1 206.8,475.6 206.9,475.6 208.1,475.2 207.5,476.6 208.3,476.2 208.5,477.0 209.1,478.1 209.2,477.3 209.1,477.9 209.4,477.3 210.0,476.7 209.6,477.3 211.2,476.3 211.0,476.6 210.2,475.1 211.4,478.2 212.0,474.8 211.4,476.8 212.6,477.3 212.0,475.8 213.0,478.7 213.9,476.0 214.1,474.3 214.6,475.3 214.3,475.2 214.2,476.7 215.3,476.5 214.3,475.8 214.7,476.2 216.2,475.7 216.7,472.9 216.0,477.6 216.6,476.4 217.0,475.3 217.3,475.3 218.0,477.9 217.7,477.4 217.9,479.8 218.7,480.5 219.0,476.0 219.8,476.7 219.1,479.1 220.1,473.6 219.2,478.8 220.0,481.2 220.5,478.2 221.0,477.6 219.8,481.6 221.4,476.5 220.8,475.8 221.5,479.0 223.3,475.4 222.6,480.2 222.6,477.7 223.4,479.3 222.7,479.2 223.9,480.0 223.6,475.6 224.4,478.2 225.2,476.9 224.7,480.2 224.5,477.8 225.8,479.1 225.6,474.7 226.7,481.6 226.9,477.3 226.4,474.8 226.8,477.7 227.4,477.3 228.6,476.7 228.3,475.3 228.4,476.5 228.6,476.3 227.5,475.9 228.0,477.4 229.7,476.8 230.5,479.8 228.7,474.4 230.2,478.4 230.7,477.7 230.2,478.7 230.7,476.2 231.3,479.2 232.3,479.4 231.9,476.2 232.0,480.4 232.8,474.1 233.4,476.7 233.8,479.2 233.1,477.1 234.3,480.6 233.2,479.1 234.8,478.1 234.8,475.9 234.9,477.2 235.4,472.5 235.0,479.2 236.5,477.0 236.1,478.4 235.9,478.4 236.6,476.0 237.3,478.6 237.9,475.6 238.9,476.9 237.8,477.1 238.1,478.7 238.8,475.4 239.9,479.1 239.8,480.1 239.4,476.6 240.7,475.3 240.0,479.2 241.3,478.4 240.9,478.0 241.1,479.9 241.8,478.7 241.3,481.5 241.6,477.3 242.4,479.2 242.7,478.6 243.2,477.0 243.5,479.6 244.4,481.9 243.8,476.8 244.3,480.6 244.3,475.9 244.7,478.3 244.9,478.8 245.4,478.4 246.1,479.7 245.5,477.0 245.8,479.9 245.2,475.3 246.5,479.4 246.9,479.8 247.2,476.3 248.0,479.8 247.5,475.4 247.9,479.8 248.3,477.1 248.7,480.3 249.0,478.7 249.8,477.6 249.8,480.2 250.5,479.8 251.2,479.7 250.3,474.4 250.6,481.3 250.8,478.4 251.5,480.2 251.9,478.9 251.5,479.8 252.3,475.1 252.8,480.8 252.5,477.9 252.8,480.4 254.3,476.1" stroke="#8000ff"/>
<polyline points="56.2,422.3 56.8,428.8 57.5,424.7 57.6,422.2 58.1,427.0 58.2,431.2 57.7,424.6 58.6,425.8 59.5,424.1 58.4,425.7 60.2,426.2 60.0,427.0 60.6,424.4 60.3,426.5 60.4,420.6 61.0,421.2 62.1,421.9 62.3,427.6 62.0,428.2 61.1,428.5 62.4,429.9 62.7,426.3 63.7,435.4 62.8,432.9 63.5,436.8 63.4,437.9 64.4,435.4 65.4,432.9 64.1,427.9 65.0,427.2 65.6,425.8 65.8,431.1 65.5,431.0 66.4,430.4 66.7,428.8 67.1,432.3 66.9,430.8 67.0,432.7 67.6,438.2 68.7,437.8 67.9,437.8 68.7,436.8 68.0,436.1 69.7,436.1 69.6,434.9 69.9,433.7 69.7,436.7 70.7,441.2 71.6,437.1 71.6,434.4 71.4,436.4 71.8,429.9 72.4,434.2 73.1,435.0 73.5,436.4 73.3,434.0 72.7,436.0 73.6,434.0 73.7,433.1 74.9,433.7 73.8,435.2 74.7,434.2 74.9,436.5 75.2,433.4 75.3,443.4 76.1,441.6 76.3,439.3 76.2,438.6 76.2,440.1 76.8,441.3 78.1,438.5 77.3,439.2 77.9,435.8 78.2,434.9 78.7,442.0 78.2,444.8 79.3,440.0 79.3,440.3 78.8,439.1 80.2,433.8 81.2,438.2 80.8,434.2 81.2,438.9 81.1,437.7 80.6,441.7 81.4,441.1 81.2,436.5 82.1,436.9 82.8,434.7 82.5,436.3 83.3,440.2 83.7,438.2 84.2,439.8 85.4,442.6 85.3,441.2 85.0,441.4 85.6,442.5 84.8,439.7 85.7,439.7 85.8,441.4 86.1,440.5 86.4,439.5 87.3,436.8 87.3,439.3 88.1,438.6 88.0,437.0 88.4,444.1 87.2,441.5 88.0,442.9 90.1,437.8 89.0,443.8 90.4,437.3 90.0,440.4 90.4,439.7 91.0,440.2 91.0,438.0 91.5,440.5 91.3,445.1 92.2,446.7 92.5,449.0 93.3,445.6 92.6,447.1 93.5,447.2 92.7,445.7 92.8,441.3 94.6,439.1 93.5,443.7 93.7,444.8 94.3,442.4 95.5,439.3 95.2,444.1 96.6,444.7 97.1,446.5 96.4,442.2 97.2,445.1 98.0,443.8 96.4,443.1 97.7,442.2 97.7,441.0 97.9,447.1 98.1,442.4 98.1,446.2 99.9,438.1 99.4,441.3 99.3,440.4 99.3,441.9 100.8,443.8 100.1,441.1 101.3,441.2 101.3,443.0 101.8,447.5 100.9,447.0 101.5,446.1 102.5,449.0 102.3,446.1 103.0,446.6 102.9,446.6 103.8,445.3 104.1,441.3 104.0,446.7 105.0,445.2 104.6,446.7 104.8,449.7 104.4,446.3 106.1,448.9 105.5,447.4 106.6,444.7 106.7,447.8 106.5,446.2 107.0,445.2 107.0,445.0 107.2,447.2 108.5,441.9 108.3,442.8 108.0,438.4 108.8,442.2 108.8,442.8 109.4,442.1 110.0,439.2 110.2,441.6 110.4,441.0 111.1,442.2 111.4,442.8 111.8,442.4 111.6,443.1 111.2,441.9 112.0,440.1 112.0,442.8 113.0,444.9 113.0,443.8 113.2,443.2 113.9,445.8 115.2,445.0 114.1,446.5 114.9,447.6 114.7,444.8 114.5,447.5 114.9,448.0 114.9,443.6 116.0,444.0 116.8,444.0 116.9,443.6 118.0,445.2 117.1,444.0 117.1,445.1 118.0,440.2 118.1,440.8 118.0,437.9 118.5,441.5 119.8,437.5 119.2,437.8 119.6,436.5 119.9,437.7 119.7,441.7 121.0,436.9 121.1,437.2 121.8,438.4 121.7,435.3 122.1,430.1 121.7,432.0 122.3,432.9 123.0,431.1 122.6,432.7 123.1,429.4 124.2,427.7 123.9,424.9 124.2,425.4 124.2,422.2 124.7,418.6 125.5,411.7 126.0,412.2 125.4,407.1 126.5,402.7 127.0,401.2 126.6,398.5 126.6,393.7 127.9,391.5 128.1,384.8 128.2,380.9 128.6,380.2 129.0,373.1 128.9,378.5 128.9,380.4 129.0,381.9 130.1,383.4 129.8,389.0 129.2,387.2 130.8,396.6 130.8,399.7 131.1,401.2 130.8,407.5 131.9,410.3 132.3,415.0 131.8,412.1 131.9,418.4 132.4,421.4 133.7,423.1 133.3,426.7 133.3,429.6 134.2,429.7 134.8,431.5 134.4,431.6 134.2,435.2 135.6,432.3 135.1,433.2 135.2,434.6 136.1,434.7 137.6,431.4 137.3,436.0 137.0,436.9 137.2,437.6 136.8,438.7 138.2,439.3 138.2,438.9 138.8,436.4 138.7,441.5 139.9,438.3 139.5,441.0 139.6,440.7 140.2,443.9 140.9,440.7 141.2,441.6 141.3,443.5 141.4,443.9 142.3,440.2 141.3,440.6 142.1,441.4 142.2,438.6 142.4,437.9 143.4,437.1 143.0,436.3 143.4,436.6 144.1,434.5 143.8,432.6 144.0,430.6 145.2,429.0 144.6,431.3 145.9,430.4 146.7,427.3 146.5,431.5 145.8,425.0 147.3,429.5 146.9,426.0 147.3,426.0 148.0,424.8 148.6,425.3 148.4,422.9 149.3,426.6 149.0,429.4 149.4,425.4 148.8,430.3 149.7,430.1 150.0,429.1 149.4,428.9 150.6,428.4 150.8,431.1 150.8,430.9 150.7,435.3 153.2,431.7 151.2,436.8 153.0,435.4 152.1,438.9 152.9,439.1 153.7,439.6 153.8,441.8 153.1,442.3 154.2,443.3 154.4,444.2 155.4,445.7 155.1,445.3 155.4,446.7 156.1,448.1 156.4,445.1 156.2,450.4 156.9,449.9 156.7,450.9 157.4,450.8 157.0,448.8 158.6,452.0 158.6,452.9 158.5,448.3 158.6,447.5 158.6,451.4 158.1,449.6 159.7,450.6 160.1,454.3 160.3,452.6 160.8,450.2 161.3,456.4 160.6,453.6 161.6,451.3 162.0,450.9 162.3,453.0 162.9,454.5 162.8,453.2 162.8,456.5 163.8,454.1 163.3,452.4 164.6,454.4 164.2,452.0 165.0,454.9 164.7,454.5 164.5,455.0 166.4,456.6 164.9,455.3 165.9,452.8 166.7,455.7 166.6,456.6 166.9,457.8 166.4,456.5 166.8,454.7 167.4,451.9 168.5,454.4 167.8,453.4 168.3,452.4 169.5,454.9 169.2,452.8 170.2,454.7 169.8,457.4 170.9,455.8 170.3,456.3 170.3,455.0 170.7,455.8 170.9,456.0 170.8,456.8 171.0,457.6 172.4,456.4 172.5,455.6 172.4,455.6 173.7,450.2 173.3,455.3 174.2,451.3 173.4,455.2 173.5,453.9 174.3,452.9 175.5,454.7 175.2,453.8 174.6,455.7 175.7,454.1 176.3,454.1 176.8,451.8 176.4,451.4 177.2,452.3 176.1,453.4 178.2,449.2 178.2,450.5 177.4,447.5 179.3,448.9 179.2,449.1 178.8,447.3 179.5,449.0 180.2,449.9 179.6,451.3 180.7,450.9 180.8,452.9 180.6,452.7 181.2,452.0 181.9,454.6 182.7,454.1 182.1,453.6 182.4,457.9 183.0,455.2 183.2,454.4 183.1,452.3 184.0,453.3 184.1,455.6 184.1,459.2 184.9,456.2 184.0,454.2 186.0,455.6 185.5,455.5 185.9,457.0 185.8,457.4 186.9,457.5 187.3,457.9 187.1,453.7 187.4,455.7 187.8,457.4 188.7,458.5 187.6,455.7 188.3,455.4 188.7,452.2 189.0,451.9 189.3,454.0 189.5,452.1 189.2,452.1 190.4,451.6 190.4,450.2 191.3,450.8 190.9,454.6 191.7,456.0 191.2,452.9 190.8,452.9 192.7,451.1 192.8,456.8 192.5,455.3 192.9,454.7 193.8,456.1 194.1,454.8 193.8,455.0 194.7,459.2 195.0,458.8 194.6,460.1 195.1,459.3 196.1,457.2 196.2,459.8 196.4,459.1 195.8,458.7 196.9,456.8 197.0,458.5 197.4,459.4 197.8,457.5 198.1,456.0 198.3,457.1 198.9,458.1 198.5,457.6 198.9,458.3 198.9,460.2 200.7,460.1 199.3,462.3 201.5,460.0 201.9,462.1 201.1,459.9 202.6,458.0 201.7,458.4 201.6,461.2 202.9,461.9 203.7,460.4 202.4,462.2 204.5,458.5 202.8,459.6 204.7,463.5 203.8,461.7 203.8,457.9 204.7,459.9 203.6,463.2 206.3,462.7 206.1,461.0 205.5,458.7 206.2,460.8 205.6,461.8 207.1,461.8 207.0,459.8 208.1,460.1 207.6,459.8 208.1,461.4 208.3,459.7 208.1,461.7 209.1,464.4 209.2,463.5 210.0,462.0 210.1,458.9 210.3,461.7 210.1,462.4 210.2,459.8 211.0,464.1 211.1,461.4 211.1,461.4 211.5,463.2 212.1,462.0 212.8,463.0 213.3,463.7 212.2,464.2 213.7,460.1 213.2,461.1 213.9,462.4 213.4,461.5 214.1,459.7 214.5,463.3 214.7,464.3 214.4,461.1 215.7,462.0 216.1,460.7 217.0,460.3 216.2,459.9 217.1,459.6 216.7,460.8 218.0,458.2 218.3,460.4 218.4,462.7 217.9,459.8 219.0,460.3 219.5,460.6 219.0,464.1 219.8,459.5 219.4,458.8 220.5,461.8 220.7,461.6 220.7,461.1 221.0,460.1 221.9,462.6 223.0,460.7 221.4,463.0 222.0,463.1 222.2,467.0 223.1,462.5 222.7,463.1 223.6,460.7 223.9,463.6 225.2,464.4 223.8,464.8 225.5,463.3 224.4,465.0 226.0,464.5 225.0,462.9 225.6,462.7 226.2,463.9 226.7,465.4 226.8,464.3 227.8,463.2 227.8,463.5 228.2,460.6 227.6,464.9 227.9,462.5 228.9,462.8 229.0,462.3 228.4,460.6 229.0,461.1 230.4,463.1 230.6,462.2 230.6,462.5 230.6,460.2 231.1,462.4 231.9,461.2 231.1,462.4 232.0,461.4 232.2,462.4 231.6,463.6 232.9,464.4 233.4,464.7 234.1,463.3 233.8,460.8 233.9,461.6 234.1,462.9 235.0,462.9 235.3,461.3 235.7,462.7 236.0,462.8 236.2,462.7 236.5,461.6 237.1,458.1 236.9,459.4 237.2,461.4 237.1,459.3 236.6,460.9 237.3,460.5 238.0,462.0 238.8,464.0 239.0,463.4 239.0,461.6 239.4,462.6 238.7,461.8 239.7,461.2 240.7,464.1 239.9,462.6 240.4,463.6 241.5,462.8 241.4,464.8 241.9,466.2 242.0,464.9 241.9,463.0 242.4,464.7 243.7,464.8 243.3,461.5 243.0,464.7 243.4,463.1 243.9,465.2 243.8,462.9 244.5,465.1 245.4,464.3 245.0,462.6 246.0,464.4 246.6,462.4 246.0,464.5 247.4,462.1 246.4,463.3 246.8,463.2 248.1,461.5 247.8,462.7 247.5,463.1 248.2,463.3 248.1,463.8 249.1,464.2 249.3,465.2 250.1,460.6 249.5,462.6 250.3,466.4 251.5,465.9 251.0,466.6 251.6,464.4 251.7,464.0 251.2,464.9 252.1,465.1 251.9,466.5 251.9,466.9 253.5,463.2 253.7,465.1 252.9,463.7 253.9,462.0" stroke="#ff0080"/>
</g>
<rect x="55.8" y="316.5" width="198.0" height="307.29999999999995" fill="none" stroke="#000" stroke-width="1.6"/>
<text x="48.2" y="628.95" font-size="14.7" text-anchor="end" fill="#000" font-weight="normal" font-style="normal" >0.0</text>
<line x1="55.8" y1="585.56" x2="64.8" y2="585.56" stroke="#000" stroke-width="1.6" />
<line x1="253.8" y1="585.56" x2="245.3" y2="585.56" stroke="#000" stroke-width="1.6" />
<text x="48.2" y="590.51" font-size="14.7" text-anchor="end" fill="#000" font-weight="normal" font-style="normal" >0.1</text>
<line x1="55.8" y1="547.12" x2="64.8" y2="547.12" stroke="#000" stroke-width="1.6" />
<line x1="253.8" y1="547.12" x2="245.3" y2="547.12" stroke="#000" stroke-width="1.6" />
<text x="48.2" y="552.07" font-size="14.7" text-anchor="end" fill="#000" font-weight="normal" font-style="normal" >0.2</text>
<line x1="55.8" y1="508.68" x2="64.8" y2="508.68" stroke="#000" stroke-width="1.6" />
<line x1="253.8" y1="508.68" x2="245.3" y2="508.68" stroke="#000" stroke-width="1.6" />
<text x="48.2" y="513.63" font-size="14.7" text-anchor="end" fill="#000" font-weight="normal" font-style="normal" >0.3</text>
<line x1="55.8" y1="470.24" x2="64.8" y2="470.24" stroke="#000" stroke-width="1.6" />
<line x1="253.8" y1="470.24" x2="245.3" y2="470.24" stroke="#000" stroke-width="1.6" />
<text x="48.2" y="475.19" font-size="14.7" text-anchor="end" fill="#000" font-weight="normal" font-style="normal" >0.4</text>
<line x1="55.8" y1="431.8" x2="64.8" y2="431.8" stroke="#000" stroke-width="1.6" />
<line x1="253.8" y1="431.8" x2="245.3" y2="431.8" stroke="#000" stroke-width="1.6" />
<text x="48.2" y="436.75" font-size="14.7" text-anchor="end" fill="#000" font-weight="normal" font-style="normal" >0.5</text>
<line x1="55.8" y1="393.36" x2="64.8" y2="393.36" stroke="#000" stroke-width="1.6" />
<line x1="253.8" y1="393.36" x2="245.3" y2="393.36" stroke="#000" stroke-width="1.6" />
<text x="48.2" y="398.31" font-size="14.7" text-anchor="end" fill="#000" font-weight="normal" font-style="normal" >0.6</text>
<line x1="55.8" y1="354.92" x2="64.8" y2="354.92" stroke="#000" stroke-width="1.6" />
<line x1="253.8" y1="354.92" x2="245.3" y2="354.92" stroke="#000" stroke-width="1.6" />
<text x="48.2" y="359.87" font-size="14.7" text-anchor="end" fill="#000" font-weight="normal" font-style="normal" >0.7</text>
<text x="48.2" y="321.43" font-size="14.7" text-anchor="end" fill="#000" font-weight="normal" font-style="normal" >0.8</text>
<line x1="55.8" y1="604.78" x2="60.4" y2="604.78" stroke="#000" stroke-width="1.6" />
<line x1="253.8" y1="604.78" x2="249.2" y2="604.78" stroke="#000" stroke-width="1.6" />
<line x1="55.8" y1="566.34" x2="60.4" y2="566.34" stroke="#000" stroke-width="1.6" />
<line x1="253.8" y1="566.34" x2="249.2" y2="566.34" stroke="#000" stroke-width="1.6" />
<line x1="55.8" y1="527.9" x2="60.4" y2="527.9" stroke="#000" stroke-width="1.6" />
<line x1="253.8" y1="527.9" x2="249.2" y2="527.9" stroke="#000" stroke-width="1.6" />
<line x1="55.8" y1="489.46" x2="60.4" y2="489.46" stroke="#000" stroke-width="1.6" />
<line x1="253.8" y1="489.46" x2="249.2" y2="489.46" stroke="#000" stroke-width="1.6" />
<line x1="55.8" y1="451.02" x2="60.4" y2="451.02" stroke="#000" stroke-width="1.6" />
<line x1="253.8" y1="451.02" x2="249.2" y2="451.02" stroke="#000" stroke-width="1.6" />
<line x1="55.8" y1="412.58" x2="60.4" y2="412.58" stroke="#000" stroke-width="1.6" />
<line x1="253.8" y1="412.58" x2="249.2" y2="412.58" stroke="#000" stroke-width="1.6" />
<line x1="55.8" y1="374.14" x2="60.4" y2="374.14" stroke="#000" stroke-width="1.6" />
<line x1="253.8" y1="374.14" x2="249.2" y2="374.14" stroke="#000" stroke-width="1.6" />
<line x1="55.8" y1="335.7" x2="60.4" y2="335.7" stroke="#000" stroke-width="1.6" />
<line x1="253.8" y1="335.7" x2="249.2" y2="335.7" stroke="#000" stroke-width="1.6" />
<line x1="83.25" y1="316.5" x2="83.25" y2="321.1" stroke="#000" stroke-width="1.6" />
<line x1="83.25" y1="623.8" x2="83.25" y2="619.2" stroke="#000" stroke-width="1.6" />
<line x1="117.3" y1="316.5" x2="117.3" y2="324.8" stroke="#000" stroke-width="1.6" />
<line x1="117.3" y1="623.8" x2="117.3" y2="615.5" stroke="#000" stroke-width="1.6" />
<line x1="151.35" y1="316.5" x2="151.35" y2="321.1" stroke="#000" stroke-width="1.6" />
<line x1="151.35" y1="623.8" x2="151.35" y2="619.2" stroke="#000" stroke-width="1.6" />
<line x1="185.4" y1="316.5" x2="185.4" y2="324.8" stroke="#000" stroke-width="1.6" />
<line x1="185.4" y1="623.8" x2="185.4" y2="615.5" stroke="#000" stroke-width="1.6" />
<line x1="219.45" y1="316.5" x2="219.45" y2="321.1" stroke="#000" stroke-width="1.6" />
<line x1="219.45" y1="623.8" x2="219.45" y2="619.2" stroke="#000" stroke-width="1.6" />
<text x="117.3" y="642" font-size="14.7" text-anchor="middle" fill="#000" font-weight="normal" font-style="normal" >3</text>
<text x="185.4" y="642" font-size="14.7" text-anchor="middle" fill="#000" font-weight="normal" font-style="normal" >4</text>
<text x="253.5" y="642" font-size="14.7" text-anchor="middle" fill="#000" font-weight="normal" font-style="normal" >5</text>
<text x="155.2" y="661.8" font-size="14.7" text-anchor="middle" fill="#000" font-weight="normal" font-style="normal" ><tspan font-style="italic">f</tspan> (GHz)</text>
<text transform="translate(14 469.7) rotate(-90)" font-size="14.7" text-anchor="middle" >PSD (μV<tspan font-size="10.4" dy="-4.4">2</tspan><tspan dy="4.4">Hz</tspan><tspan font-size="10.4" dy="-4.4">–1</tspan><tspan dy="4.4">)</tspan></text>
<text x="120.6" y="335.8" font-size="14.7" fill="#f00">P<tspan font-size="10.4" dy="5" dx="-0.9">1</tspan></text>
<text x="139.6" y="380.6" font-size="14.7" fill="#000">P<tspan font-size="10.4" dy="5" dx="-0.9">2</tspan></text>
<path d="M127.9 341 V360" stroke="#f00" stroke-width="1.8"/>
<polygon points="127.9,370 121.4,354.8 127.9,359 134.4,354.8" fill="#f00"/>
<path d="M146.7 386 V404.9" stroke="#000" stroke-width="1.8"/>
<polygon points="146.7,414.9 140.2,399.7 146.7,403.9 153.2,399.7" fill="#000"/>
<text x="260.5" y="438.6" font-size="14.7" font-style="italic" fill="#000">I</text>
<text x="266.1" y="434.9" font-size="10.4" fill="#000">spin Hall</text>
<text x="265.7" y="442.7" font-size="10.4" fill="#000">c</text>
<text x="260.4" y="464.2" font-size="14.7" text-anchor="start" fill="#000" font-weight="normal" font-style="normal" >–8 mA</text>
<text x="260.8" y="553.3" font-size="14.7" text-anchor="start" fill="#000" font-weight="normal" font-style="normal" >0 mA</text>
<text x="260.8" y="626.5" font-size="14.7" text-anchor="start" fill="#000" font-weight="normal" font-style="normal" >8 mA</text>
<path d="M272.5 530 V479.8" stroke="#000" stroke-width="1.7"/>
<polygon points="272.5,467 267.5,483 277.5,483" fill="#000"/>
<path d="M272.5 562.5 V600" stroke="#000" stroke-width="1.7"/>
<polygon points="272.5,612.8 267.5,596.8 277.5,596.8" fill="#000"/>
</g>
<g id="panel-de">
<text x="358.3" y="330.4" font-size="21.5" text-anchor="start" fill="#000" font-weight="bold" font-style="normal" >d</text>
<text x="358.5" y="508.1" font-size="21.5" text-anchor="start" fill="#000" font-weight="bold" font-style="normal" >e</text>
<rect x="412.3" y="367.2" width="262.90000000000003" height="256.59999999999997" fill="none" stroke="#000" stroke-width="1.7"/>
<line x1="412.3" y1="494.9" x2="675.2" y2="494.9" stroke="#000" stroke-width="1.7" />
<text x="404.7" y="372.15" font-size="14.7" text-anchor="end" fill="#000" font-weight="normal" font-style="normal" >3.6</text>
<line x1="412.3" y1="418.8" x2="420.3" y2="418.8" stroke="#000" stroke-width="1.7" />
<line x1="675.2" y1="418.8" x2="667.2" y2="418.8" stroke="#000" stroke-width="1.7" />
<text x="404.7" y="423.75" font-size="14.7" text-anchor="end" fill="#000" font-weight="normal" font-style="normal" >3.3</text>
<line x1="412.3" y1="470.2" x2="420.3" y2="470.2" stroke="#000" stroke-width="1.7" />
<line x1="675.2" y1="470.2" x2="667.2" y2="470.2" stroke="#000" stroke-width="1.7" />
<text x="404.7" y="475.15" font-size="14.7" text-anchor="end" fill="#000" font-weight="normal" font-style="normal" >3.0</text>
<line x1="412.3" y1="393" x2="416.7" y2="393" stroke="#000" stroke-width="1.7" />
<line x1="675.2" y1="393" x2="670.8" y2="393" stroke="#000" stroke-width="1.7" />
<line x1="412.3" y1="444.5" x2="416.7" y2="444.5" stroke="#000" stroke-width="1.7" />
<line x1="675.2" y1="444.5" x2="670.8" y2="444.5" stroke="#000" stroke-width="1.7" />
<line x1="483.4" y1="367.2" x2="483.4" y2="375.8" stroke="#000" stroke-width="1.7" />
<text x="482.2" y="358.8" font-size="14.7" text-anchor="middle" fill="#000" font-weight="normal" font-style="normal" >–6</text>
<line x1="578.4" y1="367.2" x2="578.4" y2="375.8" stroke="#000" stroke-width="1.7" />
<text x="577.2" y="358.8" font-size="14.7" text-anchor="middle" fill="#000" font-weight="normal" font-style="normal" >–3</text>
<line x1="673.4" y1="367.2" x2="673.4" y2="375.8" stroke="#000" stroke-width="1.7" />
<text x="672.6" y="358.8" font-size="14.7" text-anchor="middle" fill="#000" font-weight="normal" font-style="normal" >0</text>
<line x1="435.9" y1="367.2" x2="435.9" y2="371.7" stroke="#000" stroke-width="1.7" />
<line x1="530.9" y1="367.2" x2="530.9" y2="371.7" stroke="#000" stroke-width="1.7" />
<line x1="625.9" y1="367.2" x2="625.9" y2="371.7" stroke="#000" stroke-width="1.7" />
<text x="503.4" y="333.4" font-size="14.7" font-style="italic" fill="#000">I</text>
<text x="509.2" y="329.7" font-size="10.4" fill="#000">spin Hall</text>
<text x="508.8" y="337.5" font-size="10.4" fill="#000">c</text>
<text x="552.9" y="333.4" font-size="14.7" fill="#000">(mA)</text>
<text transform="translate(370.8 431.2) rotate(-90)" font-size="14.7" text-anchor="middle" ><tspan font-style="italic">f</tspan> (GHz)</text>
<line x1="460" y1="486.9" x2="460" y2="502.9" stroke="#000" stroke-width="1.7" />
<line x1="460" y1="623.8" x2="460" y2="615.8" stroke="#000" stroke-width="1.7" />
<text x="459.6" y="641.8" font-size="14.7" text-anchor="middle" fill="#000" font-weight="normal" font-style="normal" >–450</text>
<line x1="531" y1="486.9" x2="531" y2="502.9" stroke="#000" stroke-width="1.7" />
<line x1="531" y1="623.8" x2="531" y2="615.8" stroke="#000" stroke-width="1.7" />
<text x="530.6" y="641.8" font-size="14.7" text-anchor="middle" fill="#000" font-weight="normal" font-style="normal" >–300</text>
<line x1="602" y1="486.9" x2="602" y2="502.9" stroke="#000" stroke-width="1.7" />
<line x1="602" y1="623.8" x2="602" y2="615.8" stroke="#000" stroke-width="1.7" />
<text x="601.6" y="641.8" font-size="14.7" text-anchor="middle" fill="#000" font-weight="normal" font-style="normal" >–150</text>
<line x1="673" y1="486.9" x2="673" y2="502.9" stroke="#000" stroke-width="1.7" />
<line x1="673" y1="623.8" x2="673" y2="615.8" stroke="#000" stroke-width="1.7" />
<text x="672.2" y="641.8" font-size="14.7" text-anchor="middle" fill="#000" font-weight="normal" font-style="normal" >0</text>
<line x1="424.5" y1="490.7" x2="424.5" y2="499.1" stroke="#000" stroke-width="1.7" />
<line x1="424.5" y1="623.8" x2="424.5" y2="619.6" stroke="#000" stroke-width="1.7" />
<line x1="495.5" y1="490.7" x2="495.5" y2="499.1" stroke="#000" stroke-width="1.7" />
<line x1="495.5" y1="623.8" x2="495.5" y2="619.6" stroke="#000" stroke-width="1.7" />
<line x1="566.5" y1="490.7" x2="566.5" y2="499.1" stroke="#000" stroke-width="1.7" />
<line x1="566.5" y1="623.8" x2="566.5" y2="619.6" stroke="#000" stroke-width="1.7" />
<line x1="637.5" y1="490.7" x2="637.5" y2="499.1" stroke="#000" stroke-width="1.7" />
<line x1="637.5" y1="623.8" x2="637.5" y2="619.6" stroke="#000" stroke-width="1.7" />
<line x1="412.3" y1="538" x2="420.5" y2="538" stroke="#000" stroke-width="1.7" />
<line x1="675.2" y1="538" x2="667" y2="538" stroke="#000" stroke-width="1.7" />
<text x="404.6" y="542.95" font-size="14.7" text-anchor="end" fill="#000" font-weight="normal" font-style="normal" >6</text>
<line x1="412.3" y1="580.8" x2="420.5" y2="580.8" stroke="#000" stroke-width="1.7" />
<line x1="675.2" y1="580.8" x2="667" y2="580.8" stroke="#000" stroke-width="1.7" />
<text x="404.6" y="585.75" font-size="14.7" text-anchor="end" fill="#000" font-weight="normal" font-style="normal" >3</text>
<text x="404.6" y="628.55" font-size="14.7" text-anchor="end" fill="#000" font-weight="normal" font-style="normal" >0</text>
<line x1="412.3" y1="516.6" x2="416.7" y2="516.6" stroke="#000" stroke-width="1.7" />
<line x1="675.2" y1="516.6" x2="670.8" y2="516.6" stroke="#000" stroke-width="1.7" />
<line x1="412.3" y1="559.4" x2="416.7" y2="559.4" stroke="#000" stroke-width="1.7" />
<line x1="675.2" y1="559.4" x2="670.8" y2="559.4" stroke="#000" stroke-width="1.7" />
<line x1="412.3" y1="602.2" x2="416.7" y2="602.2" stroke="#000" stroke-width="1.7" />
<line x1="675.2" y1="602.2" x2="670.8" y2="602.2" stroke="#000" stroke-width="1.7" />
<text transform="translate(381 559.2) rotate(-90)" font-size="14.7" text-anchor="middle" ><tspan font-style="italic">P</tspan><tspan font-size="10.4" dy="4.4">matched</tspan><tspan dy="-4.4"> (nW)</tspan></text>
<text x="481.6" y="527.1" font-size="14.7" font-style="italic" fill="#000">I</text>
<text x="487.4" y="523.4" font-size="10.4" fill="#000">tunneling</text>
<text x="487" y="531.2" font-size="10.4" fill="#000">c</text>
<text x="533.9" y="527.1" font-size="14.7" fill="#000">= –0.05 mA</text>
<text x="478.6" y="547.7" font-size="14.7"><tspan font-style="italic">H</tspan><tspan font-size="10.4" dy="4.4">app</tspan><tspan dy="-4.4" dx="-1.2"> = –150 Oe</tspan></text>
<text x="481.6" y="667" font-size="14.7" font-style="italic" fill="#000">J</text>
<text x="491.2" y="663.3" font-size="10.4" fill="#000">spin Hall</text>
<text x="490.8" y="671.1" font-size="10.4" fill="#000">c</text>
<text x="535.2" y="667" font-size="14.7" fill="#000">(10<tspan font-size="10.4" dy="-5.5">9</tspan><tspan dy="5.5" dx="2.2"> Am</tspan><tspan font-size="10.4" dy="-5.5">–2</tspan><tspan dy="5.5">)</tspan></text>
<clipPath id="cd"><rect x="412.3" y="365.2" width="263.70000000000005" height="260.59999999999997"/></clipPath>
<g clip-path="url(#cd)">
<line x1="413.1" y1="390.5" x2="426.9" y2="390.5" stroke="#000" stroke-width="1.5"/>
<rect x="417.05" y="387.55" width="5.9" height="5.9" fill="#000"/>
<line x1="428.89" y1="390.1" x2="442.69" y2="390.1" stroke="#000" stroke-width="1.5"/>
<rect x="432.84" y="387.15" width="5.9" height="5.9" fill="#000"/>
<line x1="444.68" y1="394" x2="458.48" y2="394" stroke="#000" stroke-width="1.5"/>
<rect x="448.63" y="391.05" width="5.9" height="5.9" fill="#000"/>
<line x1="460.47" y1="395.9" x2="474.27" y2="395.9" stroke="#000" stroke-width="1.5"/>
<circle cx="467.37" cy="395.9" r="3.3" fill="#000"/>
<line x1="476.26" y1="396.6" x2="490.06" y2="396.6" stroke="#000" stroke-width="1.5"/>
<circle cx="483.16" cy="396.6" r="3.3" fill="#000"/>
<line x1="492.05" y1="398.3" x2="505.85" y2="398.3" stroke="#000" stroke-width="1.5"/>
<circle cx="498.95" cy="398.3" r="3.3" fill="#000"/>
<line x1="507.84" y1="398" x2="521.64" y2="398" stroke="#000" stroke-width="1.5"/>
<circle cx="514.74" cy="398" r="3.3" fill="#000"/>
<line x1="523.63" y1="405.2" x2="537.43" y2="405.2" stroke="#000" stroke-width="1.5"/>
<circle cx="530.53" cy="405.2" r="3.3" fill="#000"/>
<line x1="539.42" y1="418" x2="553.22" y2="418" stroke="#000" stroke-width="1.5"/>
<circle cx="546.32" cy="418" r="3.3" fill="#000"/>
<line x1="555.21" y1="420.2" x2="569.01" y2="420.2" stroke="#000" stroke-width="1.5"/>
<circle cx="562.11" cy="420.2" r="3.3" fill="#000"/>
<line x1="571" y1="435.5" x2="584.8" y2="435.5" stroke="#000" stroke-width="1.5"/>
<circle cx="577.9" cy="435.5" r="3.3" fill="#000"/>
<line x1="586.79" y1="449.9" x2="600.59" y2="449.9" stroke="#000" stroke-width="1.5"/>
<circle cx="593.69" cy="449.9" r="3.3" fill="#000"/>
<line x1="602.58" y1="453" x2="616.38" y2="453" stroke="#000" stroke-width="1.5"/>
<circle cx="609.48" cy="453" r="3.3" fill="#000"/>
<line x1="618.37" y1="466.3" x2="632.17" y2="466.3" stroke="#000" stroke-width="1.5"/>
<circle cx="625.27" cy="466.3" r="3.3" fill="#000"/>
<line x1="634.16" y1="466.6" x2="647.96" y2="466.6" stroke="#000" stroke-width="1.5"/>
<circle cx="641.06" cy="466.6" r="3.3" fill="#000"/>
<line x1="649.95" y1="466.6" x2="663.75" y2="466.6" stroke="#000" stroke-width="1.5"/>
<circle cx="656.85" cy="466.6" r="3.3" fill="#000"/>
<line x1="665.74" y1="471.8" x2="679.54" y2="471.8" stroke="#000" stroke-width="1.5"/>
<circle cx="672.64" cy="471.8" r="3.3" fill="#000"/>
<line x1="412.8" y1="443.3" x2="427.2" y2="443.3" stroke="#f00" stroke-width="0.9"/>
<line x1="412.8" y1="445.3" x2="427.2" y2="445.3" stroke="#f00" stroke-width="0.9"/>
<circle cx="420" cy="444.3" r="3.3" fill="#f00"/>
<line x1="428.59" y1="431.4" x2="442.99" y2="431.4" stroke="#f00" stroke-width="0.9"/>
<line x1="428.59" y1="433.4" x2="442.99" y2="433.4" stroke="#f00" stroke-width="0.9"/>
<circle cx="435.79" cy="432.4" r="3.3" fill="#f00"/>
<line x1="444.38" y1="419" x2="458.78" y2="419" stroke="#f00" stroke-width="0.9"/>
<line x1="444.38" y1="421" x2="458.78" y2="421" stroke="#f00" stroke-width="0.9"/>
<circle cx="451.58" cy="420" r="3.3" fill="#f00"/>
<line x1="413.1" y1="500.6" x2="426.9" y2="500.6" stroke="#000" stroke-width="1.5"/>
<circle cx="420" cy="500.6" r="3.3" fill="#000"/>
<line x1="428.89" y1="561.1" x2="442.69" y2="561.1" stroke="#000" stroke-width="1.5"/>
<circle cx="435.79" cy="561.1" r="3.3" fill="#000"/>
<line x1="444.68" y1="587.1" x2="458.48" y2="587.1" stroke="#000" stroke-width="1.5"/>
<circle cx="451.58" cy="587.1" r="3.3" fill="#000"/>
<line x1="460.47" y1="596.3" x2="474.27" y2="596.3" stroke="#000" stroke-width="1.5"/>
<circle cx="467.37" cy="596.3" r="3.3" fill="#000"/>
<line x1="476.26" y1="606.6" x2="490.06" y2="606.6" stroke="#000" stroke-width="1.5"/>
<circle cx="483.16" cy="606.6" r="3.3" fill="#000"/>
<line x1="492.05" y1="612.6" x2="505.85" y2="612.6" stroke="#000" stroke-width="1.5"/>
<circle cx="498.95" cy="612.6" r="3.3" fill="#000"/>
<line x1="507.84" y1="613.7" x2="521.64" y2="613.7" stroke="#000" stroke-width="1.5"/>
<circle cx="514.74" cy="613.7" r="3.3" fill="#000"/>
<line x1="523.63" y1="615.9" x2="537.43" y2="615.9" stroke="#000" stroke-width="1.5"/>
<circle cx="530.53" cy="615.9" r="3.3" fill="#000"/>
<line x1="539.42" y1="616.7" x2="553.22" y2="616.7" stroke="#000" stroke-width="1.5"/>
<circle cx="546.32" cy="616.7" r="3.3" fill="#000"/>
<line x1="555.21" y1="617.3" x2="569.01" y2="617.3" stroke="#000" stroke-width="1.5"/>
<circle cx="562.11" cy="617.3" r="3.3" fill="#000"/>
<line x1="571" y1="618.2" x2="584.8" y2="618.2" stroke="#000" stroke-width="1.5"/>
<circle cx="577.9" cy="618.2" r="3.3" fill="#000"/>
<line x1="586.79" y1="619.3" x2="600.59" y2="619.3" stroke="#000" stroke-width="1.5"/>
<circle cx="593.69" cy="619.3" r="3.3" fill="#000"/>
<line x1="602.58" y1="620.2" x2="616.38" y2="620.2" stroke="#000" stroke-width="1.5"/>
<circle cx="609.48" cy="620.2" r="3.3" fill="#000"/>
<line x1="618.37" y1="620.5" x2="632.17" y2="620.5" stroke="#000" stroke-width="1.5"/>
<circle cx="625.27" cy="620.5" r="3.3" fill="#000"/>
<line x1="634.16" y1="621" x2="647.96" y2="621" stroke="#000" stroke-width="1.5"/>
<circle cx="641.06" cy="621" r="3.3" fill="#000"/>
<line x1="649.95" y1="621" x2="663.75" y2="621" stroke="#000" stroke-width="1.5"/>
<circle cx="656.85" cy="621" r="3.3" fill="#000"/>
<line x1="665.74" y1="621.3" x2="679.54" y2="621.3" stroke="#000" stroke-width="1.5"/>
<circle cx="672.64" cy="621.3" r="3.3" fill="#000"/>
</g>
</g>
</svg>
</body></html>
